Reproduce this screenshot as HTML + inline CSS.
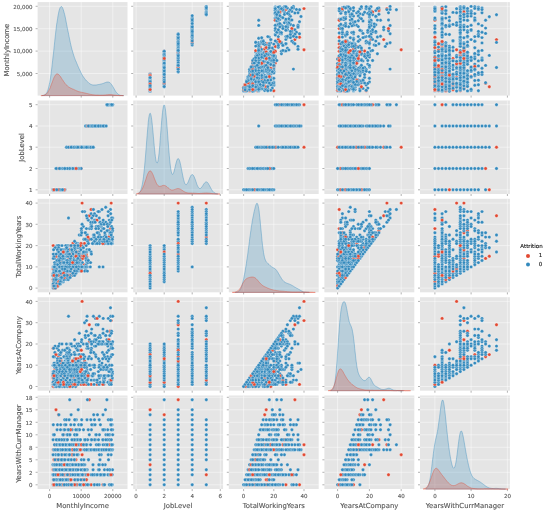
<!DOCTYPE html><html><head><meta charset="utf-8"><title>pairplot</title><style>html,body{margin:0;padding:0;background:#fff;overflow:hidden}svg{display:block;filter:blur(.4px)}</style></head><body><svg width="550" height="514" viewBox="0 0 550 514">
<style>text{font-family:"DejaVu Sans","Liberation Sans",sans-serif;fill:#555;stroke:#555;stroke-width:.12px}.t{font-size:5.5px}.l{font-size:6.87px}circle{r:1.7px;fill:#348ABD;stroke:#fff;stroke-width:0.3px}.r{fill:#E24A33}.g{stroke:#fff;stroke-width:.46px;fill:none}.k{stroke:#555;stroke-width:.46px;fill:none}</style>
<rect width="550" height="514" fill="#fff"/>
<rect x="37.6" y="2.1" width="89.9" height="93.5" fill="#E5E5E5"/>
<path class="g" d="M49.6 2.1v93.5M81.2 2.1v93.5M112.8 2.1v93.5M37.6 73.5h89.9M37.6 51.1h89.9M37.6 28.7h89.9M37.6 6.3h89.9"/>
<path class="k" d="M49.6 95.6v2M81.2 95.6v2M112.8 95.6v2M37.6 73.5h-2M37.6 51.1h-2M37.6 28.7h-2M37.6 6.3h-2"/>
<polygon points="41.9,95.6 42.4,95.5 42.8,95.5 43.2,95.4 43.6,95.3 44,95.2 44.4,95 44.8,94.8 45.2,94.5 45.6,94.1 46.1,93.7 46.5,93.1 46.9,92.4 47.3,91.6 47.7,90.5 48.1,89.3 48.5,87.9 48.9,86.2 49.3,84.3 49.8,82.2 50.2,79.8 50.6,77.2 51,74.3 51.4,71.2 51.8,67.9 52.2,64.4 52.6,60.8 53,57 53.5,53.2 53.9,49.3 54.3,45.4 54.7,41.6 55.1,37.8 55.5,34.2 55.9,30.6 56.3,27.3 56.7,24.1 57.2,21.2 57.6,18.5 58,16 58.4,13.9 58.8,11.9 59.2,10.3 59.6,9 60,7.9 60.4,7.2 60.9,6.7 61.3,6.6 61.7,6.7 62.1,7.1 62.5,7.7 62.9,8.7 63.3,9.8 63.7,11.1 64.1,12.6 64.6,14.3 65,16.1 65.4,18 65.8,20 66.2,22.1 66.6,24.2 67,26.3 67.4,28.4 67.8,30.5 68.3,32.6 68.7,34.7 69.1,36.7 69.5,38.7 69.9,40.6 70.3,42.5 70.7,44.3 71.1,46 71.5,47.7 71.9,49.3 72.4,50.8 72.8,52.3 73.2,53.7 73.6,55 74,56.2 74.4,57.4 74.8,58.5 75.2,59.6 75.6,60.6 76.1,61.6 76.5,62.6 76.9,63.6 77.3,64.5 77.7,65.5 78.1,66.4 78.5,67.3 78.9,68.3 79.3,69.2 79.8,70.1 80.2,71 80.6,71.8 81,72.7 81.4,73.5 81.8,74.3 82.2,75 82.6,75.7 83,76.3 83.5,77 83.9,77.6 84.3,78.1 84.7,78.7 85.1,79.2 85.5,79.7 85.9,80.1 86.3,80.6 86.7,81 87.2,81.4 87.6,81.8 88,82.2 88.4,82.6 88.8,83 89.2,83.3 89.6,83.6 90,83.9 90.4,84.1 90.9,84.3 91.3,84.5 91.7,84.7 92.1,84.8 92.5,84.9 92.9,85 93.3,85 93.7,85 94.1,85 94.6,85 95,85 95.4,85 95.8,84.9 96.2,84.9 96.6,84.9 97,84.8 97.4,84.7 97.8,84.7 98.3,84.6 98.7,84.5 99.1,84.5 99.5,84.4 99.9,84.3 100.3,84.2 100.7,84.1 101.1,84 101.5,83.9 102,83.8 102.4,83.7 102.8,83.5 103.2,83.4 103.6,83.3 104,83.1 104.4,82.9 104.8,82.8 105.2,82.6 105.6,82.5 106.1,82.3 106.5,82.2 106.9,82.1 107.3,82.1 107.7,82 108.1,82 108.5,82.1 108.9,82.2 109.3,82.4 109.8,82.6 110.2,83 110.6,83.4 111,83.8 111.4,84.3 111.8,84.9 112.2,85.5 112.6,86.2 113,86.9 113.5,87.7 113.9,88.4 114.3,89.1 114.7,89.8 115.1,90.5 115.5,91.2 115.9,91.8 116.3,92.3 116.7,92.8 117.2,93.3 117.6,93.7 118,94 118.4,94.4 118.8,94.6 119.2,94.8 119.6,95 120,95.1 120.4,95.3 120.9,95.4 121.3,95.4 121.7,95.5 122.1,95.5 122.5,95.6 122.9,95.6 123.3,95.6 123.7,95.6 123.7,95.6 41.9,95.6" fill="#348ABD" fill-opacity=".25" stroke="#348ABD" stroke-width=".4" stroke-linejoin="round"/>
<polygon points="40.9,95.6 41.3,95.6 41.7,95.6 42.1,95.5 42.5,95.5 42.9,95.4 43.3,95.4 43.8,95.3 44.2,95.2 44.6,95 45,94.8 45.4,94.6 45.8,94.3 46.2,94 46.7,93.7 47.1,93.2 47.5,92.7 47.9,92.1 48.3,91.5 48.7,90.7 49.2,89.9 49.6,89 50,88.1 50.4,87.1 50.8,86 51.2,84.9 51.6,83.8 52.1,82.6 52.5,81.5 52.9,80.3 53.3,79.3 53.7,78.3 54.1,77.3 54.6,76.5 55,75.8 55.4,75.1 55.8,74.6 56.2,74.3 56.6,74 57,73.9 57.5,73.9 57.9,74.1 58.3,74.3 58.7,74.6 59.1,75 59.5,75.5 60,76 60.4,76.5 60.8,77.1 61.2,77.8 61.6,78.4 62,79 62.4,79.7 62.9,80.3 63.3,81 63.7,81.6 64.1,82.2 64.5,82.7 64.9,83.3 65.3,83.8 65.8,84.3 66.2,84.8 66.6,85.2 67,85.6 67.4,86 67.8,86.3 68.3,86.7 68.7,87 69.1,87.2 69.5,87.5 69.9,87.7 70.3,87.9 70.7,88.1 71.2,88.3 71.6,88.5 72,88.7 72.4,88.9 72.8,89.1 73.2,89.2 73.7,89.4 74.1,89.6 74.5,89.8 74.9,90 75.3,90.2 75.7,90.4 76.1,90.6 76.6,90.8 77,91 77.4,91.1 77.8,91.3 78.2,91.5 78.6,91.6 79.1,91.7 79.5,91.8 79.9,91.9 80.3,92 80.7,92.1 81.1,92.2 81.5,92.3 82,92.4 82.4,92.5 82.8,92.5 83.2,92.6 83.6,92.7 84,92.8 84.4,92.9 84.9,93 85.3,93.1 85.7,93.2 86.1,93.3 86.5,93.4 86.9,93.5 87.4,93.6 87.8,93.7 88.2,93.8 88.6,93.9 89,94 89.4,94.1 89.8,94.2 90.3,94.3 90.7,94.4 91.1,94.4 91.5,94.5 91.9,94.6 92.3,94.7 92.8,94.7 93.2,94.8 93.6,94.8 94,94.9 94.4,94.9 94.8,94.9 95.2,95 95.7,95 96.1,95 96.5,95.1 96.9,95.1 97.3,95.1 97.7,95.1 98.2,95.1 98.6,95.1 99,95.1 99.4,95.2 99.8,95.2 100.2,95.2 100.6,95.2 101.1,95.2 101.5,95.2 101.9,95.2 102.3,95.2 102.7,95.1 103.1,95.1 103.5,95.1 104,95.1 104.4,95 104.8,95 105.2,95 105.6,94.9 106,94.9 106.5,94.8 106.9,94.8 107.3,94.8 107.7,94.7 108.1,94.7 108.5,94.6 108.9,94.6 109.4,94.6 109.8,94.6 110.2,94.6 110.6,94.6 111,94.6 111.4,94.6 111.9,94.7 112.3,94.7 112.7,94.8 113.1,94.8 113.5,94.9 113.9,94.9 114.3,95 114.8,95.1 115.2,95.1 115.6,95.2 116,95.2 116.4,95.3 116.8,95.3 117.3,95.4 117.7,95.4 118.1,95.5 118.5,95.5 118.9,95.5 119.3,95.6 119.7,95.6 120.2,95.6 120.6,95.6 121,95.6 121.4,95.6 121.8,95.6 122.2,95.6 122.6,95.6 123.1,95.6 123.5,95.6 123.5,95.6 40.9,95.6" fill="#E24A33" fill-opacity=".25" stroke="#E24A33" stroke-width=".4" stroke-linejoin="round"/>
<rect x="133.2" y="2.1" width="89.9" height="93.5" fill="#E5E5E5"/>
<path class="g" d="M136.1 2.1v93.5M164.2 2.1v93.5M192.2 2.1v93.5M220.3 2.1v93.5M133.2 73.5h89.9M133.2 51.1h89.9M133.2 28.7h89.9M133.2 6.3h89.9"/>
<path class="k" d="M136.1 95.6v2M164.2 95.6v2M192.2 95.6v2M220.3 95.6v2M133.2 73.5h-2M133.2 51.1h-2M133.2 28.7h-2M133.2 6.3h-2"/>
<circle class="r" cx="164.2" cy="51.2"/><circle class="r" cx="150.1" cy="74"/><circle cx="178.2" cy="38.3"/><circle cx="192.2" cy="39.4"/><circle cx="178.2" cy="72.1"/><circle cx="164.2" cy="86.7"/><circle cx="178.2" cy="71.6"/><circle cx="178.2" cy="33.9"/><circle cx="150.1" cy="91.2"/><circle cx="150.1" cy="74"/><circle cx="150.1" cy="74.5"/><circle cx="164.2" cy="53"/><circle cx="178.2" cy="66.4"/><circle cx="164.2" cy="83.8"/><circle cx="164.2" cy="61.7"/><circle cx="178.2" cy="58.8"/><circle cx="192.2" cy="45"/><circle cx="164.2" cy="51.5"/><circle cx="192.2" cy="43.2"/><circle cx="164.2" cy="54.2"/><circle cx="178.2" cy="53.9"/><circle cx="206.3" cy="14.7"/><circle cx="164.2" cy="84.8"/><circle cx="178.2" cy="52.9"/><circle cx="164.2" cy="51.3"/><circle class="r" cx="192.2" cy="41.5"/><circle class="r" cx="164.2" cy="82.9"/><circle cx="178.2" cy="45.5"/><circle cx="192.2" cy="37.6"/><circle cx="192.2" cy="40.9"/><circle class="r" cx="178.2" cy="52.4"/><circle cx="164.2" cy="65.8"/><circle cx="192.2" cy="25.5"/><circle cx="192.2" cy="28.5"/><circle cx="192.2" cy="33.8"/><circle cx="206.3" cy="6.4"/><circle cx="164.2" cy="64.6"/><circle cx="178.2" cy="39.6"/><circle cx="192.2" cy="36.2"/><circle cx="178.2" cy="68.3"/><circle cx="178.2" cy="44.7"/><circle cx="192.2" cy="21.7"/><circle cx="178.2" cy="36.2"/><circle cx="206.3" cy="6.7"/><circle cx="206.3" cy="11.7"/><circle cx="150.1" cy="74.7"/><circle cx="206.3" cy="9.6"/><circle cx="192.2" cy="35.1"/><circle cx="178.2" cy="37.8"/><circle class="r" cx="178.2" cy="67.2"/><circle cx="178.2" cy="48.6"/><circle cx="192.2" cy="27.2"/><circle cx="164.2" cy="60.3"/><circle cx="192.2" cy="26.6"/><circle cx="178.2" cy="34.3"/><circle cx="164.2" cy="86.6"/><circle cx="164.2" cy="78.6"/><circle cx="178.2" cy="51.5"/><circle cx="164.2" cy="54.3"/><circle cx="150.1" cy="91"/><circle cx="178.2" cy="54.7"/><circle cx="192.2" cy="29.8"/><circle cx="192.2" cy="30.3"/><circle cx="178.2" cy="57.1"/><circle cx="178.2" cy="46.1"/><circle class="r" cx="150.1" cy="82.9"/><circle cx="150.1" cy="84.4"/><circle cx="178.2" cy="47.9"/><circle cx="192.2" cy="23.6"/><circle cx="164.2" cy="55.6"/><circle class="r" cx="150.1" cy="90.3"/><circle cx="206.3" cy="12.4"/><circle cx="178.2" cy="49.5"/><circle cx="192.2" cy="17.9"/><circle cx="178.2" cy="69.2"/><circle cx="150.1" cy="90"/><circle cx="192.2" cy="26.9"/><circle cx="150.1" cy="87.4"/><circle cx="164.2" cy="59.6"/><circle cx="150.1" cy="88.7"/><circle cx="150.1" cy="89.9"/><circle cx="192.2" cy="18.7"/><circle class="r" cx="150.1" cy="75.1"/><circle cx="178.2" cy="60.1"/><circle cx="164.2" cy="69.3"/><circle cx="150.1" cy="89.3"/><circle cx="178.2" cy="64.3"/><circle cx="164.2" cy="79.1"/><circle cx="178.2" cy="58"/><circle cx="178.2" cy="50.3"/><circle cx="164.2" cy="57.2"/><circle cx="164.2" cy="57.8"/><circle cx="164.2" cy="66.4"/><circle cx="178.2" cy="60.7"/><circle cx="192.2" cy="20"/><circle cx="164.2" cy="80.2"/><circle cx="164.2" cy="63.2"/><circle class="r" cx="164.2" cy="58.5"/><circle class="r" cx="164.2" cy="76.6"/><circle cx="206.3" cy="8.7"/><circle cx="206.3" cy="7.8"/><circle cx="164.2" cy="81.9"/><circle cx="150.1" cy="86.8"/><circle class="r" cx="150.1" cy="89.6"/><circle class="r" cx="150.1" cy="76.1"/><circle cx="178.2" cy="41.3"/><circle cx="206.3" cy="13.4"/><circle cx="150.1" cy="82.3"/><circle cx="150.1" cy="79.8"/><circle cx="178.2" cy="55.8"/><circle cx="192.2" cy="15.7"/><circle cx="206.3" cy="14.5"/><circle cx="150.1" cy="80.7"/><circle cx="164.2" cy="63.1"/><circle cx="164.2" cy="72.6"/><circle cx="164.2" cy="70.7"/><circle cx="164.2" cy="77.1"/><circle cx="178.2" cy="50.4"/><circle cx="178.2" cy="62.8"/><circle cx="150.1" cy="78.2"/><circle cx="192.2" cy="32.6"/><circle cx="192.2" cy="31.4"/><circle cx="178.2" cy="42.3"/><circle cx="178.2" cy="65.3"/><circle cx="150.1" cy="81.7"/><circle cx="178.2" cy="65.4"/><circle class="r" cx="150.1" cy="84"/><circle cx="164.2" cy="67"/><circle cx="164.2" cy="67.7"/><circle cx="164.2" cy="73.1"/><circle cx="150.1" cy="77.6"/><circle cx="164.2" cy="71"/><circle cx="178.2" cy="43.7"/><circle cx="150.1" cy="85.7"/><circle cx="150.1" cy="77.6"/><circle cx="164.2" cy="75"/><circle cx="164.2" cy="74.4"/>
<rect x="228.8" y="2.1" width="89.9" height="93.5" fill="#E5E5E5"/>
<path class="g" d="M243.6 2.1v93.5M273.8 2.1v93.5M304 2.1v93.5M228.8 73.5h89.9M228.8 51.1h89.9M228.8 28.7h89.9M228.8 6.3h89.9"/>
<path class="k" d="M243.6 95.6v2M273.8 95.6v2M304 95.6v2M228.8 73.5h-2M228.8 51.1h-2M228.8 28.7h-2M228.8 6.3h-2"/>
<circle class="r" cx="266.2" cy="43.5"/><circle class="r" cx="260.2" cy="47.3"/><circle class="r" cx="285.9" cy="9.6"/><circle class="r" cx="294.9" cy="39.6"/><circle class="r" cx="284.4" cy="10.7"/><circle class="r" cx="304" cy="8.6"/><circle class="r" cx="264.7" cy="83.3"/><circle class="r" cx="278.3" cy="39.4"/><circle class="r" cx="299.5" cy="37.2"/><circle cx="261.7" cy="49.5"/><circle cx="263.2" cy="52.6"/><circle cx="278.3" cy="21"/><circle cx="258.7" cy="38.3"/><circle cx="285.9" cy="39.4"/><circle cx="287.4" cy="8.1"/><circle cx="275.3" cy="14.5"/><circle cx="267.8" cy="48.9"/><circle cx="275.3" cy="56.2"/><circle cx="273.8" cy="67"/><circle cx="249.6" cy="69.3"/><circle cx="298" cy="27.4"/><circle class="r" cx="273.8" cy="90.8"/><circle cx="264.7" cy="42.9"/><circle cx="287.4" cy="48.1"/><circle cx="275.3" cy="34"/><circle cx="281.4" cy="25.2"/><circle cx="263.2" cy="86"/><circle cx="285.9" cy="43.8"/><circle cx="275.3" cy="13.6"/><circle cx="281.4" cy="53.8"/><circle cx="264.7" cy="82.8"/><circle cx="284.4" cy="22.8"/><circle cx="276.8" cy="33"/><circle cx="294.9" cy="29.8"/><circle cx="267.8" cy="82.9"/><circle cx="273.8" cy="72.1"/><circle cx="275.3" cy="20.5"/><circle cx="255.7" cy="42.6"/><circle cx="278.3" cy="36.6"/><circle cx="245.1" cy="84.1"/><circle class="r" cx="275.3" cy="46.5"/><circle cx="284.4" cy="7.3"/><circle cx="273.8" cy="68.9"/><circle cx="261.7" cy="86.7"/><circle cx="287.4" cy="22.8"/><circle cx="275.3" cy="58.1"/><circle cx="264.7" cy="51.7"/><circle cx="258.7" cy="20.3"/><circle cx="263.2" cy="85.3"/><circle cx="267.8" cy="52.9"/><circle cx="270.8" cy="42.9"/><circle cx="298" cy="46.4"/><circle cx="251.2" cy="66.8"/><circle cx="284.4" cy="12.3"/><circle cx="266.2" cy="72"/><circle cx="263.2" cy="53.5"/><circle cx="275.3" cy="51.5"/><circle class="r" cx="267.8" cy="43.9"/><circle cx="299.5" cy="9.7"/><circle cx="282.9" cy="10.6"/><circle cx="276.8" cy="42"/><circle cx="270.8" cy="39.8"/><circle cx="290.4" cy="24.7"/><circle cx="278.3" cy="47.3"/><circle cx="281.4" cy="10.5"/><circle class="r" cx="257.2" cy="90.8"/><circle cx="281.4" cy="33.9"/><circle cx="248.1" cy="77.4"/><circle cx="269.3" cy="43.4"/><circle cx="255.7" cy="90"/><circle cx="290.4" cy="36.1"/><circle cx="260.2" cy="51.8"/><circle cx="267.8" cy="73.9"/><circle cx="296.4" cy="37.1"/><circle cx="243.6" cy="91"/><circle cx="291.9" cy="41.2"/><circle cx="269.3" cy="84.3"/><circle cx="298" cy="25.3"/><circle cx="279.8" cy="12.9"/><circle cx="266.2" cy="48"/><circle cx="249.6" cy="71.8"/><circle cx="273.8" cy="81.9"/><circle cx="273.8" cy="57.1"/><circle cx="269.3" cy="37.1"/><circle cx="287.4" cy="29.7"/><circle cx="296.4" cy="32.2"/><circle cx="245.1" cy="91"/><circle cx="273.8" cy="54.8"/><circle cx="291.9" cy="11.4"/><circle cx="264.7" cy="65.1"/><circle cx="273.8" cy="78.3"/><circle cx="275.3" cy="13.3"/><circle cx="260.2" cy="54.1"/><circle cx="255.7" cy="52.1"/><circle cx="285.9" cy="20.2"/><circle cx="270.8" cy="74.3"/><circle cx="264.7" cy="75.1"/><circle cx="275.3" cy="30.5"/><circle cx="273.8" cy="85.4"/><circle cx="270.8" cy="62"/><circle cx="267.8" cy="36.6"/><circle cx="275.3" cy="25.7"/><circle cx="285.9" cy="36.6"/><circle cx="284.4" cy="50.9"/><circle cx="298" cy="49.3"/><circle cx="279.8" cy="33.4"/><circle cx="273.8" cy="50.2"/><circle cx="245.1" cy="90.7"/><circle cx="267.8" cy="72.7"/><circle cx="279.8" cy="31.4"/><circle cx="270.8" cy="77.1"/><circle class="r" cx="275.3" cy="63.1"/><circle cx="261.7" cy="65.3"/><circle cx="279.8" cy="31.9"/><circle cx="270.8" cy="60.9"/><circle cx="264.7" cy="75.5"/><circle cx="272.3" cy="58.3"/><circle cx="258.7" cy="90.9"/><circle cx="261.7" cy="41"/><circle cx="285.9" cy="50.9"/><circle cx="252.7" cy="91.2"/><circle cx="284.4" cy="6.7"/><circle cx="293.4" cy="69.1"/><circle cx="278.3" cy="44"/><circle cx="266.2" cy="45.1"/><circle class="r" cx="264.7" cy="62"/><circle cx="276.8" cy="25.3"/><circle cx="294.9" cy="13"/><circle cx="269.3" cy="73"/><circle cx="290.4" cy="24.3"/><circle cx="288.9" cy="22"/><circle class="r" cx="252.7" cy="62.1"/><circle cx="272.3" cy="55.4"/><circle cx="276.8" cy="60.5"/><circle cx="267.8" cy="82.2"/><circle cx="288.9" cy="23.1"/><circle cx="298" cy="12.8"/><circle class="r" cx="304" cy="49.8"/><circle cx="257.2" cy="45"/><circle cx="266.2" cy="76.6"/><circle cx="269.3" cy="59.7"/><circle cx="264.7" cy="89"/><circle cx="243.6" cy="90.4"/><circle cx="249.6" cy="69.7"/><circle class="r" cx="245.1" cy="84.4"/><circle class="r" cx="266.2" cy="51.9"/><circle cx="275.3" cy="25.3"/><circle cx="270.8" cy="60.1"/><circle cx="273.8" cy="84.8"/><circle cx="282.9" cy="10.2"/><circle cx="258.7" cy="42.7"/><circle cx="273.8" cy="44.1"/><circle cx="275.3" cy="17.6"/><circle cx="267.8" cy="88.4"/><circle cx="260.2" cy="44"/><circle cx="246.6" cy="82.9"/><circle cx="272.3" cy="52.5"/><circle cx="261.7" cy="42.9"/><circle class="r" cx="243.6" cy="87.2"/><circle class="r" cx="275.3" cy="51.3"/><circle cx="264.7" cy="61.3"/><circle cx="269.3" cy="44.3"/><circle cx="264.7" cy="90.6"/><circle cx="273.8" cy="62.7"/><circle cx="291.9" cy="32.4"/><circle cx="285.9" cy="29.6"/><circle cx="272.3" cy="60.5"/><circle class="r" cx="266.2" cy="86.8"/><circle cx="264.7" cy="44.7"/><circle cx="279.8" cy="6.7"/><circle cx="270.8" cy="68"/><circle cx="288.9" cy="49.9"/><circle cx="246.6" cy="80.7"/><circle class="r" cx="270.8" cy="68.4"/><circle cx="278.3" cy="23.9"/><circle cx="263.2" cy="61"/><circle cx="288.9" cy="11.6"/><circle cx="301" cy="16.5"/><circle cx="270.8" cy="51.4"/><circle cx="257.2" cy="52.2"/><circle cx="266.2" cy="59.5"/><circle cx="298" cy="26.8"/><circle cx="272.3" cy="85.1"/><circle cx="267.8" cy="58.3"/><circle cx="267.8" cy="62.7"/><circle cx="275.3" cy="7"/><circle cx="284.4" cy="14.4"/><circle cx="269.3" cy="54.5"/><circle cx="267.8" cy="66.3"/><circle cx="273.8" cy="71.3"/><circle cx="251.2" cy="68.4"/><circle cx="273.8" cy="65.3"/><circle cx="270.8" cy="78.3"/><circle cx="275.3" cy="18.6"/><circle cx="285.9" cy="19.1"/><circle cx="276.8" cy="10.3"/><circle cx="273.8" cy="73"/><circle cx="285.9" cy="43.7"/><circle cx="275.3" cy="8.1"/><circle cx="258.7" cy="90.2"/><circle cx="273.8" cy="83.1"/><circle cx="267.8" cy="54"/><circle cx="279.8" cy="32.3"/><circle class="r" cx="269.3" cy="57.6"/><circle cx="291.9" cy="30.8"/><circle cx="252.7" cy="63.4"/><circle cx="281.4" cy="42.4"/><circle cx="263.2" cy="43.8"/><circle cx="248.1" cy="76.6"/><circle cx="276.8" cy="32.6"/><circle cx="275.3" cy="8.4"/><circle cx="269.3" cy="83.4"/><circle cx="273.8" cy="66.4"/><circle cx="294.9" cy="34.2"/><circle cx="269.3" cy="74.5"/><circle cx="266.2" cy="89.6"/><circle cx="272.3" cy="71.5"/><circle cx="281.4" cy="51.2"/><circle cx="255.7" cy="62.7"/><circle cx="272.3" cy="83.4"/><circle class="r" cx="264.7" cy="48.9"/><circle cx="258.7" cy="47.1"/><circle cx="269.3" cy="63.6"/><circle cx="260.2" cy="59.9"/><circle cx="263.2" cy="61.7"/><circle cx="279.8" cy="19.6"/><circle class="r" cx="252.7" cy="66.3"/><circle cx="272.3" cy="88.1"/><circle cx="275.3" cy="10.8"/><circle cx="269.3" cy="46"/><circle cx="278.3" cy="10.8"/><circle cx="269.3" cy="70"/><circle cx="266.2" cy="58.8"/><circle cx="282.9" cy="45"/><circle cx="264.7" cy="78.3"/><circle cx="296.4" cy="9.4"/><circle cx="266.2" cy="47.8"/><circle cx="270.8" cy="51.5"/><circle cx="258.7" cy="57.2"/><circle cx="260.2" cy="71.7"/><circle cx="281.4" cy="17.1"/><circle cx="281.4" cy="43.2"/><circle cx="273.8" cy="56.3"/><circle cx="263.2" cy="72.2"/><circle cx="257.2" cy="64.9"/><circle cx="255.7" cy="66.1"/><circle cx="261.7" cy="54.2"/><circle cx="282.9" cy="8"/><circle cx="258.7" cy="25.4"/><circle class="r" cx="273.8" cy="65.7"/><circle cx="254.2" cy="90.8"/><circle cx="270.8" cy="70.1"/><circle class="r" cx="261.7" cy="79.9"/><circle cx="261.7" cy="41.7"/><circle cx="266.2" cy="71.4"/><circle cx="275.3" cy="10.3"/><circle cx="287.4" cy="25"/><circle cx="257.2" cy="53.9"/><circle class="r" cx="266.2" cy="47.6"/><circle cx="282.9" cy="45.4"/><circle cx="261.7" cy="88.9"/><circle cx="263.2" cy="57.5"/><circle cx="287.4" cy="37.2"/><circle cx="260.2" cy="63.4"/><circle cx="255.7" cy="89.6"/><circle cx="252.7" cy="60.4"/><circle cx="270.8" cy="84.8"/><circle cx="258.7" cy="52.9"/><circle class="r" cx="291.9" cy="28.5"/><circle cx="270.8" cy="90.2"/><circle cx="267.8" cy="71.7"/><circle cx="278.3" cy="24.4"/><circle cx="264.7" cy="77"/><circle cx="290.4" cy="20.1"/><circle cx="270.8" cy="64.5"/><circle cx="272.3" cy="71.8"/><circle cx="281.4" cy="8.5"/><circle cx="248.1" cy="86.6"/><circle cx="263.2" cy="40.8"/><circle cx="291.9" cy="41.1"/><circle cx="260.2" cy="86.5"/><circle cx="255.7" cy="84.7"/><circle cx="267.8" cy="62.8"/><circle cx="266.2" cy="82.1"/><circle class="r" cx="279.8" cy="41.5"/><circle cx="263.2" cy="68.5"/><circle cx="267.8" cy="90.7"/><circle cx="276.8" cy="17"/><circle cx="254.2" cy="78"/><circle cx="245.1" cy="85.6"/><circle cx="260.2" cy="81"/><circle cx="281.4" cy="25.6"/><circle cx="249.6" cy="83.1"/><circle cx="254.2" cy="58.6"/><circle class="r" cx="275.3" cy="20.3"/><circle cx="251.2" cy="80.8"/><circle class="r" cx="249.6" cy="90.9"/><circle cx="282.9" cy="26.7"/><circle cx="278.3" cy="45.5"/><circle cx="290.4" cy="37.6"/><circle cx="276.8" cy="20.7"/><circle cx="254.2" cy="73.1"/><circle cx="246.6" cy="86.1"/><circle cx="290.4" cy="16.2"/><circle cx="275.3" cy="40.9"/><circle cx="255.7" cy="56"/><circle cx="287.4" cy="26.2"/><circle class="r" cx="273.8" cy="52.4"/><circle class="r" cx="252.7" cy="76.6"/><circle cx="264.7" cy="80.5"/><circle cx="276.8" cy="32.3"/><circle cx="258.7" cy="89.5"/><circle class="r" cx="243.6" cy="89.1"/><circle cx="282.9" cy="28.5"/><circle cx="254.2" cy="90"/><circle cx="257.2" cy="85.5"/><circle class="r" cx="252.7" cy="88.8"/><circle class="r" cx="245.1" cy="85"/><circle cx="282.9" cy="9.6"/><circle cx="293.4" cy="25.5"/><circle cx="269.3" cy="77.3"/><circle cx="275.3" cy="28.5"/><circle cx="269.3" cy="75.5"/><circle cx="260.2" cy="88.5"/><circle cx="276.8" cy="11.7"/><circle cx="299.5" cy="33.8"/><circle cx="293.4" cy="6.4"/><circle cx="261.7" cy="75"/><circle cx="279.8" cy="8.7"/><circle cx="270.8" cy="39.6"/><circle cx="261.7" cy="55.2"/><circle cx="287.4" cy="36.2"/><circle cx="273.8" cy="55.7"/><circle cx="273.8" cy="65.4"/><circle cx="269.3" cy="83"/><circle cx="257.2" cy="88.7"/><circle class="r" cx="279.8" cy="11.9"/><circle cx="261.7" cy="67.5"/><circle cx="267.8" cy="54.8"/><circle cx="263.2" cy="66.7"/><circle cx="258.7" cy="44.7"/><circle cx="281.4" cy="8.7"/><circle cx="258.7" cy="80.3"/><circle cx="248.1" cy="89.7"/><circle cx="270.8" cy="80"/><circle cx="299.5" cy="21.7"/><circle class="r" cx="258.7" cy="64.8"/><circle cx="258.7" cy="60.9"/><circle cx="264.7" cy="66.4"/><circle cx="293.4" cy="36.2"/><circle cx="266.2" cy="71.1"/><circle class="r" cx="255.7" cy="50.6"/><circle cx="261.7" cy="66.9"/><circle cx="278.3" cy="7.1"/><circle class="r" cx="261.7" cy="63.3"/><circle cx="282.9" cy="17.7"/><circle cx="288.9" cy="18.8"/><circle cx="261.7" cy="77.5"/><circle cx="285.9" cy="6.7"/><circle cx="278.3" cy="11.7"/><circle cx="258.7" cy="46.3"/><circle cx="257.2" cy="79.5"/><circle cx="290.4" cy="9.6"/><circle cx="261.7" cy="75.5"/><circle cx="243.6" cy="88"/><circle cx="275.3" cy="35.1"/><circle cx="261.7" cy="37.8"/><circle class="r" cx="267.8" cy="67.2"/><circle cx="252.7" cy="82.8"/><circle cx="257.2" cy="86.6"/><circle cx="251.2" cy="71.7"/><circle cx="248.1" cy="78.5"/><circle cx="258.7" cy="88"/><circle cx="258.7" cy="48.6"/><circle cx="293.4" cy="8"/><circle cx="287.4" cy="27.2"/><circle cx="246.6" cy="90.9"/><circle cx="278.3" cy="19.2"/><circle cx="269.3" cy="70.3"/><circle cx="258.7" cy="89.3"/><circle cx="273.8" cy="60.3"/><circle cx="285.9" cy="26.6"/><circle cx="263.2" cy="70.9"/><circle cx="258.7" cy="82.8"/><circle cx="290.4" cy="34.3"/><circle cx="251.2" cy="79.7"/><circle cx="267.8" cy="86.6"/><circle cx="249.6" cy="85.5"/><circle cx="254.2" cy="79.9"/><circle cx="258.7" cy="51.5"/><circle cx="249.6" cy="74.5"/><circle cx="266.2" cy="54.3"/><circle cx="252.7" cy="67"/><circle cx="245.1" cy="87.7"/><circle cx="272.3" cy="48"/><circle cx="255.7" cy="57.1"/><circle cx="252.7" cy="91"/><circle cx="258.7" cy="54.7"/><circle cx="275.3" cy="12.8"/><circle class="r" cx="252.7" cy="69.5"/><circle cx="278.3" cy="29.8"/><circle cx="285.9" cy="30.3"/><circle cx="293.4" cy="42.7"/><circle cx="266.2" cy="57.1"/><circle cx="255.7" cy="46.1"/><circle class="r" cx="248.1" cy="82.9"/><circle cx="260.2" cy="84.4"/><circle cx="269.3" cy="47.9"/><circle cx="269.3" cy="58.2"/><circle cx="279.8" cy="23.6"/><circle cx="261.7" cy="81.4"/><circle cx="266.2" cy="69.5"/><circle cx="257.2" cy="55.6"/><circle cx="252.7" cy="86.6"/><circle class="r" cx="245.1" cy="90.3"/><circle cx="249.6" cy="75.8"/><circle cx="278.3" cy="12.4"/><circle cx="255.7" cy="74.7"/><circle cx="258.7" cy="76.4"/><circle cx="255.7" cy="81.2"/><circle cx="258.7" cy="49.5"/><circle cx="276.8" cy="17.9"/><circle cx="255.7" cy="69.2"/><circle cx="257.2" cy="72.3"/><circle cx="249.6" cy="90"/><circle cx="255.7" cy="86.9"/><circle cx="249.6" cy="79.9"/><circle cx="255.7" cy="70.6"/><circle cx="279.8" cy="26.9"/><circle cx="251.2" cy="87.4"/><circle cx="245.1" cy="88.7"/><circle cx="245.1" cy="89.9"/><circle cx="278.3" cy="18.7"/><circle class="r" cx="251.2" cy="75.1"/><circle cx="258.7" cy="60.1"/><circle cx="267.8" cy="69.3"/><circle cx="249.6" cy="89.3"/><circle cx="251.2" cy="77.7"/><circle cx="261.7" cy="70.8"/><circle cx="258.7" cy="64.3"/><circle cx="251.2" cy="79.1"/><circle cx="258.7" cy="78.7"/><circle cx="258.7" cy="58"/><circle cx="258.7" cy="50.3"/><circle cx="261.7" cy="57.2"/><circle cx="255.7" cy="57.8"/><circle cx="255.7" cy="66.4"/><circle cx="255.7" cy="60.7"/><circle cx="291.9" cy="20"/><circle cx="267.8" cy="80.2"/><circle cx="258.7" cy="63.2"/><circle class="r" cx="266.2" cy="58.5"/><circle cx="260.2" cy="67.7"/><circle class="r" cx="269.3" cy="76.6"/><circle cx="258.7" cy="67.7"/><circle cx="275.3" cy="8.7"/><circle cx="291.9" cy="7.8"/><circle cx="255.7" cy="81.9"/><circle cx="249.6" cy="86.8"/><circle class="r" cx="252.7" cy="89.6"/><circle class="r" cx="254.2" cy="76.1"/><circle cx="288.9" cy="14.3"/><circle cx="263.2" cy="41.3"/><circle cx="287.4" cy="13.4"/><circle cx="263.2" cy="82.3"/><circle cx="248.1" cy="79.8"/><circle cx="264.7" cy="55.8"/><circle cx="279.8" cy="15.7"/><circle cx="258.7" cy="75.2"/><circle cx="276.8" cy="14.5"/><circle cx="248.1" cy="80.7"/><circle cx="254.2" cy="63.1"/><circle cx="252.7" cy="72.6"/><circle cx="258.7" cy="70.7"/><circle cx="266.2" cy="77.1"/><circle cx="282.9" cy="50.4"/><circle cx="258.7" cy="81.7"/><circle cx="258.7" cy="62.8"/><circle cx="258.7" cy="78.2"/><circle cx="281.4" cy="32.6"/><circle cx="290.4" cy="31.4"/><circle cx="255.7" cy="42.3"/><circle cx="257.2" cy="65.3"/><circle cx="246.6" cy="81.7"/><circle cx="266.2" cy="65.4"/><circle class="r" cx="252.7" cy="84"/><circle cx="251.2" cy="67"/><circle cx="267.8" cy="67.7"/><circle cx="258.7" cy="73.1"/><circle cx="252.7" cy="71"/><circle cx="294.9" cy="43.7"/><circle cx="252.7" cy="85.7"/><circle cx="257.2" cy="77.6"/><circle cx="252.7" cy="75"/><circle cx="257.2" cy="74.4"/>
<rect x="324.4" y="2.1" width="89.9" height="93.5" fill="#E5E5E5"/>
<path class="g" d="M337.6 2.1v93.5M369.4 2.1v93.5M401.2 2.1v93.5M324.4 73.5h89.9M324.4 51.1h89.9M324.4 28.7h89.9M324.4 6.3h89.9"/>
<path class="k" d="M337.6 95.6v2M369.4 95.6v2M401.2 95.6v2M324.4 73.5h-2M324.4 51.1h-2M324.4 28.7h-2M324.4 6.3h-2"/>
<circle class="r" cx="383.7" cy="39.6"/><circle class="r" cx="339.2" cy="51.2"/><circle class="r" cx="378.9" cy="10.7"/><circle class="r" cx="339.2" cy="28.6"/><circle class="r" cx="337.6" cy="58.9"/><circle class="r" cx="378.9" cy="9.4"/><circle class="r" cx="386.9" cy="8.6"/><circle class="r" cx="359.9" cy="83.3"/><circle class="r" cx="371" cy="39.4"/><circle class="r" cx="339.2" cy="37.2"/><circle cx="367.8" cy="53.8"/><circle cx="361.4" cy="72.2"/><circle cx="366.2" cy="57.9"/><circle cx="363" cy="21"/><circle cx="353.5" cy="38.3"/><circle cx="361.4" cy="82.7"/><circle cx="355.1" cy="66.3"/><circle cx="372.6" cy="39.4"/><circle cx="361.4" cy="8.1"/><circle cx="363" cy="14.5"/><circle cx="342.4" cy="48.9"/><circle cx="345.6" cy="34.5"/><circle cx="364.6" cy="54.4"/><circle cx="369.4" cy="67"/><circle cx="369.4" cy="20.7"/><circle cx="342.4" cy="7.8"/><circle cx="337.6" cy="65.9"/><circle cx="350.3" cy="43"/><circle class="r" cx="366.2" cy="90.8"/><circle cx="337.6" cy="68.6"/><circle cx="337.6" cy="59.1"/><circle cx="348.7" cy="42.9"/><circle cx="369.4" cy="48.1"/><circle cx="367.8" cy="64.1"/><circle cx="356.7" cy="63.8"/><circle cx="342.4" cy="34"/><circle cx="340.8" cy="25.2"/><circle cx="378.9" cy="43.8"/><circle cx="359.9" cy="74.4"/><circle cx="377.4" cy="53.8"/><circle cx="348.7" cy="52.8"/><circle cx="358.3" cy="82.8"/><circle cx="371" cy="22.8"/><circle class="r" cx="337.6" cy="77.2"/><circle cx="358.3" cy="81.6"/><circle cx="339.2" cy="33"/><circle cx="388.5" cy="29.8"/><circle cx="369.4" cy="72.1"/><circle cx="371" cy="20.5"/><circle cx="337.6" cy="74.1"/><circle cx="358.3" cy="60.8"/><circle cx="361.4" cy="54.6"/><circle cx="366.2" cy="36.6"/><circle cx="337.6" cy="74.3"/><circle cx="366.2" cy="69.4"/><circle class="r" cx="356.7" cy="46.5"/><circle cx="369.4" cy="7.3"/><circle cx="353.5" cy="22.8"/><circle cx="367.8" cy="32.3"/><circle cx="342.4" cy="18.1"/><circle cx="358.3" cy="51.7"/><circle cx="351.9" cy="20.3"/><circle cx="366.2" cy="42.9"/><circle cx="385.3" cy="46.4"/><circle cx="361.4" cy="30.9"/><circle cx="359.9" cy="75.8"/><circle cx="359.9" cy="13.7"/><circle cx="364.6" cy="12.3"/><circle cx="366.2" cy="8.7"/><circle cx="369.4" cy="28.1"/><circle cx="356.7" cy="53.5"/><circle cx="371" cy="25.9"/><circle cx="363" cy="71.6"/><circle class="r" cx="339.2" cy="43.9"/><circle cx="396.4" cy="9.7"/><circle cx="361.4" cy="80.5"/><circle cx="375.8" cy="10.6"/><circle cx="364.6" cy="56.2"/><circle cx="369.4" cy="42"/><circle cx="359.9" cy="39.8"/><circle cx="339.2" cy="19.1"/><circle cx="359.9" cy="46.2"/><circle cx="375.8" cy="24.7"/><circle cx="377.4" cy="37"/><circle cx="342.4" cy="10.5"/><circle cx="358.3" cy="47.3"/><circle cx="337.6" cy="78.3"/><circle cx="347.1" cy="56"/><circle cx="353.5" cy="33.9"/><circle cx="337.6" cy="74.8"/><circle cx="345.6" cy="36.1"/><circle cx="356.7" cy="73.9"/><circle cx="348.7" cy="55.9"/><circle cx="371" cy="20.2"/><circle cx="342.4" cy="37.1"/><circle cx="337.6" cy="91"/><circle cx="366.2" cy="41.2"/><circle cx="359.9" cy="9"/><circle cx="361.4" cy="53.5"/><circle cx="356.7" cy="12.9"/><circle cx="339.2" cy="48"/><circle cx="337.6" cy="63.5"/><circle cx="369.4" cy="81.9"/><circle cx="369.4" cy="57.1"/><circle cx="364.6" cy="37.1"/><circle cx="383.7" cy="29.7"/><circle cx="342.4" cy="32.2"/><circle cx="358.3" cy="84.8"/><circle cx="339.2" cy="91"/><circle cx="369.4" cy="54.8"/><circle cx="340.8" cy="11.4"/><circle cx="369.4" cy="78.3"/><circle cx="340.8" cy="13.3"/><circle cx="342.4" cy="19.3"/><circle cx="351.9" cy="84.1"/><circle cx="380.5" cy="20.2"/><circle cx="367.8" cy="30.5"/><circle cx="339.2" cy="56.6"/><circle cx="358.3" cy="36.6"/><circle cx="339.2" cy="25.7"/><circle class="r" cx="364.6" cy="51"/><circle cx="369.4" cy="36.6"/><circle cx="361.4" cy="69"/><circle cx="369.4" cy="10.7"/><circle cx="371" cy="50.9"/><circle cx="355.1" cy="49.3"/><circle cx="363" cy="33.4"/><circle cx="337.6" cy="70.7"/><circle cx="361.4" cy="50.2"/><circle cx="350.3" cy="8.1"/><circle cx="339.2" cy="90.7"/><circle cx="358.3" cy="72.7"/><circle cx="371" cy="31.4"/><circle cx="345.6" cy="44.4"/><circle cx="372.6" cy="31.9"/><circle cx="363" cy="60.9"/><circle cx="363" cy="70.2"/><circle cx="353.5" cy="90.9"/><circle cx="347.1" cy="41"/><circle cx="358.3" cy="15.9"/><circle cx="358.3" cy="79.9"/><circle cx="355.1" cy="50.9"/><circle cx="345.6" cy="91.2"/><circle cx="371" cy="6.7"/><circle cx="390.1" cy="69.1"/><circle cx="359.9" cy="67.5"/><circle cx="369.4" cy="44"/><circle class="r" cx="351.9" cy="85.2"/><circle class="r" cx="350.3" cy="88.6"/><circle cx="356.7" cy="25.3"/><circle cx="340.8" cy="24.3"/><circle cx="369.4" cy="22"/><circle cx="348.7" cy="46.9"/><circle cx="367.8" cy="55.4"/><circle cx="372.6" cy="60.5"/><circle cx="364.6" cy="77.4"/><circle cx="347.1" cy="6.8"/><circle cx="345.6" cy="23.1"/><circle cx="388.5" cy="12.8"/><circle class="r" cx="401.2" cy="49.8"/><circle cx="348.7" cy="45"/><circle cx="359.9" cy="89"/><circle cx="337.6" cy="90.4"/><circle class="r" cx="337.6" cy="84.4"/><circle cx="355.1" cy="87.3"/><circle cx="364.6" cy="67.5"/><circle class="r" cx="359.9" cy="51.9"/><circle cx="353.5" cy="25.3"/><circle class="r" cx="340.8" cy="50"/><circle cx="356.7" cy="84.8"/><circle cx="353.5" cy="42.7"/><circle cx="353.5" cy="44.1"/><circle cx="358.3" cy="57.7"/><circle cx="371" cy="11"/><circle cx="350.3" cy="20.1"/><circle cx="369.4" cy="65.6"/><circle cx="363" cy="88.4"/><circle cx="355.1" cy="44"/><circle cx="358.3" cy="59.4"/><circle cx="367.8" cy="52.5"/><circle cx="344" cy="42.9"/><circle cx="361.4" cy="81"/><circle cx="355.1" cy="74"/><circle cx="351.9" cy="25.8"/><circle cx="342.4" cy="44.3"/><circle cx="345.6" cy="90.6"/><circle cx="347.1" cy="7.2"/><circle cx="351.9" cy="32.4"/><circle cx="342.4" cy="29.6"/><circle cx="367.8" cy="60.5"/><circle class="r" cx="361.4" cy="86.8"/><circle cx="353.5" cy="44.7"/><circle cx="361.4" cy="6.7"/><circle cx="363" cy="68"/><circle cx="347.1" cy="49.9"/><circle cx="374.2" cy="23.9"/><circle cx="358.3" cy="11.6"/><circle cx="350.3" cy="16.5"/><circle cx="353.5" cy="86"/><circle cx="353.5" cy="16.1"/><circle cx="337.6" cy="68.2"/><circle cx="342.4" cy="63.9"/><circle cx="361.4" cy="59.5"/><circle cx="342.4" cy="57.7"/><circle cx="348.7" cy="26.8"/><circle cx="366.2" cy="85.1"/><circle cx="342.4" cy="62.7"/><circle cx="339.2" cy="90.4"/><circle cx="348.7" cy="7"/><circle cx="351.9" cy="50.8"/><circle cx="350.3" cy="14.4"/><circle cx="353.5" cy="54.5"/><circle cx="366.2" cy="71.3"/><circle cx="361.4" cy="65.3"/><circle cx="351.9" cy="19.1"/><circle cx="340.8" cy="10.3"/><circle cx="340.8" cy="43.7"/><circle cx="367.8" cy="8.1"/><circle cx="342.4" cy="62.2"/><circle cx="339.2" cy="59.3"/><circle cx="353.5" cy="90.2"/><circle cx="340.8" cy="9.2"/><circle cx="353.5" cy="53"/><circle cx="350.3" cy="54"/><circle cx="347.1" cy="32.3"/><circle class="r" cx="339.2" cy="57.6"/><circle cx="388.5" cy="30.8"/><circle cx="347.1" cy="63.4"/><circle cx="367.8" cy="42.4"/><circle cx="351.9" cy="43.8"/><circle cx="351.9" cy="32.6"/><circle cx="366.2" cy="8.4"/><circle cx="348.7" cy="87.8"/><circle cx="351.9" cy="81.5"/><circle cx="371" cy="34.2"/><circle cx="364.6" cy="74.5"/><circle cx="369.4" cy="8.6"/><circle cx="351.9" cy="13.8"/><circle cx="355.1" cy="89.6"/><circle cx="342.4" cy="56.3"/><circle cx="348.7" cy="86.1"/><circle cx="340.8" cy="51.2"/><circle cx="345.6" cy="62.7"/><circle cx="367.8" cy="83.4"/><circle class="r" cx="353.5" cy="48.9"/><circle cx="340.8" cy="47.1"/><circle cx="375.8" cy="16.7"/><circle cx="353.5" cy="66"/><circle cx="339.2" cy="63.6"/><circle cx="345.6" cy="59.9"/><circle cx="356.7" cy="61.7"/><circle cx="344" cy="19.6"/><circle class="r" cx="342.4" cy="66.3"/><circle cx="337.6" cy="80"/><circle cx="367.8" cy="88.1"/><circle cx="339.2" cy="10.8"/><circle cx="347.1" cy="46"/><circle cx="353.5" cy="10.8"/><circle cx="355.1" cy="58.8"/><circle cx="374.2" cy="45"/><circle cx="356.7" cy="79.7"/><circle cx="353.5" cy="56.8"/><circle cx="390.1" cy="9.4"/><circle cx="355.1" cy="47.8"/><circle cx="344" cy="51.5"/><circle cx="337.6" cy="81.3"/><circle cx="355.1" cy="71.7"/><circle cx="345.6" cy="17.1"/><circle cx="337.6" cy="83.5"/><circle class="r" cx="358.3" cy="55.7"/><circle cx="369.4" cy="43.2"/><circle cx="347.1" cy="56.3"/><circle cx="358.3" cy="72.2"/><circle cx="353.5" cy="52.8"/><circle class="r" cx="342.4" cy="8.8"/><circle cx="356.7" cy="54.2"/><circle cx="340.8" cy="59.4"/><circle cx="378.9" cy="8"/><circle cx="337.6" cy="85.8"/><circle cx="344" cy="25.4"/><circle cx="348.7" cy="90.8"/><circle class="r" cx="356.7" cy="79.9"/><circle cx="345.6" cy="13.7"/><circle cx="344" cy="41.7"/><circle cx="359.9" cy="71.4"/><circle cx="348.7" cy="10.3"/><circle cx="369.4" cy="25"/><circle cx="342.4" cy="53.9"/><circle class="r" cx="339.2" cy="47.6"/><circle cx="375.8" cy="45.4"/><circle cx="371" cy="37.2"/><circle cx="348.7" cy="89.6"/><circle cx="359.9" cy="18"/><circle cx="372.6" cy="14.7"/><circle cx="347.1" cy="60.4"/><circle cx="353.5" cy="84.8"/><circle cx="345.6" cy="52.9"/><circle cx="348.7" cy="82.4"/><circle class="r" cx="388.5" cy="28.5"/><circle cx="366.2" cy="90.2"/><circle cx="347.1" cy="70.9"/><circle cx="353.5" cy="63.8"/><circle cx="350.3" cy="78"/><circle cx="345.6" cy="71.7"/><circle cx="345.6" cy="24.4"/><circle cx="350.3" cy="69.7"/><circle cx="350.3" cy="85.8"/><circle cx="348.7" cy="72.1"/><circle cx="377.4" cy="20.1"/><circle cx="339.2" cy="70.4"/><circle cx="353.5" cy="51.3"/><circle cx="350.3" cy="68.7"/><circle cx="340.8" cy="64.5"/><circle cx="377.4" cy="8.5"/><circle cx="345.6" cy="40.8"/><circle cx="347.1" cy="83.4"/><circle cx="375.8" cy="41.1"/><circle cx="351.9" cy="86.5"/><circle cx="350.3" cy="62.8"/><circle cx="351.9" cy="46.5"/><circle class="r" cx="345.6" cy="41.5"/><circle cx="359.9" cy="90.7"/><circle cx="369.4" cy="17"/><circle cx="371" cy="25.6"/><circle class="r" cx="339.2" cy="20.3"/><circle class="r" cx="344" cy="90.9"/><circle class="r" cx="337.6" cy="90.3"/><circle cx="342.4" cy="60"/><circle cx="374.2" cy="26.7"/><circle class="r" cx="345.6" cy="72.3"/><circle cx="355.1" cy="45.5"/><circle cx="363" cy="37.6"/><circle cx="358.3" cy="20.7"/><circle cx="345.6" cy="81.8"/><circle cx="356.7" cy="55.7"/><circle cx="375.8" cy="16.2"/><circle cx="339.2" cy="40.9"/><circle cx="350.3" cy="56"/><circle cx="345.6" cy="26.2"/><circle class="r" cx="348.7" cy="52.4"/><circle cx="348.7" cy="80.5"/><circle cx="353.5" cy="32.3"/><circle cx="353.5" cy="89.5"/><circle cx="345.6" cy="83.8"/><circle class="r" cx="337.6" cy="89.1"/><circle cx="340.8" cy="28.5"/><circle cx="348.7" cy="90"/><circle cx="345.6" cy="85.5"/><circle cx="345.6" cy="68.7"/><circle class="r" cx="339.2" cy="85"/><circle cx="350.3" cy="9.6"/><circle cx="390.1" cy="25.5"/><circle cx="342.4" cy="28.5"/><circle cx="351.9" cy="75.5"/><circle cx="351.9" cy="88.5"/><circle cx="369.4" cy="11.7"/><circle cx="390.1" cy="33.8"/><circle cx="347.1" cy="67.9"/><circle cx="390.1" cy="6.4"/><circle cx="369.4" cy="8.7"/><circle cx="340.8" cy="64.6"/><circle cx="353.5" cy="39.6"/><circle cx="345.6" cy="55.2"/><circle cx="351.9" cy="81.3"/><circle cx="369.4" cy="36.2"/><circle cx="339.2" cy="55.7"/><circle cx="369.4" cy="65.4"/><circle cx="364.6" cy="83"/><circle cx="342.4" cy="88.7"/><circle class="r" cx="372.6" cy="11.9"/><circle cx="353.5" cy="79.1"/><circle cx="358.3" cy="68.3"/><circle cx="348.7" cy="67.5"/><circle cx="344" cy="54.8"/><circle cx="342.4" cy="66.7"/><circle cx="348.7" cy="44.7"/><circle cx="350.3" cy="8.7"/><circle cx="351.9" cy="80.3"/><circle cx="363" cy="80"/><circle cx="355.1" cy="21.7"/><circle class="r" cx="339.2" cy="64.8"/><circle cx="348.7" cy="60.9"/><circle cx="339.2" cy="66.4"/><circle cx="380.5" cy="36.2"/><circle cx="358.3" cy="71.1"/><circle class="r" cx="350.3" cy="50.6"/><circle cx="345.6" cy="58.3"/><circle cx="348.7" cy="66.9"/><circle cx="345.6" cy="80.4"/><circle cx="344" cy="7.1"/><circle class="r" cx="356.7" cy="63.3"/><circle cx="344" cy="17.7"/><circle cx="361.4" cy="18.8"/><circle cx="345.6" cy="88"/><circle cx="366.2" cy="6.7"/><circle cx="348.7" cy="11.7"/><circle cx="353.5" cy="46.3"/><circle cx="347.1" cy="79.5"/><circle cx="386.9" cy="9.6"/><circle cx="355.1" cy="75.5"/><circle cx="337.6" cy="88"/><circle cx="345.6" cy="35.1"/><circle cx="350.3" cy="37.8"/><circle class="r" cx="337.6" cy="67.2"/><circle cx="342.4" cy="82.8"/><circle cx="351.9" cy="86.6"/><circle cx="351.9" cy="14.3"/><circle cx="339.2" cy="71.7"/><circle cx="342.4" cy="75.3"/><circle cx="350.3" cy="58.6"/><circle cx="342.4" cy="78.5"/><circle cx="353.5" cy="88"/><circle cx="340.8" cy="48.6"/><circle cx="345.6" cy="8"/><circle cx="383.7" cy="27.2"/><circle cx="340.8" cy="90.9"/><circle cx="340.8" cy="19.2"/><circle cx="358.3" cy="70.3"/><circle cx="353.5" cy="89.3"/><circle cx="361.4" cy="60.3"/><circle cx="358.3" cy="26.6"/><circle cx="355.1" cy="70.9"/><circle cx="353.5" cy="82.8"/><circle cx="345.6" cy="73"/><circle cx="347.1" cy="34.3"/><circle cx="344" cy="86"/><circle cx="345.6" cy="79.7"/><circle cx="337.6" cy="86.6"/><circle cx="339.2" cy="78.6"/><circle cx="344" cy="85.5"/><circle cx="345.6" cy="79.9"/><circle cx="345.6" cy="51.5"/><circle cx="339.2" cy="74.5"/><circle cx="340.8" cy="54.3"/><circle cx="342.4" cy="81.5"/><circle cx="340.8" cy="67"/><circle cx="353.5" cy="73.6"/><circle cx="361.4" cy="48"/><circle cx="345.6" cy="69.5"/><circle cx="350.3" cy="57.1"/><circle cx="347.1" cy="91"/><circle cx="340.8" cy="54.7"/><circle cx="371" cy="12.8"/><circle class="r" cx="342.4" cy="69.5"/><circle cx="372.6" cy="29.8"/><circle cx="359.9" cy="30.3"/><circle cx="390.1" cy="42.7"/><circle cx="353.5" cy="57.1"/><circle cx="344" cy="46.1"/><circle class="r" cx="339.2" cy="82.9"/><circle cx="350.3" cy="73.3"/><circle cx="353.5" cy="67"/><circle cx="355.1" cy="84.4"/><circle cx="345.6" cy="47.9"/><circle cx="348.7" cy="58.2"/><circle cx="350.3" cy="23.6"/><circle cx="356.7" cy="81.4"/><circle cx="356.7" cy="69.5"/><circle cx="351.9" cy="55.6"/><circle cx="339.2" cy="86.6"/><circle class="r" cx="339.2" cy="90.3"/><circle cx="344" cy="75.8"/><circle cx="345.6" cy="12.4"/><circle cx="344" cy="76.4"/><circle cx="350.3" cy="81.2"/><circle cx="342.4" cy="49.5"/><circle class="r" cx="339.2" cy="60.5"/><circle cx="344" cy="17.9"/><circle cx="339.2" cy="69.2"/><circle cx="339.2" cy="72.3"/><circle cx="344" cy="90"/><circle cx="345.6" cy="86.9"/><circle cx="340.8" cy="70.6"/><circle cx="369.4" cy="26.9"/><circle cx="339.2" cy="87.4"/><circle cx="348.7" cy="59.6"/><circle cx="339.2" cy="88.7"/><circle cx="339.2" cy="89.9"/><circle cx="345.6" cy="18.7"/><circle class="r" cx="345.6" cy="75.1"/><circle cx="353.5" cy="60.1"/><circle cx="355.1" cy="69.3"/><circle cx="339.2" cy="89.3"/><circle cx="339.2" cy="77.7"/><circle cx="344" cy="70.8"/><circle cx="345.6" cy="64.3"/><circle cx="340.8" cy="79.1"/><circle cx="351.9" cy="77.4"/><circle cx="353.5" cy="78.7"/><circle cx="353.5" cy="58"/><circle cx="345.6" cy="50.3"/><circle cx="348.7" cy="57.2"/><circle cx="350.3" cy="57.8"/><circle cx="345.6" cy="66.4"/><circle cx="350.3" cy="60.7"/><circle cx="388.5" cy="20"/><circle cx="363" cy="80.2"/><circle cx="353.5" cy="63.2"/><circle class="r" cx="358.3" cy="58.5"/><circle class="r" cx="340.8" cy="76.6"/><circle cx="353.5" cy="67.7"/><circle cx="339.2" cy="8.7"/><circle cx="353.5" cy="7.8"/><circle cx="337.6" cy="81.9"/><circle cx="340.8" cy="86.8"/><circle class="r" cx="345.6" cy="89.6"/><circle class="r" cx="339.2" cy="76.1"/><circle cx="378.9" cy="14.3"/><circle cx="358.3" cy="41.3"/><circle cx="367.8" cy="13.4"/><circle cx="353.5" cy="82.3"/><circle cx="342.4" cy="79.8"/><circle cx="345.6" cy="55.8"/><circle cx="369.4" cy="15.7"/><circle cx="350.3" cy="75.2"/><circle cx="369.4" cy="14.5"/><circle cx="339.2" cy="80.7"/><circle cx="345.6" cy="63.1"/><circle cx="342.4" cy="72.6"/><circle cx="351.9" cy="70.7"/><circle cx="355.1" cy="77.1"/><circle cx="372.6" cy="50.4"/><circle cx="348.7" cy="81.7"/><circle cx="353.5" cy="62.8"/><circle cx="347.1" cy="78.2"/><circle cx="375.8" cy="32.6"/><circle cx="375.8" cy="31.4"/><circle cx="342.4" cy="42.3"/><circle cx="345.6" cy="65.3"/><circle cx="340.8" cy="81.7"/><circle cx="350.3" cy="65.4"/><circle class="r" cx="340.8" cy="84"/><circle cx="342.4" cy="67"/><circle cx="350.3" cy="67.7"/><circle cx="348.7" cy="73.1"/><circle cx="344" cy="71"/><circle cx="386.9" cy="43.7"/><circle cx="342.4" cy="85.7"/><circle cx="348.7" cy="77.6"/><circle cx="347.1" cy="75"/><circle cx="345.6" cy="74.4"/>
<rect x="420" y="2.1" width="89.9" height="93.5" fill="#E5E5E5"/>
<path class="g" d="M434.9 2.1v93.5M471.1 2.1v93.5M507.4 2.1v93.5M420 73.5h89.9M420 51.1h89.9M420 28.7h89.9M420 6.3h89.9"/>
<path class="k" d="M434.9 95.6v2M471.1 95.6v2M507.4 95.6v2M420 73.5h-2M420 51.1h-2M420 28.7h-2M420 6.3h-2"/>
<circle class="r" cx="438.5" cy="43.5"/><circle class="r" cx="442.1" cy="47.3"/><circle class="r" cx="496.5" cy="39.6"/><circle class="r" cx="434.9" cy="51.2"/><circle class="r" cx="442.1" cy="45.2"/><circle class="r" cx="456.6" cy="77.4"/><circle class="r" cx="485.6" cy="83.3"/><circle class="r" cx="434.9" cy="37.2"/><circle class="r" cx="438.5" cy="59"/><circle class="r" cx="471.1" cy="76.3"/><circle class="r" cx="453" cy="58.5"/><circle cx="445.8" cy="49.5"/><circle cx="449.4" cy="53.7"/><circle cx="482" cy="57.9"/><circle cx="438.5" cy="65.5"/><circle cx="471.1" cy="59"/><circle cx="442.1" cy="21"/><circle cx="453" cy="66.8"/><circle cx="460.3" cy="38.3"/><circle cx="485.6" cy="82.7"/><circle cx="453" cy="86.5"/><circle cx="460.3" cy="39.4"/><circle cx="456.6" cy="87.2"/><circle cx="445.8" cy="48.9"/><circle cx="449.4" cy="34.5"/><circle cx="456.6" cy="56.2"/><circle cx="474.8" cy="54.4"/><circle cx="474.8" cy="67"/><circle cx="474.8" cy="20.7"/><circle cx="442.1" cy="7.8"/><circle cx="463.9" cy="53"/><circle cx="456.6" cy="78.5"/><circle cx="471.1" cy="90.5"/><circle class="r" cx="460.3" cy="90.8"/><circle cx="474.8" cy="64.1"/><circle class="r" cx="463.9" cy="78.9"/><circle cx="463.9" cy="87.9"/><circle cx="442.1" cy="34"/><circle cx="453" cy="60.6"/><circle cx="442.1" cy="25.2"/><circle cx="474.8" cy="13.6"/><circle cx="478.4" cy="74.4"/><circle cx="467.5" cy="53.8"/><circle cx="463.9" cy="62.1"/><circle cx="456.6" cy="22.8"/><circle cx="467.5" cy="59.8"/><circle cx="471.1" cy="59.4"/><circle cx="434.9" cy="33"/><circle cx="463.9" cy="29.8"/><circle cx="449.4" cy="67.1"/><circle cx="456.6" cy="72.2"/><circle cx="467.5" cy="20.5"/><circle cx="463.9" cy="70.5"/><circle cx="445.8" cy="42.6"/><circle cx="478.4" cy="54.6"/><circle cx="474.8" cy="36.6"/><circle class="r" cx="463.9" cy="46.5"/><circle cx="478.4" cy="7.3"/><circle cx="460.3" cy="22.8"/><circle cx="482" cy="32.3"/><circle cx="449.4" cy="56.9"/><circle cx="445.8" cy="18.1"/><circle cx="478.4" cy="51.7"/><circle cx="467.5" cy="20.3"/><circle cx="474.8" cy="85.3"/><circle cx="478.4" cy="65.9"/><circle cx="482" cy="42.9"/><circle cx="474.8" cy="70.1"/><circle cx="467.5" cy="46.4"/><circle cx="449.4" cy="81.2"/><circle cx="474.8" cy="75.8"/><circle cx="471.1" cy="13.7"/><circle cx="453" cy="69.6"/><circle cx="442.1" cy="12.3"/><circle cx="463.9" cy="8.7"/><circle cx="485.6" cy="28.1"/><circle class="r" cx="453" cy="89.7"/><circle cx="434.9" cy="51.5"/><circle class="r" cx="438.5" cy="43.9"/><circle cx="463.9" cy="9.7"/><circle cx="474.8" cy="80.5"/><circle cx="478.4" cy="72.8"/><circle cx="467.5" cy="10.6"/><circle cx="467.5" cy="42"/><circle cx="456.6" cy="64.2"/><circle cx="460.3" cy="39.8"/><circle cx="453" cy="50.8"/><circle cx="467.5" cy="46.2"/><circle cx="460.3" cy="24.7"/><circle cx="453" cy="47.3"/><circle cx="467.5" cy="37"/><circle cx="467.5" cy="58"/><circle cx="445.8" cy="10.5"/><circle cx="463.9" cy="47.3"/><circle class="r" cx="463.9" cy="79.9"/><circle cx="467.5" cy="73.4"/><circle cx="442.1" cy="36.1"/><circle cx="485.6" cy="20.2"/><circle cx="453" cy="65.1"/><circle cx="442.1" cy="37.1"/><circle cx="460.3" cy="41.2"/><circle cx="471.1" cy="25.3"/><circle cx="456.6" cy="78.9"/><circle cx="474.8" cy="53.5"/><circle cx="434.9" cy="48"/><circle cx="474.8" cy="57.1"/><circle cx="460.3" cy="29.7"/><circle cx="456.6" cy="68.8"/><circle cx="434.9" cy="32.2"/><circle cx="463.9" cy="84.8"/><circle cx="449.4" cy="79.9"/><circle cx="434.9" cy="91"/><circle cx="453" cy="81"/><circle class="r" cx="474.8" cy="66.4"/><circle cx="434.9" cy="11.4"/><circle cx="463.9" cy="78.3"/><circle cx="442.1" cy="13.3"/><circle cx="467.5" cy="84.1"/><circle cx="474.8" cy="20.2"/><circle cx="471.1" cy="30.5"/><circle cx="438.5" cy="56.6"/><circle cx="453" cy="73.9"/><circle cx="434.9" cy="25.7"/><circle cx="460.3" cy="36.6"/><circle cx="471.1" cy="10.7"/><circle cx="478.4" cy="50.9"/><circle cx="485.6" cy="33.4"/><circle cx="463.9" cy="50.2"/><circle cx="463.9" cy="8.1"/><circle cx="438.5" cy="90.7"/><circle cx="453" cy="74.8"/><circle cx="449.4" cy="76.9"/><circle cx="463.9" cy="74.8"/><circle cx="463.9" cy="87"/><circle cx="445.8" cy="44.4"/><circle cx="467.5" cy="62.6"/><circle cx="460.3" cy="31.9"/><circle cx="456.6" cy="55.5"/><circle cx="478.4" cy="60.9"/><circle cx="438.5" cy="67.8"/><circle cx="456.6" cy="83"/><circle cx="467.5" cy="90.9"/><circle cx="453" cy="41"/><circle cx="474.8" cy="58.8"/><circle cx="449.4" cy="91.2"/><circle cx="474.8" cy="6.7"/><circle cx="456.6" cy="74.2"/><circle cx="471.1" cy="77.2"/><circle cx="434.9" cy="45.1"/><circle class="r" cx="463.9" cy="88.6"/><circle class="r" cx="434.9" cy="62"/><circle cx="445.8" cy="45.7"/><circle cx="456.6" cy="25.3"/><circle cx="460.3" cy="13"/><circle cx="442.1" cy="24.3"/><circle cx="460.3" cy="22"/><circle class="r" cx="442.1" cy="62.1"/><circle cx="453" cy="79.4"/><circle cx="453" cy="76.8"/><circle cx="445.8" cy="46.9"/><circle cx="489.3" cy="55.4"/><circle cx="471.1" cy="60.5"/><circle cx="445.8" cy="6.8"/><circle cx="438.5" cy="60.3"/><circle cx="442.1" cy="23.1"/><circle cx="482" cy="12.8"/><circle class="r" cx="456.6" cy="49.8"/><circle cx="434.9" cy="56.5"/><circle cx="463.9" cy="89"/><circle class="r" cx="453" cy="85.1"/><circle cx="496.5" cy="67.5"/><circle cx="467.5" cy="55.9"/><circle class="r" cx="463.9" cy="51.9"/><circle cx="434.9" cy="72.8"/><circle cx="463.9" cy="25.3"/><circle cx="445.8" cy="60.1"/><circle class="r" cx="438.5" cy="50"/><circle cx="471.1" cy="76.6"/><circle cx="478.4" cy="84.8"/><circle cx="474.8" cy="74.5"/><circle cx="434.9" cy="10.2"/><circle cx="463.9" cy="42.7"/><circle cx="463.9" cy="44.1"/><circle cx="467.5" cy="11"/><circle cx="463.9" cy="20.1"/><circle cx="460.3" cy="17.6"/><circle cx="453" cy="83.8"/><circle cx="482" cy="59.4"/><circle cx="460.3" cy="78.3"/><circle class="r" cx="456.6" cy="63.7"/><circle cx="467.5" cy="52.5"/><circle cx="442.1" cy="42.9"/><circle cx="442.1" cy="91"/><circle cx="456.6" cy="61.3"/><circle cx="449.4" cy="65.8"/><circle cx="442.1" cy="44.3"/><circle cx="434.9" cy="90.6"/><circle cx="442.1" cy="7.2"/><circle cx="449.4" cy="61.2"/><circle cx="442.1" cy="29.6"/><circle cx="467.5" cy="60.9"/><circle class="r" cx="438.5" cy="67"/><circle cx="463.9" cy="60.5"/><circle class="r" cx="489.3" cy="86.8"/><circle cx="471.1" cy="67.9"/><circle cx="460.3" cy="6.7"/><circle class="r" cx="445.8" cy="64.1"/><circle cx="442.1" cy="49.9"/><circle cx="467.5" cy="64.3"/><circle class="r" cx="463.9" cy="68.4"/><circle class="r" cx="453" cy="83.4"/><circle cx="478.4" cy="23.9"/><circle cx="442.1" cy="61"/><circle cx="471.1" cy="11.6"/><circle cx="460.3" cy="16.5"/><circle cx="449.4" cy="51.4"/><circle cx="467.5" cy="52.2"/><circle class="r" cx="460.3" cy="85.6"/><circle cx="471.1" cy="16.1"/><circle cx="453" cy="77.5"/><circle cx="445.8" cy="26.8"/><circle cx="467.5" cy="85.1"/><circle cx="449.4" cy="83.1"/><circle cx="449.4" cy="58.3"/><circle cx="434.9" cy="62.7"/><circle cx="434.9" cy="90.4"/><circle cx="438.5" cy="75"/><circle cx="460.3" cy="7"/><circle cx="460.3" cy="50.8"/><circle cx="442.1" cy="73.6"/><circle cx="445.8" cy="65.1"/><circle cx="460.3" cy="54.5"/><circle cx="438.5" cy="73.7"/><circle cx="449.4" cy="66.3"/><circle cx="434.9" cy="68.4"/><circle cx="442.1" cy="10.3"/><circle cx="467.5" cy="73"/><circle cx="442.1" cy="43.7"/><circle cx="460.3" cy="8.1"/><circle cx="445.8" cy="62.2"/><circle cx="434.9" cy="9.2"/><circle cx="442.1" cy="53"/><circle cx="442.1" cy="32.3"/><circle class="r" cx="434.9" cy="57.6"/><circle cx="467.5" cy="30.8"/><circle cx="449.4" cy="84.4"/><circle cx="463.9" cy="76.1"/><circle cx="449.4" cy="63.4"/><circle cx="434.9" cy="59.4"/><circle cx="496.5" cy="42.4"/><circle cx="463.9" cy="43.8"/><circle cx="474.8" cy="8.4"/><circle cx="449.4" cy="81.5"/><circle cx="478.4" cy="34.2"/><circle cx="482" cy="74.5"/><circle cx="478.4" cy="8.6"/><circle cx="467.5" cy="13.8"/><circle cx="453" cy="88.2"/><circle cx="449.4" cy="71.5"/><circle cx="442.1" cy="56.3"/><circle cx="445.8" cy="62.7"/><circle cx="445.8" cy="83.8"/><circle class="r" cx="463.9" cy="48.9"/><circle cx="438.5" cy="47.1"/><circle cx="489.3" cy="16.7"/><circle cx="445.8" cy="78.6"/><circle class="r" cx="449.4" cy="73.7"/><circle cx="460.3" cy="61.7"/><circle cx="442.1" cy="19.6"/><circle cx="449.4" cy="87.3"/><circle cx="434.9" cy="10.8"/><circle cx="445.8" cy="46"/><circle cx="445.8" cy="10.8"/><circle cx="438.5" cy="69.3"/><circle cx="449.4" cy="69.8"/><circle cx="467.5" cy="79.7"/><circle cx="463.9" cy="56.8"/><circle cx="478.4" cy="9.4"/><circle cx="474.8" cy="47.8"/><circle cx="445.8" cy="51.5"/><circle cx="471.1" cy="57.2"/><circle cx="445.8" cy="84.5"/><circle cx="442.1" cy="88.4"/><circle cx="463.9" cy="71.7"/><circle cx="449.4" cy="17.1"/><circle cx="438.5" cy="84.4"/><circle class="r" cx="460.3" cy="55.7"/><circle cx="449.4" cy="56.3"/><circle cx="482" cy="72.2"/><circle cx="460.3" cy="66.1"/><circle cx="438.5" cy="70.6"/><circle cx="460.3" cy="52.8"/><circle class="r" cx="442.1" cy="8.8"/><circle cx="456.6" cy="84.5"/><circle cx="463.9" cy="54.2"/><circle cx="442.1" cy="59.4"/><circle cx="482" cy="8"/><circle cx="445.8" cy="25.4"/><circle class="r" cx="438.5" cy="65.7"/><circle cx="438.5" cy="76"/><circle cx="445.8" cy="13.7"/><circle cx="442.1" cy="65.9"/><circle cx="442.1" cy="41.7"/><circle cx="467.5" cy="71.4"/><circle cx="460.3" cy="75.9"/><circle cx="445.8" cy="69.5"/><circle cx="449.4" cy="25"/><circle cx="442.1" cy="53.9"/><circle class="r" cx="434.9" cy="47.6"/><circle cx="434.9" cy="84"/><circle cx="467.5" cy="45.4"/><circle cx="438.5" cy="72.4"/><circle cx="449.4" cy="82.4"/><circle cx="463.9" cy="57.5"/><circle cx="460.3" cy="37.2"/><circle cx="434.9" cy="63.4"/><circle cx="449.4" cy="89.6"/><circle cx="474.8" cy="18"/><circle cx="496.5" cy="14.7"/><circle cx="442.1" cy="60.4"/><circle cx="434.9" cy="52.9"/><circle cx="460.3" cy="82.4"/><circle cx="460.3" cy="90.2"/><circle cx="445.8" cy="70.9"/><circle cx="460.3" cy="63.8"/><circle cx="442.1" cy="71.7"/><circle cx="453" cy="24.4"/><circle cx="463.9" cy="69.7"/><circle cx="463.9" cy="85.8"/><circle cx="442.1" cy="58.2"/><circle cx="449.4" cy="88.4"/><circle cx="434.9" cy="79.3"/><circle cx="449.4" cy="77.6"/><circle cx="460.3" cy="20.1"/><circle cx="442.1" cy="74.3"/><circle cx="434.9" cy="70.4"/><circle cx="442.1" cy="51.3"/><circle cx="442.1" cy="68.7"/><circle cx="449.4" cy="78.7"/><circle cx="438.5" cy="82.8"/><circle cx="467.5" cy="8.5"/><circle cx="453" cy="40.8"/><circle cx="456.6" cy="83.4"/><circle cx="474.8" cy="41.1"/><circle cx="467.5" cy="86.5"/><circle cx="445.8" cy="84.7"/><circle cx="438.5" cy="81.3"/><circle cx="442.1" cy="62.8"/><circle cx="460.3" cy="46.5"/><circle cx="467.5" cy="82.1"/><circle class="r" cx="442.1" cy="41.5"/><circle cx="445.8" cy="68.5"/><circle cx="449.4" cy="79.5"/><circle cx="478.4" cy="90.7"/><circle cx="463.9" cy="17"/><circle cx="438.5" cy="85.6"/><circle cx="449.4" cy="68.5"/><circle cx="482" cy="25.6"/><circle class="r" cx="434.9" cy="20.3"/><circle cx="445.8" cy="80.8"/><circle class="r" cx="445.8" cy="90.9"/><circle class="r" cx="434.9" cy="90.3"/><circle cx="442.1" cy="60"/><circle class="r" cx="442.1" cy="72.3"/><circle cx="467.5" cy="76.4"/><circle cx="471.1" cy="71.4"/><circle cx="482" cy="37.6"/><circle cx="449.4" cy="20.7"/><circle cx="449.4" cy="81.8"/><circle cx="463.9" cy="55.7"/><circle cx="467.5" cy="16.2"/><circle cx="434.9" cy="40.9"/><circle cx="449.4" cy="56"/><circle cx="449.4" cy="26.2"/><circle class="r" cx="460.3" cy="52.4"/><circle cx="460.3" cy="80.5"/><circle cx="467.5" cy="32.3"/><circle cx="460.3" cy="89.5"/><circle cx="453" cy="83.8"/><circle cx="442.1" cy="28.5"/><circle cx="445.8" cy="90"/><circle cx="445.8" cy="85.5"/><circle cx="449.4" cy="68.7"/><circle class="r" cx="445.8" cy="88.8"/><circle class="r" cx="434.9" cy="85"/><circle cx="460.3" cy="9.6"/><circle cx="463.9" cy="72.6"/><circle cx="460.3" cy="25.5"/><circle cx="438.5" cy="77.3"/><circle cx="434.9" cy="28.5"/><circle cx="460.3" cy="33.8"/><circle cx="456.6" cy="67.9"/><circle cx="471.1" cy="6.4"/><circle cx="478.4" cy="8.7"/><circle cx="442.1" cy="64.6"/><circle cx="471.1" cy="39.6"/><circle cx="449.4" cy="55.2"/><circle cx="449.4" cy="86"/><circle cx="467.5" cy="36.2"/><circle cx="438.5" cy="55.7"/><circle cx="485.6" cy="65.4"/><circle cx="460.3" cy="83"/><circle cx="445.8" cy="88.7"/><circle class="r" cx="463.9" cy="11.9"/><circle cx="453" cy="79.1"/><circle cx="482" cy="68.3"/><circle cx="449.4" cy="54.8"/><circle cx="442.1" cy="66.7"/><circle cx="460.3" cy="44.7"/><circle cx="456.6" cy="8.7"/><circle cx="463.9" cy="80.3"/><circle cx="463.9" cy="67.2"/><circle cx="460.3" cy="80"/><circle cx="445.8" cy="76.3"/><circle cx="460.3" cy="21.7"/><circle cx="453" cy="60.9"/><circle cx="434.9" cy="66.4"/><circle cx="460.3" cy="71.5"/><circle cx="478.4" cy="36.2"/><circle cx="467.5" cy="71.1"/><circle class="r" cx="463.9" cy="50.6"/><circle cx="445.8" cy="58.3"/><circle cx="460.3" cy="66.9"/><circle cx="442.1" cy="80.4"/><circle cx="434.9" cy="7.1"/><circle class="r" cx="460.3" cy="63.3"/><circle cx="442.1" cy="17.7"/><circle class="r" cx="434.9" cy="80.6"/><circle cx="460.3" cy="18.8"/><circle cx="434.9" cy="77.5"/><circle cx="442.1" cy="88"/><circle cx="463.9" cy="6.7"/><circle cx="460.3" cy="11.7"/><circle cx="460.3" cy="46.3"/><circle cx="449.4" cy="74.7"/><circle cx="482" cy="9.6"/><circle cx="467.5" cy="75.5"/><circle cx="442.1" cy="35.1"/><circle cx="463.9" cy="37.8"/><circle class="r" cx="434.9" cy="67.2"/><circle cx="442.1" cy="82.8"/><circle cx="460.3" cy="86.6"/><circle cx="434.9" cy="71.7"/><circle cx="445.8" cy="75.3"/><circle cx="449.4" cy="58.6"/><circle cx="434.9" cy="78.5"/><circle cx="460.3" cy="88"/><circle cx="442.1" cy="48.6"/><circle cx="434.9" cy="8"/><circle cx="460.3" cy="27.2"/><circle cx="442.1" cy="90.9"/><circle cx="434.9" cy="19.2"/><circle cx="471.1" cy="70.3"/><circle cx="471.1" cy="89.3"/><circle cx="482" cy="60.3"/><circle cx="467.5" cy="26.6"/><circle cx="460.3" cy="70.9"/><circle cx="463.9" cy="82.8"/><circle cx="449.4" cy="73"/><circle cx="445.8" cy="34.3"/><circle cx="434.9" cy="86.6"/><circle cx="438.5" cy="78.6"/><circle cx="442.1" cy="85.5"/><circle cx="438.5" cy="51.5"/><circle cx="442.1" cy="67.8"/><circle class="r" cx="434.9" cy="90.1"/><circle cx="434.9" cy="74.5"/><circle cx="442.1" cy="75.3"/><circle cx="442.1" cy="54.3"/><circle cx="442.1" cy="81.5"/><circle cx="442.1" cy="67"/><circle cx="463.9" cy="48"/><circle cx="442.1" cy="69.5"/><circle cx="445.8" cy="57.1"/><circle cx="456.6" cy="91"/><circle cx="442.1" cy="54.7"/><circle cx="456.6" cy="12.8"/><circle class="r" cx="442.1" cy="69.5"/><circle cx="471.1" cy="29.8"/><circle cx="460.3" cy="30.3"/><circle cx="460.3" cy="42.7"/><circle cx="456.6" cy="57.1"/><circle cx="449.4" cy="46.1"/><circle class="r" cx="434.9" cy="82.9"/><circle cx="463.9" cy="73.3"/><circle cx="471.1" cy="67"/><circle cx="460.3" cy="84.4"/><circle cx="449.4" cy="47.9"/><circle cx="445.8" cy="58.2"/><circle cx="442.1" cy="23.6"/><circle cx="463.9" cy="81.4"/><circle cx="460.3" cy="69.5"/><circle cx="445.8" cy="55.6"/><circle cx="438.5" cy="86.6"/><circle class="r" cx="438.5" cy="90.3"/><circle cx="442.1" cy="75.8"/><circle cx="453" cy="12.4"/><circle cx="445.8" cy="74.7"/><circle cx="434.9" cy="76.4"/><circle cx="463.9" cy="81.2"/><circle cx="442.1" cy="49.5"/><circle class="r" cx="434.9" cy="60.5"/><circle cx="434.9" cy="17.9"/><circle cx="434.9" cy="69.2"/><circle cx="434.9" cy="72.3"/><circle cx="442.1" cy="90"/><circle cx="445.8" cy="86.9"/><circle cx="442.1" cy="79.9"/><circle cx="442.1" cy="70.6"/><circle cx="463.9" cy="26.9"/><circle cx="434.9" cy="87.4"/><circle cx="460.3" cy="59.6"/><circle cx="438.5" cy="88.7"/><circle cx="438.5" cy="89.9"/><circle cx="442.1" cy="18.7"/><circle class="r" cx="449.4" cy="75.1"/><circle cx="460.3" cy="60.1"/><circle cx="474.8" cy="69.3"/><circle cx="434.9" cy="89.3"/><circle cx="438.5" cy="77.7"/><circle cx="449.4" cy="70.8"/><circle cx="434.9" cy="64.3"/><circle cx="442.1" cy="79.1"/><circle cx="463.9" cy="77.4"/><circle cx="467.5" cy="78.7"/><circle cx="463.9" cy="58"/><circle cx="449.4" cy="50.3"/><circle cx="460.3" cy="57.2"/><circle cx="460.3" cy="57.8"/><circle cx="445.8" cy="66.4"/><circle cx="460.3" cy="60.7"/><circle cx="474.8" cy="20"/><circle cx="478.4" cy="80.2"/><circle cx="463.9" cy="63.2"/><circle class="r" cx="463.9" cy="58.5"/><circle cx="456.6" cy="67.7"/><circle class="r" cx="442.1" cy="76.6"/><circle cx="460.3" cy="67.7"/><circle cx="434.9" cy="8.7"/><circle cx="463.9" cy="7.8"/><circle cx="434.9" cy="81.9"/><circle cx="442.1" cy="86.8"/><circle class="r" cx="434.9" cy="89.6"/><circle class="r" cx="434.9" cy="76.1"/><circle cx="463.9" cy="14.3"/><circle cx="474.8" cy="41.3"/><circle cx="471.1" cy="13.4"/><circle cx="467.5" cy="82.3"/><circle cx="442.1" cy="79.8"/><circle cx="442.1" cy="55.8"/><circle cx="460.3" cy="15.7"/><circle cx="460.3" cy="75.2"/><circle cx="463.9" cy="14.5"/><circle cx="438.5" cy="80.7"/><circle cx="442.1" cy="63.1"/><circle cx="445.8" cy="72.6"/><circle cx="467.5" cy="70.7"/><circle cx="463.9" cy="77.1"/><circle cx="482" cy="50.4"/><circle cx="445.8" cy="81.7"/><circle cx="463.9" cy="62.8"/><circle cx="445.8" cy="78.2"/><circle cx="460.3" cy="32.6"/><circle cx="478.4" cy="31.4"/><circle cx="434.9" cy="42.3"/><circle cx="434.9" cy="65.3"/><circle cx="434.9" cy="81.7"/><circle cx="463.9" cy="65.4"/><circle class="r" cx="442.1" cy="84"/><circle cx="445.8" cy="67"/><circle cx="463.9" cy="67.7"/><circle cx="460.3" cy="73.1"/><circle cx="460.3" cy="77.6"/><circle cx="449.4" cy="71"/><circle cx="460.3" cy="43.7"/><circle cx="434.9" cy="85.7"/><circle cx="442.1" cy="77.6"/><circle cx="434.9" cy="75"/><circle cx="453" cy="74.4"/>
<rect x="37.6" y="100.5" width="89.9" height="93.5" fill="#E5E5E5"/>
<path class="g" d="M49.6 100.5v93.5M81.2 100.5v93.5M112.8 100.5v93.5M37.6 189.8h89.9M37.6 168.5h89.9M37.6 147.2h89.9M37.6 126h89.9M37.6 104.7h89.9"/>
<path class="k" d="M49.6 194v2M81.2 194v2M112.8 194v2M37.6 189.8h-2M37.6 168.5h-2M37.6 147.2h-2M37.6 126h-2M37.6 104.7h-2"/>
<circle class="r" cx="81.1" cy="168.5"/><circle cx="89.5" cy="126"/><circle cx="66.4" cy="147.2"/><circle cx="56.1" cy="168.5"/><circle cx="66.7" cy="147.2"/><circle cx="93.4" cy="147.2"/><circle cx="52.9" cy="189.8"/><circle cx="65.1" cy="189.8"/><circle cx="64.7" cy="189.8"/><circle cx="79.9" cy="168.5"/><circle cx="73.7" cy="168.5"/><circle class="r" cx="64.6" cy="189.8"/><circle cx="85.5" cy="126"/><circle cx="86.8" cy="126"/><circle cx="106.9" cy="104.7"/><circle cx="57.4" cy="168.5"/><circle cx="79.9" cy="147.2"/><circle cx="81.1" cy="168.5"/><circle class="r" cx="88" cy="126"/><circle class="r" cx="58.8" cy="168.5"/><circle cx="90.8" cy="126"/><circle cx="88.4" cy="126"/><circle class="r" cx="80.3" cy="147.2"/><circle cx="99.3" cy="126"/><circle cx="97.2" cy="126"/><circle cx="93.4" cy="126"/><circle cx="112.7" cy="104.7"/><circle cx="71.7" cy="168.5"/><circle cx="89.3" cy="147.2"/><circle cx="91.7" cy="126"/><circle cx="85.8" cy="147.2"/><circle cx="102" cy="126"/><circle cx="91.7" cy="147.2"/><circle cx="112.6" cy="104.7"/><circle cx="109" cy="104.7"/><circle cx="64.6" cy="189.8"/><circle cx="110.5" cy="104.7"/><circle cx="92.5" cy="126"/><circle cx="90.6" cy="147.2"/><circle class="r" cx="69.9" cy="147.2"/><circle cx="74.7" cy="168.5"/><circle cx="98.5" cy="126"/><circle cx="93.1" cy="147.2"/><circle cx="56.2" cy="168.5"/><circle cx="80.9" cy="147.2"/><circle cx="78.9" cy="168.5"/><circle cx="53.1" cy="189.8"/><circle cx="78.7" cy="147.2"/><circle cx="96.2" cy="126"/><circle cx="95.9" cy="126"/><circle cx="77" cy="147.2"/><circle cx="84.8" cy="147.2"/><circle cx="83.5" cy="147.2"/><circle cx="100.7" cy="126"/><circle cx="78" cy="168.5"/><circle class="r" cx="53.6" cy="189.8"/><circle cx="108.5" cy="104.7"/><circle cx="82.3" cy="147.2"/><circle cx="104.6" cy="126"/><circle cx="68.5" cy="147.2"/><circle cx="53.8" cy="189.8"/><circle cx="98.3" cy="126"/><circle cx="75.2" cy="168.5"/><circle cx="53.8" cy="189.8"/><circle cx="104.1" cy="126"/><circle class="r" cx="64.3" cy="189.8"/><circle cx="74.8" cy="147.2"/><circle cx="68.4" cy="168.5"/><circle cx="71.9" cy="147.2"/><circle cx="61.5" cy="168.5"/><circle cx="76.3" cy="147.2"/><circle cx="81.8" cy="147.2"/><circle cx="76.9" cy="168.5"/><circle cx="76.5" cy="168.5"/><circle cx="70.4" cy="168.5"/><circle cx="74.4" cy="147.2"/><circle cx="103.2" cy="126"/><circle cx="60.7" cy="168.5"/><circle class="r" cx="76" cy="168.5"/><circle cx="111.2" cy="104.7"/><circle cx="111.8" cy="104.7"/><circle cx="59.5" cy="168.5"/><circle cx="56" cy="189.8"/><circle class="r" cx="54" cy="189.8"/><circle class="r" cx="63.6" cy="189.8"/><circle cx="88.2" cy="147.2"/><circle cx="107.8" cy="104.7"/><circle cx="61" cy="189.8"/><circle cx="77.9" cy="147.2"/><circle cx="106.2" cy="126"/><circle cx="107.1" cy="104.7"/><circle cx="60.3" cy="189.8"/><circle cx="72.8" cy="168.5"/><circle cx="62.9" cy="168.5"/><circle cx="81.7" cy="147.2"/><circle cx="73" cy="147.2"/><circle cx="62.1" cy="189.8"/><circle cx="94.2" cy="126"/><circle cx="95.1" cy="126"/><circle cx="87.4" cy="147.2"/><circle cx="71.2" cy="147.2"/><circle cx="59.6" cy="189.8"/><circle cx="71.1" cy="147.2"/><circle class="r" cx="58" cy="189.8"/><circle cx="70" cy="168.5"/><circle cx="69.5" cy="168.5"/><circle cx="65.7" cy="168.5"/><circle cx="67.2" cy="168.5"/><circle cx="86.5" cy="147.2"/><circle cx="56.8" cy="189.8"/><circle cx="62.5" cy="189.8"/><circle cx="64.3" cy="168.5"/><circle cx="64.8" cy="168.5"/>
<rect x="133.2" y="100.5" width="89.9" height="93.5" fill="#E5E5E5"/>
<path class="g" d="M136.1 100.5v93.5M164.2 100.5v93.5M192.2 100.5v93.5M220.3 100.5v93.5M133.2 189.8h89.9M133.2 168.5h89.9M133.2 147.2h89.9M133.2 126h89.9M133.2 104.7h89.9"/>
<path class="k" d="M136.1 194v2M164.2 194v2M192.2 194v2M220.3 194v2M133.2 189.8h-2M133.2 168.5h-2M133.2 147.2h-2M133.2 126h-2M133.2 104.7h-2"/>
<polygon points="138.7,193.1 139.1,192.8 139.5,192.4 139.9,191.8 140.3,191.1 140.7,190.3 141.1,189.2 141.5,187.9 141.9,186.3 142.3,184.4 142.7,182.1 143.1,179.5 143.5,176.5 143.9,173.1 144.3,169.3 144.7,165.2 145.1,160.7 145.5,156 145.9,151 146.3,145.9 146.7,140.8 147.1,135.8 147.5,131 147.9,126.6 148.2,122.6 148.6,119.2 149,116.5 149.4,114.6 149.8,113.5 150.2,113.2 150.6,113.8 151,115.3 151.4,117.5 151.8,120.4 152.2,123.9 152.6,127.9 153,132.2 153.4,136.6 153.8,141.2 154.2,145.6 154.6,149.7 155,153.5 155.4,156.7 155.8,159.4 156.2,161.4 156.6,162.7 157,163.1 157.4,162.8 157.8,161.7 158.2,159.7 158.6,157.1 159,153.7 159.4,149.8 159.8,145.4 160.1,140.6 160.5,135.6 160.9,130.5 161.3,125.5 161.7,120.7 162.1,116.3 162.5,112.5 162.9,109.4 163.3,107 163.7,105.5 164.1,104.9 164.5,105.3 164.9,106.6 165.3,108.8 165.7,111.8 166.1,115.6 166.5,119.9 166.9,124.8 167.3,129.9 167.7,135.3 168.1,140.6 168.5,145.9 168.9,150.9 169.3,155.7 169.7,159.9 170.1,163.7 170.5,167 170.9,169.6 171.3,171.7 171.7,173.2 172.1,174.1 172.4,174.4 172.8,174.3 173.2,173.7 173.6,172.8 174,171.5 174.4,170 174.8,168.4 175.2,166.7 175.6,165 176,163.3 176.4,161.8 176.8,160.6 177.2,159.6 177.6,158.9 178,158.6 178.4,158.6 178.8,159 179.2,159.7 179.6,160.8 180,162.2 180.4,163.9 180.8,165.7 181.2,167.7 181.6,169.8 182,171.9 182.4,173.9 182.8,175.9 183.2,177.8 183.6,179.5 184,180.9 184.3,182.2 184.7,183.2 185.1,183.9 185.5,184.4 185.9,184.6 186.3,184.6 186.7,184.3 187.1,183.9 187.5,183.2 187.9,182.5 188.3,181.6 188.7,180.6 189.1,179.6 189.5,178.6 189.9,177.6 190.3,176.7 190.7,176 191.1,175.3 191.5,174.9 191.9,174.6 192.3,174.6 192.7,174.7 193.1,175 193.5,175.6 193.9,176.3 194.3,177.1 194.7,178.1 195.1,179.1 195.5,180.2 195.9,181.4 196.3,182.5 196.6,183.6 197,184.7 197.4,185.6 197.8,186.4 198.2,187.1 198.6,187.7 199,188.1 199.4,188.4 199.8,188.5 200.2,188.5 200.6,188.3 201,188 201.4,187.6 201.8,187.1 202.2,186.5 202.6,185.9 203,185.3 203.4,184.6 203.8,184 204.2,183.4 204.6,182.9 205,182.5 205.4,182.2 205.8,182 206.2,181.9 206.6,181.9 207,182.1 207.4,182.4 207.8,182.8 208.2,183.3 208.5,183.9 208.9,184.6 209.3,185.3 209.7,186 210.1,186.8 210.5,187.6 210.9,188.3 211.3,189 211.7,189.7 212.1,190.3 212.5,190.9 212.9,191.4 213.3,191.8 213.7,192.2 214.1,192.6 214.5,192.8 214.9,193.1 215.3,193.3 215.7,193.4 216.1,193.6 216.5,193.7 216.9,193.8 217.3,193.8 217.7,193.9 217.7,194 138.7,194" fill="#348ABD" fill-opacity=".25" stroke="#348ABD" stroke-width=".4" stroke-linejoin="round"/>
<polygon points="136.5,193.8 137,193.7 137.4,193.6 137.8,193.4 138.2,193.3 138.6,193.1 139.1,192.9 139.5,192.6 139.9,192.2 140.3,191.8 140.7,191.3 141.1,190.8 141.6,190.2 142,189.4 142.4,188.6 142.8,187.7 143.2,186.8 143.7,185.7 144.1,184.6 144.5,183.4 144.9,182.1 145.3,180.9 145.8,179.6 146.2,178.3 146.6,177 147,175.8 147.4,174.7 147.8,173.7 148.3,172.8 148.7,172.1 149.1,171.5 149.5,171.1 149.9,170.9 150.4,170.9 150.8,171.1 151.2,171.4 151.6,172 152,172.7 152.4,173.5 152.9,174.4 153.3,175.4 153.7,176.5 154.1,177.6 154.5,178.8 155,179.9 155.4,180.9 155.8,181.9 156.2,182.8 156.6,183.7 157.1,184.4 157.5,185 157.9,185.5 158.3,185.8 158.7,186.1 159.1,186.3 159.6,186.4 160,186.4 160.4,186.3 160.8,186.2 161.2,186.1 161.7,185.9 162.1,185.7 162.5,185.6 162.9,185.5 163.3,185.4 163.8,185.4 164.2,185.4 164.6,185.5 165,185.6 165.4,185.8 165.8,186 166.3,186.3 166.7,186.6 167.1,186.9 167.5,187.3 167.9,187.7 168.4,188 168.8,188.4 169.2,188.7 169.6,189.1 170,189.3 170.5,189.6 170.9,189.8 171.3,189.9 171.7,190 172.1,190 172.5,190 173,190 173.4,189.9 173.8,189.8 174.2,189.7 174.6,189.5 175.1,189.4 175.5,189.2 175.9,189 176.3,188.9 176.7,188.8 177.2,188.7 177.6,188.6 178,188.6 178.4,188.6 178.8,188.7 179.2,188.8 179.7,188.9 180.1,189.1 180.5,189.3 180.9,189.5 181.3,189.8 181.8,190 182.2,190.3 182.6,190.6 183,190.9 183.4,191.2 183.9,191.4 184.3,191.7 184.7,191.9 185.1,192.1 185.5,192.3 185.9,192.5 186.4,192.6 186.8,192.7 187.2,192.8 187.6,192.9 188,193 188.5,193 188.9,193.1 189.3,193.1 189.7,193.1 190.1,193.1 190.6,193.1 191,193.1 191.4,193.1 191.8,193.1 192.2,193.2 192.6,193.2 193.1,193.2 193.5,193.2 193.9,193.2 194.3,193.2 194.7,193.3 195.2,193.3 195.6,193.3 196,193.4 196.4,193.4 196.8,193.4 197.3,193.4 197.7,193.5 198.1,193.5 198.5,193.5 198.9,193.5 199.3,193.5 199.8,193.5 200.2,193.4 200.6,193.4 201,193.4 201.4,193.4 201.9,193.3 202.3,193.3 202.7,193.2 203.1,193.2 203.5,193.2 204,193.1 204.4,193.1 204.8,193.1 205.2,193.1 205.6,193 206,193 206.5,193 206.9,193 207.3,193.1 207.7,193.1 208.1,193.1 208.6,193.2 209,193.2 209.4,193.2 209.8,193.3 210.2,193.3 210.6,193.4 211.1,193.5 211.5,193.5 211.9,193.6 212.3,193.6 212.7,193.7 213.2,193.7 213.6,193.7 214,193.8 214.4,193.8 214.8,193.8 215.3,193.9 215.7,193.9 216.1,193.9 216.5,193.9 216.9,193.9 217.3,194 217.8,194 218.2,194 218.6,194 219,194 219.4,194 219.9,194 219.9,194 136.5,194" fill="#E24A33" fill-opacity=".25" stroke="#E24A33" stroke-width=".4" stroke-linejoin="round"/>
<rect x="228.8" y="100.5" width="89.9" height="93.5" fill="#E5E5E5"/>
<path class="g" d="M243.6 100.5v93.5M273.8 100.5v93.5M304 100.5v93.5M228.8 189.8h89.9M228.8 168.5h89.9M228.8 147.2h89.9M228.8 126h89.9M228.8 104.7h89.9"/>
<path class="k" d="M243.6 194v2M273.8 194v2M304 194v2M228.8 189.8h-2M228.8 168.5h-2M228.8 147.2h-2M228.8 126h-2M228.8 104.7h-2"/>
<circle class="r" cx="304" cy="104.7"/><circle cx="287.4" cy="147.2"/><circle cx="284.4" cy="126"/><circle cx="299.5" cy="104.7"/><circle cx="296.4" cy="147.2"/><circle cx="296.4" cy="126"/><circle cx="284.4" cy="147.2"/><circle cx="298" cy="147.2"/><circle cx="285.9" cy="147.2"/><circle cx="294.9" cy="104.7"/><circle cx="276.8" cy="147.2"/><circle cx="298" cy="104.7"/><circle class="r" cx="304" cy="147.2"/><circle class="r" cx="275.3" cy="147.2"/><circle cx="288.9" cy="147.2"/><circle cx="301" cy="126"/><circle cx="298" cy="126"/><circle cx="284.4" cy="104.7"/><circle cx="273.8" cy="189.8"/><circle cx="260.2" cy="147.2"/><circle cx="294.9" cy="126"/><circle cx="281.4" cy="147.2"/><circle cx="248.1" cy="168.5"/><circle cx="272.3" cy="189.8"/><circle cx="296.4" cy="104.7"/><circle cx="258.7" cy="126"/><circle cx="270.8" cy="189.8"/><circle cx="272.3" cy="168.5"/><circle cx="291.9" cy="147.2"/><circle cx="266.2" cy="189.8"/><circle cx="267.8" cy="189.8"/><circle cx="278.3" cy="147.2"/><circle cx="264.7" cy="189.8"/><circle cx="282.9" cy="104.7"/><circle cx="293.4" cy="126"/><circle cx="270.8" cy="147.2"/><circle cx="273.8" cy="147.2"/><circle cx="269.3" cy="189.8"/><circle class="r" cx="279.8" cy="104.7"/><circle cx="281.4" cy="104.7"/><circle cx="270.8" cy="168.5"/><circle cx="299.5" cy="126"/><circle cx="264.7" cy="168.5"/><circle cx="282.9" cy="126"/><circle cx="288.9" cy="126"/><circle cx="285.9" cy="104.7"/><circle cx="290.4" cy="104.7"/><circle cx="243.6" cy="189.8"/><circle cx="275.3" cy="126"/><circle cx="261.7" cy="147.2"/><circle class="r" cx="267.8" cy="147.2"/><circle cx="293.4" cy="104.7"/><circle cx="287.4" cy="126"/><circle cx="273.8" cy="168.5"/><circle cx="263.2" cy="168.5"/><circle cx="290.4" cy="147.2"/><circle cx="249.6" cy="168.5"/><circle cx="272.3" cy="147.2"/><circle cx="285.9" cy="126"/><circle cx="293.4" cy="147.2"/><circle cx="260.2" cy="189.8"/><circle cx="269.3" cy="147.2"/><circle cx="261.7" cy="189.8"/><circle cx="278.3" cy="104.7"/><circle cx="276.8" cy="126"/><circle cx="255.7" cy="189.8"/><circle cx="245.1" cy="189.8"/><circle cx="278.3" cy="126"/><circle cx="251.2" cy="189.8"/><circle cx="261.7" cy="168.5"/><circle cx="291.9" cy="126"/><circle cx="260.2" cy="168.5"/><circle class="r" cx="269.3" cy="168.5"/><circle cx="275.3" cy="104.7"/><circle cx="291.9" cy="104.7"/><circle cx="255.7" cy="168.5"/><circle cx="249.6" cy="189.8"/><circle class="r" cx="254.2" cy="189.8"/><circle cx="288.9" cy="104.7"/><circle cx="263.2" cy="147.2"/><circle cx="287.4" cy="104.7"/><circle cx="263.2" cy="189.8"/><circle cx="264.7" cy="147.2"/><circle cx="279.8" cy="126"/><circle cx="276.8" cy="104.7"/><circle cx="248.1" cy="189.8"/><circle cx="254.2" cy="168.5"/><circle cx="266.2" cy="168.5"/><circle cx="282.9" cy="147.2"/><circle cx="258.7" cy="147.2"/><circle cx="258.7" cy="189.8"/><circle cx="281.4" cy="126"/><circle cx="290.4" cy="126"/><circle cx="255.7" cy="147.2"/><circle cx="257.2" cy="147.2"/><circle cx="246.6" cy="189.8"/><circle cx="266.2" cy="147.2"/><circle cx="251.2" cy="168.5"/><circle cx="267.8" cy="168.5"/><circle cx="258.7" cy="168.5"/><circle cx="294.9" cy="147.2"/><circle cx="252.7" cy="189.8"/><circle cx="257.2" cy="189.8"/><circle cx="252.7" cy="168.5"/><circle cx="257.2" cy="168.5"/>
<rect x="324.4" y="100.5" width="89.9" height="93.5" fill="#E5E5E5"/>
<path class="g" d="M337.6 100.5v93.5M369.4 100.5v93.5M401.2 100.5v93.5M324.4 189.8h89.9M324.4 168.5h89.9M324.4 147.2h89.9M324.4 126h89.9M324.4 104.7h89.9"/>
<path class="k" d="M337.6 194v2M369.4 194v2M401.2 194v2M324.4 189.8h-2M324.4 168.5h-2M324.4 147.2h-2M324.4 126h-2M324.4 104.7h-2"/>
<circle class="r" cx="383.7" cy="147.2"/><circle cx="363" cy="104.7"/><circle cx="367.8" cy="168.5"/><circle cx="378.9" cy="126"/><circle cx="377.4" cy="147.2"/><circle cx="366.2" cy="147.2"/><circle cx="385.3" cy="147.2"/><circle cx="364.6" cy="104.7"/><circle cx="396.4" cy="104.7"/><circle cx="375.8" cy="104.7"/><circle cx="366.2" cy="126"/><circle cx="359.9" cy="104.7"/><circle cx="356.7" cy="104.7"/><circle cx="369.4" cy="189.8"/><circle cx="380.5" cy="126"/><circle class="r" cx="364.6" cy="147.2"/><circle cx="371" cy="147.2"/><circle cx="358.3" cy="189.8"/><circle cx="356.7" cy="126"/><circle cx="388.5" cy="104.7"/><circle class="r" cx="401.2" cy="147.2"/><circle class="r" cx="359.9" cy="147.2"/><circle cx="369.4" cy="168.5"/><circle cx="363" cy="189.8"/><circle cx="347.1" cy="104.7"/><circle cx="367.8" cy="147.2"/><circle class="r" cx="361.4" cy="189.8"/><circle cx="361.4" cy="104.7"/><circle cx="363" cy="147.2"/><circle cx="358.3" cy="104.7"/><circle cx="348.7" cy="126"/><circle cx="366.2" cy="168.5"/><circle cx="340.8" cy="104.7"/><circle cx="347.1" cy="126"/><circle cx="367.8" cy="126"/><circle cx="351.9" cy="126"/><circle cx="364.6" cy="168.5"/><circle cx="367.8" cy="189.8"/><circle class="r" cx="342.4" cy="104.7"/><circle cx="359.9" cy="168.5"/><circle cx="366.2" cy="189.8"/><circle cx="377.4" cy="126"/><circle cx="377.4" cy="104.7"/><circle cx="375.8" cy="147.2"/><circle cx="351.9" cy="147.2"/><circle cx="359.9" cy="189.8"/><circle cx="371" cy="126"/><circle cx="374.2" cy="126"/><circle cx="355.1" cy="147.2"/><circle cx="363" cy="126"/><circle cx="339.2" cy="126"/><circle cx="353.5" cy="126"/><circle cx="342.4" cy="126"/><circle cx="390.1" cy="126"/><circle cx="390.1" cy="104.7"/><circle cx="369.4" cy="147.2"/><circle cx="364.6" cy="189.8"/><circle class="r" cx="372.6" cy="104.7"/><circle cx="350.3" cy="104.7"/><circle cx="355.1" cy="126"/><circle cx="348.7" cy="147.2"/><circle cx="380.5" cy="147.2"/><circle cx="344" cy="104.7"/><circle class="r" cx="356.7" cy="147.2"/><circle cx="361.4" cy="126"/><circle cx="366.2" cy="104.7"/><circle cx="348.7" cy="104.7"/><circle cx="386.9" cy="104.7"/><circle cx="337.6" cy="189.8"/><circle class="r" cx="337.6" cy="147.2"/><circle cx="351.9" cy="104.7"/><circle cx="383.7" cy="126"/><circle cx="340.8" cy="126"/><circle cx="361.4" cy="168.5"/><circle cx="358.3" cy="126"/><circle cx="347.1" cy="147.2"/><circle cx="361.4" cy="147.2"/><circle cx="340.8" cy="147.2"/><circle cx="371" cy="104.7"/><circle cx="372.6" cy="126"/><circle cx="359.9" cy="126"/><circle cx="390.1" cy="147.2"/><circle cx="344" cy="147.2"/><circle cx="355.1" cy="189.8"/><circle cx="350.3" cy="126"/><circle cx="356.7" cy="189.8"/><circle cx="356.7" cy="168.5"/><circle cx="345.6" cy="104.7"/><circle cx="350.3" cy="189.8"/><circle cx="344" cy="126"/><circle cx="339.2" cy="147.2"/><circle cx="339.2" cy="168.5"/><circle cx="344" cy="189.8"/><circle cx="345.6" cy="126"/><circle cx="351.9" cy="189.8"/><circle cx="388.5" cy="126"/><circle cx="363" cy="168.5"/><circle class="r" cx="358.3" cy="168.5"/><circle class="r" cx="340.8" cy="168.5"/><circle cx="353.5" cy="168.5"/><circle cx="339.2" cy="104.7"/><circle cx="353.5" cy="104.7"/><circle cx="337.6" cy="168.5"/><circle class="r" cx="345.6" cy="189.8"/><circle cx="378.9" cy="104.7"/><circle cx="358.3" cy="147.2"/><circle cx="367.8" cy="104.7"/><circle cx="353.5" cy="189.8"/><circle cx="369.4" cy="126"/><circle cx="369.4" cy="104.7"/><circle cx="339.2" cy="189.8"/><circle cx="351.9" cy="168.5"/><circle cx="355.1" cy="168.5"/><circle cx="372.6" cy="147.2"/><circle cx="353.5" cy="147.2"/><circle cx="347.1" cy="189.8"/><circle cx="375.8" cy="126"/><circle cx="342.4" cy="147.2"/><circle cx="345.6" cy="147.2"/><circle cx="350.3" cy="147.2"/><circle class="r" cx="340.8" cy="189.8"/><circle cx="342.4" cy="168.5"/><circle cx="350.3" cy="168.5"/><circle cx="348.7" cy="168.5"/><circle cx="344" cy="168.5"/><circle cx="386.9" cy="147.2"/><circle cx="342.4" cy="189.8"/><circle cx="348.7" cy="189.8"/><circle cx="347.1" cy="168.5"/><circle cx="345.6" cy="168.5"/>
<rect x="420" y="100.5" width="89.9" height="93.5" fill="#E5E5E5"/>
<path class="g" d="M434.9 100.5v93.5M471.1 100.5v93.5M507.4 100.5v93.5M420 189.8h89.9M420 168.5h89.9M420 147.2h89.9M420 126h89.9M420 104.7h89.9"/>
<path class="k" d="M434.9 194v2M471.1 194v2M507.4 194v2M420 189.8h-2M420 168.5h-2M420 147.2h-2M420 126h-2M420 104.7h-2"/>
<circle class="r" cx="496.5" cy="147.2"/><circle class="r" cx="485.6" cy="168.5"/><circle cx="485.6" cy="189.8"/><circle cx="485.6" cy="126"/><circle cx="456.6" cy="126"/><circle cx="489.3" cy="147.2"/><circle cx="496.5" cy="168.5"/><circle cx="474.8" cy="189.8"/><circle class="r" cx="489.3" cy="189.8"/><circle cx="496.5" cy="126"/><circle cx="474.8" cy="104.7"/><circle cx="489.3" cy="126"/><circle class="r" cx="442.1" cy="104.7"/><circle cx="445.8" cy="126"/><circle cx="445.8" cy="104.7"/><circle cx="467.5" cy="147.2"/><circle cx="496.5" cy="104.7"/><circle cx="453" cy="126"/><circle cx="467.5" cy="104.7"/><circle cx="478.4" cy="189.8"/><circle cx="482" cy="126"/><circle cx="449.4" cy="126"/><circle cx="478.4" cy="104.7"/><circle cx="471.1" cy="147.2"/><circle cx="485.6" cy="147.2"/><circle cx="453" cy="189.8"/><circle cx="453" cy="147.2"/><circle cx="478.4" cy="147.2"/><circle cx="460.3" cy="104.7"/><circle cx="482" cy="104.7"/><circle cx="471.1" cy="189.8"/><circle cx="482" cy="168.5"/><circle cx="467.5" cy="126"/><circle cx="445.8" cy="147.2"/><circle cx="438.5" cy="168.5"/><circle cx="438.5" cy="147.2"/><circle cx="456.6" cy="189.8"/><circle cx="456.6" cy="104.7"/><circle cx="471.1" cy="126"/><circle cx="456.6" cy="147.2"/><circle cx="471.1" cy="168.5"/><circle cx="453" cy="104.7"/><circle cx="434.9" cy="126"/><circle cx="463.9" cy="126"/><circle cx="442.1" cy="126"/><circle class="r" cx="449.4" cy="189.8"/><circle cx="474.8" cy="168.5"/><circle cx="463.9" cy="189.8"/><circle cx="449.4" cy="147.2"/><circle cx="474.8" cy="126"/><circle cx="478.4" cy="168.5"/><circle cx="456.6" cy="168.5"/><circle cx="434.9" cy="104.7"/><circle cx="474.8" cy="147.2"/><circle cx="471.1" cy="104.7"/><circle cx="467.5" cy="189.8"/><circle cx="442.1" cy="147.2"/><circle cx="463.9" cy="104.7"/><circle cx="438.5" cy="189.8"/><circle cx="442.1" cy="168.5"/><circle cx="467.5" cy="168.5"/><circle cx="482" cy="147.2"/><circle cx="445.8" cy="189.8"/><circle cx="460.3" cy="126"/><circle cx="478.4" cy="126"/><circle cx="434.9" cy="147.2"/><circle cx="463.9" cy="147.2"/><circle cx="445.8" cy="168.5"/><circle cx="463.9" cy="168.5"/><circle cx="460.3" cy="168.5"/><circle cx="460.3" cy="189.8"/><circle cx="449.4" cy="168.5"/><circle cx="460.3" cy="147.2"/><circle cx="434.9" cy="189.8"/><circle cx="442.1" cy="189.8"/><circle cx="434.9" cy="168.5"/><circle cx="453" cy="168.5"/>
<rect x="37.6" y="198.8" width="89.9" height="93.5" fill="#E5E5E5"/>
<path class="g" d="M49.6 198.8v93.5M81.2 198.8v93.5M112.8 198.8v93.5M37.6 288.1h89.9M37.6 266.9h89.9M37.6 245.6h89.9M37.6 224.3h89.9M37.6 203.1h89.9"/>
<path class="k" d="M49.6 292.4v2M81.2 292.4v2M112.8 292.4v2M37.6 288.1h-2M37.6 266.9h-2M37.6 245.6h-2M37.6 224.3h-2M37.6 203.1h-2"/>
<circle class="r" cx="86.6" cy="256.2"/><circle class="r" cx="83.9" cy="264.7"/><circle class="r" cx="110.5" cy="228.6"/><circle class="r" cx="89.3" cy="215.8"/><circle class="r" cx="81.1" cy="260.5"/><circle class="r" cx="53.5" cy="281.7"/><circle class="r" cx="109.7" cy="230.7"/><circle class="r" cx="97.1" cy="228.6"/><circle class="r" cx="111.2" cy="203.1"/><circle class="r" cx="58.5" cy="258.4"/><circle class="r" cx="89.5" cy="239.2"/><circle class="r" cx="91.1" cy="209.5"/><circle cx="82.3" cy="262.6"/><circle cx="80.2" cy="260.5"/><circle cx="90.3" cy="266.9"/><circle cx="58.9" cy="247.7"/><circle cx="89.5" cy="228.6"/><circle cx="111.6" cy="226.5"/><circle cx="107" cy="243.5"/><circle cx="82.8" cy="254.1"/><circle cx="77.6" cy="243.5"/><circle cx="102.7" cy="228.6"/><circle cx="68.4" cy="279.6"/><circle cx="79.9" cy="252"/><circle cx="98" cy="211.6"/><circle cx="65" cy="258.4"/><circle class="r" cx="53.2" cy="245.6"/><circle cx="87" cy="258.4"/><circle cx="83.3" cy="226.5"/><circle cx="93.3" cy="243.5"/><circle cx="99.5" cy="235"/><circle cx="56.6" cy="260.5"/><circle cx="64.7" cy="258.4"/><circle cx="79.3" cy="235"/><circle cx="58.9" cy="258.4"/><circle cx="101.2" cy="230.7"/><circle cx="94" cy="241.3"/><circle cx="96.3" cy="215.8"/><circle cx="102.8" cy="243.5"/><circle cx="91.4" cy="239.2"/><circle cx="58" cy="286"/><circle class="r" cx="84.5" cy="243.5"/><circle cx="112.1" cy="230.7"/><circle cx="68.6" cy="245.6"/><circle cx="56.1" cy="262.6"/><circle cx="101.2" cy="226.5"/><circle cx="76.3" cy="243.5"/><circle cx="71.1" cy="247.7"/><circle cx="80.8" cy="258.4"/><circle cx="103" cy="266.9"/><circle cx="57.1" cy="260.5"/><circle cx="80" cy="254.1"/><circle cx="87" cy="249.8"/><circle cx="84.6" cy="211.6"/><circle cx="95.5" cy="241.3"/><circle cx="70.1" cy="277.5"/><circle cx="108.6" cy="230.7"/><circle class="r" cx="54" cy="277.5"/><circle cx="79.5" cy="260.5"/><circle cx="81" cy="243.5"/><circle class="r" cx="86.3" cy="254.1"/><circle cx="110.5" cy="209.5"/><circle cx="109.8" cy="232.8"/><circle cx="87.6" cy="241.3"/><circle cx="89.2" cy="249.8"/><circle cx="84.7" cy="254.1"/><circle cx="99.8" cy="222.2"/><circle cx="83.9" cy="239.2"/><circle cx="91.2" cy="224.3"/><circle cx="109.9" cy="235"/><circle class="r" cx="53.2" cy="269"/><circle cx="65.5" cy="260.5"/><circle cx="93.4" cy="235"/><circle cx="86.6" cy="252"/><circle cx="53.8" cy="271.1"/><circle cx="91.8" cy="222.2"/><circle cx="66.2" cy="247.7"/><circle cx="80.7" cy="264.7"/><circle cx="91.1" cy="213.7"/><circle cx="53.1" cy="288.1"/><circle cx="88.2" cy="220.1"/><circle cx="57.8" cy="252"/><circle cx="99.4" cy="211.6"/><circle cx="110.9" cy="235"/><circle cx="108.2" cy="237.1"/><circle cx="66.6" cy="279.6"/><circle cx="59.5" cy="245.6"/><circle cx="77" cy="245.6"/><circle cx="91.1" cy="252"/><circle cx="96.3" cy="226.5"/><circle cx="94.5" cy="213.7"/><circle cx="53.1" cy="286"/><circle cx="78.6" cy="245.6"/><circle cx="109.3" cy="220.1"/><circle cx="62" cy="245.6"/><circle cx="107.9" cy="243.5"/><circle cx="79.1" cy="264.7"/><circle cx="80.5" cy="271.1"/><circle cx="103" cy="228.6"/><circle cx="64.8" cy="249.8"/><circle cx="64.3" cy="258.4"/><circle cx="95.8" cy="243.5"/><circle cx="57.1" cy="245.6"/><circle cx="91.4" cy="254.1"/><circle cx="91.4" cy="228.6"/><circle cx="62.2" cy="260.5"/><circle cx="81.4" cy="230.7"/><circle cx="82.5" cy="211.6"/><circle cx="93.7" cy="237.1"/><circle cx="81.9" cy="245.6"/><circle cx="53.3" cy="286"/><circle cx="66" cy="254.1"/><circle cx="62.9" cy="249.8"/><circle class="r" cx="72.8" cy="243.5"/><circle cx="63.3" cy="254.1"/><circle cx="94.8" cy="237.1"/><circle cx="78.1" cy="264.7"/><circle cx="64" cy="258.4"/><circle cx="76.2" cy="247.7"/><circle cx="53.1" cy="266.9"/><circle cx="88.4" cy="262.6"/><circle cx="81.4" cy="228.6"/><circle cx="52.9" cy="275.4"/><circle cx="112.6" cy="230.7"/><circle cx="68.5" cy="218"/><circle cx="86.3" cy="239.2"/><circle cx="85.5" cy="256.2"/><circle cx="99.4" cy="241.3"/><circle cx="108.1" cy="215.8"/><circle cx="65.8" cy="252"/><circle cx="100.1" cy="222.2"/><circle cx="101.7" cy="224.3"/><circle cx="78.2" cy="247.7"/><circle cx="74.6" cy="241.3"/><circle cx="54.1" cy="277.5"/><circle cx="59.2" cy="254.1"/><circle cx="101" cy="224.3"/><circle cx="108.3" cy="211.6"/><circle class="r" cx="82.1" cy="203.1"/><circle cx="85.5" cy="269"/><circle cx="63.2" cy="256.2"/><circle cx="75.2" cy="252"/><circle cx="54.5" cy="258.4"/><circle cx="53.5" cy="288.1"/><circle cx="68.1" cy="279.6"/><circle class="r" cx="57.7" cy="286"/><circle class="r" cx="80.7" cy="256.2"/><circle cx="99.4" cy="243.5"/><circle cx="74.9" cy="249.8"/><circle cx="111.8" cy="241.3"/><circle cx="57.5" cy="245.6"/><circle cx="110.1" cy="232.8"/><circle cx="87.1" cy="266.9"/><circle cx="86.2" cy="245.6"/><circle cx="104.8" cy="243.5"/><circle cx="54.9" cy="254.1"/><circle cx="86.2" cy="264.7"/><circle cx="74.2" cy="256.2"/><circle cx="80.3" cy="247.7"/><circle cx="87" cy="262.6"/><circle class="r" cx="55.7" cy="288.1"/><circle class="r" cx="81" cy="243.5"/><circle cx="74" cy="258.4"/><circle cx="71.7" cy="252"/><circle cx="86" cy="252"/><circle cx="53.3" cy="258.4"/><circle cx="73.1" cy="245.6"/><circle cx="74.1" cy="262.6"/><circle cx="94.4" cy="220.1"/><circle cx="96.4" cy="228.6"/><circle class="r" cx="70" cy="273.2"/><circle cx="74.6" cy="247.7"/><circle class="r" cx="56" cy="256.2"/><circle cx="85.7" cy="258.4"/><circle cx="112.6" cy="237.1"/><circle cx="69.3" cy="249.8"/><circle cx="82.1" cy="224.3"/><circle cx="60.4" cy="283.9"/><circle class="r" cx="69" cy="249.8"/><circle cx="74.3" cy="260.5"/><circle cx="109.1" cy="224.3"/><circle cx="105.7" cy="207.3"/><circle cx="72.2" cy="252"/><circle cx="75.3" cy="256.2"/><circle cx="98.4" cy="211.6"/><circle cx="57.2" cy="247.7"/><circle cx="76.1" cy="254.1"/><circle cx="112.3" cy="243.5"/><circle cx="81.4" cy="269"/><circle cx="107.1" cy="230.7"/><circle cx="78.8" cy="252"/><circle cx="67" cy="245.6"/><circle cx="69" cy="277.5"/><circle cx="71.2" cy="245.6"/><circle cx="62" cy="249.8"/><circle cx="104.2" cy="243.5"/><circle cx="103.8" cy="228.6"/><circle cx="110" cy="241.3"/><circle cx="65.7" cy="245.6"/><circle cx="86.4" cy="228.6"/><circle cx="111.5" cy="243.5"/><circle cx="53.6" cy="266.9"/><circle cx="58.6" cy="245.6"/><circle cx="79.2" cy="254.1"/><circle cx="94.5" cy="237.1"/><circle cx="76.4" cy="264.7"/><circle class="r" cx="76.6" cy="252"/><circle cx="95.5" cy="220.1"/><circle cx="72.6" cy="275.4"/><circle cx="87.4" cy="235"/><circle cx="86.4" cy="260.5"/><circle cx="63.3" cy="281.7"/><circle cx="94.3" cy="241.3"/><circle cx="111.3" cy="243.5"/><circle cx="58.4" cy="252"/><circle cx="70.4" cy="245.6"/><circle cx="93.1" cy="215.8"/><circle class="r" cx="69" cy="258.4"/><circle cx="54.5" cy="277.5"/><circle cx="56.2" cy="273.2"/><circle cx="64.7" cy="252"/><circle cx="54.1" cy="256.2"/><circle cx="66.8" cy="247.7"/><circle cx="81.1" cy="235"/><circle cx="58.5" cy="247.7"/><circle class="r" cx="82.8" cy="258.4"/><circle cx="84.1" cy="266.9"/><circle cx="61.8" cy="254.1"/><circle cx="72.4" cy="252"/><circle cx="75" cy="264.7"/><circle cx="73.7" cy="260.5"/><circle cx="103.5" cy="237.1"/><circle class="r" cx="70.5" cy="275.4"/><circle cx="55.1" cy="247.7"/><circle cx="84.8" cy="252"/><circle cx="67.9" cy="252"/><circle cx="75.8" cy="256.2"/><circle cx="85.5" cy="232.8"/><circle cx="64" cy="264.7"/><circle cx="62" cy="258.4"/><circle cx="110.7" cy="213.7"/><circle cx="83.5" cy="256.2"/><circle cx="80.9" cy="249.8"/><circle cx="76.9" cy="266.9"/><circle cx="66.7" cy="264.7"/><circle cx="105.2" cy="235"/><circle cx="86.8" cy="235"/><circle cx="77.6" cy="245.6"/><circle cx="66.4" cy="260.5"/><circle cx="70.6" cy="271.1"/><circle cx="79" cy="262.6"/><circle cx="111.6" cy="232.8"/><circle cx="99.3" cy="266.9"/><circle class="r" cx="70.9" cy="245.6"/><circle cx="53.2" cy="273.2"/><circle cx="67.8" cy="249.8"/><circle class="r" cx="60.9" cy="262.6"/><circle cx="87.9" cy="262.6"/><circle cx="66.9" cy="256.2"/><circle cx="110" cy="243.5"/><circle cx="68.3" cy="273.2"/><circle cx="99.6" cy="226.5"/><circle cx="79.3" cy="269"/><circle class="r" cx="83.7" cy="256.2"/><circle cx="85.2" cy="232.8"/><circle cx="54.6" cy="262.6"/><circle cx="76.7" cy="260.5"/><circle cx="91" cy="226.5"/><circle cx="72.5" cy="264.7"/><circle cx="54.1" cy="271.1"/><circle cx="74.6" cy="275.4"/><circle cx="57.4" cy="249.8"/><circle cx="68.2" cy="264.7"/><circle cx="79.9" cy="266.9"/><circle cx="59.1" cy="273.2"/><circle class="r" cx="97.1" cy="220.1"/><circle cx="53.6" cy="249.8"/><circle cx="67.2" cy="273.2"/><circle cx="66.7" cy="254.1"/><circle cx="100" cy="239.2"/><circle cx="54.9" cy="273.2"/><circle cx="62.9" cy="258.4"/><circle cx="103.1" cy="222.2"/><circle cx="71.8" cy="249.8"/><circle cx="66.6" cy="247.7"/><circle cx="111.3" cy="235"/><circle cx="56.2" cy="281.7"/><circle cx="88.5" cy="260.5"/><circle cx="88.3" cy="220.1"/><circle cx="56.2" cy="264.7"/><circle cx="57.5" cy="271.1"/><circle cx="72.9" cy="254.1"/><circle cx="59.4" cy="256.2"/><circle class="r" cx="88" cy="237.1"/><circle cx="69" cy="260.5"/><circle cx="53.3" cy="254.1"/><circle cx="63.6" cy="271.1"/><circle cx="105.3" cy="241.3"/><circle cx="62.2" cy="273.2"/><circle cx="69" cy="269"/><circle cx="60.1" cy="264.7"/><circle cx="99.2" cy="235"/><circle cx="58.6" cy="279.6"/><circle cx="75.9" cy="273.2"/><circle class="r" cx="102.9" cy="243.5"/><circle cx="60.2" cy="277.5"/><circle class="r" cx="53.1" cy="279.6"/><circle cx="98.4" cy="232.8"/><circle class="r" cx="66.3" cy="273.2"/><circle cx="85.2" cy="239.2"/><circle cx="90.8" cy="222.2"/><circle cx="102.7" cy="241.3"/><circle cx="65.7" cy="273.2"/><circle cx="59.6" cy="273.2"/><circle cx="56.5" cy="283.9"/><circle cx="105.8" cy="222.2"/><circle cx="88.4" cy="243.5"/><circle cx="77.8" cy="271.1"/><circle cx="98.8" cy="226.5"/><circle class="r" cx="80.3" cy="245.6"/><circle cx="60.4" cy="258.4"/><circle cx="94.5" cy="241.3"/><circle cx="54.1" cy="266.9"/><circle class="r" cx="54.4" cy="288.1"/><circle cx="97.2" cy="232.8"/><circle cx="53.8" cy="273.2"/><circle cx="56.9" cy="269"/><circle class="r" cx="57.3" cy="286"/><circle cx="110.5" cy="232.8"/><circle cx="99.3" cy="218"/><circle cx="62.7" cy="252"/><circle cx="97.2" cy="243.5"/><circle cx="64" cy="252"/><circle cx="54.9" cy="264.7"/><circle cx="109" cy="241.3"/><circle cx="93.4" cy="209.5"/><circle cx="69.4" cy="275.4"/><circle cx="112.7" cy="218"/><circle cx="64.3" cy="262.6"/><circle cx="111.1" cy="237.1"/><circle cx="89.3" cy="249.8"/><circle cx="78.3" cy="262.6"/><circle cx="59.9" cy="269"/><circle cx="56.6" cy="277.5"/><circle cx="91.7" cy="226.5"/><circle cx="78" cy="245.6"/><circle cx="71.1" cy="245.6"/><circle cx="58.7" cy="252"/><circle cx="54.7" cy="269"/><circle class="r" cx="108.9" cy="237.1"/><circle cx="78.6" cy="254.1"/><circle cx="70.2" cy="260.5"/><circle cx="85.8" cy="266.9"/><circle cx="111.1" cy="235"/><circle cx="60.6" cy="266.9"/><circle cx="54" cy="281.7"/><circle class="r" cx="63.7" cy="275.4"/><circle cx="60.9" cy="249.8"/><circle cx="102" cy="209.5"/><circle cx="70.4" cy="258.4"/><circle cx="91.7" cy="218"/><circle cx="67.1" cy="256.2"/><circle class="r" cx="81.6" cy="271.1"/><circle cx="70.1" cy="262.6"/><circle cx="60.6" cy="269"/><circle cx="112.3" cy="239.2"/><circle class="r" cx="72.6" cy="262.6"/><circle cx="104.8" cy="232.8"/><circle class="r" cx="60.4" cy="275.4"/><circle cx="104" cy="224.3"/><circle cx="62.6" cy="262.6"/><circle cx="55.2" cy="277.5"/><circle cx="112.6" cy="228.6"/><circle cx="109" cy="239.2"/><circle cx="84.6" cy="266.9"/><circle cx="61.2" cy="269"/><circle cx="110.5" cy="222.2"/><circle cx="64" cy="262.6"/><circle cx="55.2" cy="288.1"/><circle cx="92.5" cy="243.5"/><circle cx="90.6" cy="262.6"/><circle class="r" cx="69.9" cy="254.1"/><circle cx="58.8" cy="275.4"/><circle cx="56.2" cy="269"/><circle cx="66.7" cy="277.5"/><circle cx="64.1" cy="273.2"/><circle cx="61.9" cy="281.7"/><circle cx="55.2" cy="266.9"/><circle cx="83" cy="266.9"/><circle cx="111.6" cy="218"/><circle cx="98.1" cy="226.5"/><circle cx="53.1" cy="283.9"/><circle cx="103.7" cy="239.2"/><circle cx="67.7" cy="252"/><circle cx="54.3" cy="266.9"/><circle cx="74.7" cy="245.6"/><circle cx="98.5" cy="228.6"/><circle cx="67.2" cy="260.5"/><circle cx="58.9" cy="266.9"/><circle cx="93.1" cy="222.2"/><circle cx="61" cy="277.5"/><circle cx="56.2" cy="254.1"/><circle cx="56.9" cy="279.6"/><circle cx="60.9" cy="273.2"/><circle cx="80.9" cy="266.9"/><circle cx="69.4" cy="271.1"/><circle cx="64.7" cy="279.6"/><circle cx="64.2" cy="271.1"/><circle cx="78.9" cy="256.2"/><circle cx="70" cy="275.4"/><circle cx="55.4" cy="286"/><circle cx="83.4" cy="247.7"/><circle cx="68.2" cy="266.9"/><circle cx="77" cy="271.1"/><circle cx="107.1" cy="239.2"/><circle cx="53.1" cy="275.4"/><circle cx="78.7" cy="266.9"/><circle cx="108.2" cy="243.5"/><circle class="r" cx="68.2" cy="275.4"/><circle cx="96.2" cy="239.2"/><circle cx="95.9" cy="228.6"/><circle cx="87.1" cy="218"/><circle cx="77" cy="256.2"/><circle cx="84.8" cy="271.1"/><circle class="r" cx="58.8" cy="281.7"/><circle cx="57.7" cy="264.7"/><circle cx="83.5" cy="252"/><circle cx="76.2" cy="252"/><circle cx="100.7" cy="237.1"/><circle cx="59.8" cy="262.6"/><circle cx="68.2" cy="256.2"/><circle cx="78" cy="269"/><circle cx="56.2" cy="275.4"/><circle class="r" cx="53.6" cy="286"/><circle cx="63.8" cy="279.6"/><circle cx="108.5" cy="239.2"/><circle cx="64.6" cy="271.1"/><circle cx="63.4" cy="266.9"/><circle cx="60" cy="271.1"/><circle cx="82.3" cy="266.9"/><circle class="r" cx="74.6" cy="269"/><circle cx="104.6" cy="241.3"/><circle cx="68.5" cy="271.1"/><circle cx="66.3" cy="269"/><circle cx="53.8" cy="279.6"/><circle cx="55.9" cy="271.1"/><circle cx="60.9" cy="279.6"/><circle cx="67.5" cy="271.1"/><circle cx="98.3" cy="237.1"/><circle cx="55.6" cy="277.5"/><circle cx="75.2" cy="269"/><circle cx="54.7" cy="286"/><circle cx="53.8" cy="286"/><circle cx="104.1" cy="239.2"/><circle class="r" cx="64.3" cy="277.5"/><circle cx="74.8" cy="266.9"/><circle cx="68.4" cy="254.1"/><circle cx="54.3" cy="279.6"/><circle cx="62.5" cy="277.5"/><circle cx="67.3" cy="262.6"/><circle cx="71.9" cy="266.9"/><circle cx="61.5" cy="277.5"/><circle cx="76.3" cy="266.9"/><circle cx="81.8" cy="266.9"/><circle cx="76.9" cy="262.6"/><circle cx="76.5" cy="271.1"/><circle cx="70.4" cy="271.1"/><circle cx="74.4" cy="271.1"/><circle cx="103.2" cy="220.1"/><circle cx="60.7" cy="254.1"/><circle cx="72.7" cy="266.9"/><circle class="r" cx="76" cy="256.2"/><circle cx="69.5" cy="264.7"/><circle class="r" cx="63.3" cy="252"/><circle cx="69.5" cy="266.9"/><circle cx="111.2" cy="243.5"/><circle cx="111.8" cy="220.1"/><circle cx="59.5" cy="271.1"/><circle cx="56" cy="279.6"/><circle class="r" cx="54" cy="275.4"/><circle class="r" cx="63.6" cy="273.2"/><circle cx="107.2" cy="224.3"/><circle cx="88.2" cy="260.5"/><circle cx="107.8" cy="226.5"/><circle cx="59.2" cy="260.5"/><circle cx="61" cy="281.7"/><circle cx="77.9" cy="258.4"/><circle cx="106.2" cy="237.1"/><circle cx="64.2" cy="266.9"/><circle cx="107.1" cy="241.3"/><circle cx="60.3" cy="281.7"/><circle cx="72.8" cy="273.2"/><circle cx="66" cy="275.4"/><circle cx="67.4" cy="266.9"/><circle cx="62.9" cy="256.2"/><circle cx="81.7" cy="232.8"/><circle cx="59.6" cy="266.9"/><circle cx="73" cy="266.9"/><circle cx="62.1" cy="266.9"/><circle cx="94.2" cy="235"/><circle cx="95.1" cy="222.2"/><circle cx="87.4" cy="271.1"/><circle cx="71.2" cy="269"/><circle cx="59.6" cy="283.9"/><circle cx="71.1" cy="256.2"/><circle class="r" cx="58" cy="275.4"/><circle cx="70" cy="277.5"/><circle cx="69.5" cy="254.1"/><circle cx="65.7" cy="266.9"/><circle cx="67.2" cy="275.4"/><circle cx="86.5" cy="215.8"/><circle cx="56.8" cy="275.4"/><circle cx="62.5" cy="269"/><circle cx="64.3" cy="275.4"/><circle cx="64.8" cy="269"/>
<rect x="133.2" y="198.8" width="89.9" height="93.5" fill="#E5E5E5"/>
<path class="g" d="M136.1 198.8v93.5M164.2 198.8v93.5M192.2 198.8v93.5M220.3 198.8v93.5M133.2 288.1h89.9M133.2 266.9h89.9M133.2 245.6h89.9M133.2 224.3h89.9M133.2 203.1h89.9"/>
<path class="k" d="M136.1 292.4v2M164.2 292.4v2M192.2 292.4v2M220.3 292.4v2M133.2 288.1h-2M133.2 266.9h-2M133.2 245.6h-2M133.2 224.3h-2M133.2 203.1h-2"/>
<circle class="r" cx="206.3" cy="203.1"/><circle cx="178.2" cy="226.5"/><circle cx="192.2" cy="230.7"/><circle cx="206.3" cy="209.5"/><circle cx="178.2" cy="213.7"/><circle cx="192.2" cy="213.7"/><circle cx="178.2" cy="230.7"/><circle cx="178.2" cy="211.6"/><circle cx="178.2" cy="228.6"/><circle cx="206.3" cy="215.8"/><circle cx="178.2" cy="241.3"/><circle cx="206.3" cy="211.6"/><circle class="r" cx="178.2" cy="203.1"/><circle class="r" cx="178.2" cy="243.5"/><circle cx="178.2" cy="224.3"/><circle cx="192.2" cy="207.3"/><circle cx="192.2" cy="211.6"/><circle cx="206.3" cy="230.7"/><circle cx="150.1" cy="245.6"/><circle cx="178.2" cy="264.7"/><circle cx="192.2" cy="215.8"/><circle cx="178.2" cy="235"/><circle cx="164.2" cy="281.7"/><circle cx="150.1" cy="247.7"/><circle cx="206.3" cy="213.7"/><circle cx="192.2" cy="266.9"/><circle cx="150.1" cy="249.8"/><circle cx="164.2" cy="247.7"/><circle cx="178.2" cy="220.1"/><circle cx="150.1" cy="256.2"/><circle cx="150.1" cy="254.1"/><circle cx="178.2" cy="239.2"/><circle cx="150.1" cy="258.4"/><circle cx="206.3" cy="232.8"/><circle cx="192.2" cy="218"/><circle cx="178.2" cy="249.8"/><circle cx="178.2" cy="245.6"/><circle cx="150.1" cy="252"/><circle class="r" cx="206.3" cy="237.1"/><circle cx="206.3" cy="235"/><circle cx="164.2" cy="249.8"/><circle cx="192.2" cy="209.5"/><circle cx="164.2" cy="258.4"/><circle cx="192.2" cy="232.8"/><circle cx="192.2" cy="224.3"/><circle cx="206.3" cy="228.6"/><circle cx="206.3" cy="222.2"/><circle cx="150.1" cy="288.1"/><circle cx="192.2" cy="243.5"/><circle cx="178.2" cy="262.6"/><circle class="r" cx="178.2" cy="254.1"/><circle cx="206.3" cy="218"/><circle cx="192.2" cy="226.5"/><circle cx="164.2" cy="245.6"/><circle cx="164.2" cy="260.5"/><circle cx="178.2" cy="222.2"/><circle cx="164.2" cy="279.6"/><circle cx="178.2" cy="247.7"/><circle cx="192.2" cy="228.6"/><circle cx="178.2" cy="218"/><circle cx="150.1" cy="264.7"/><circle cx="178.2" cy="252"/><circle cx="150.1" cy="262.6"/><circle cx="206.3" cy="239.2"/><circle cx="192.2" cy="241.3"/><circle cx="150.1" cy="271.1"/><circle cx="150.1" cy="286"/><circle cx="192.2" cy="239.2"/><circle cx="150.1" cy="277.5"/><circle cx="164.2" cy="262.6"/><circle cx="192.2" cy="220.1"/><circle cx="164.2" cy="264.7"/><circle class="r" cx="164.2" cy="252"/><circle cx="206.3" cy="243.5"/><circle cx="206.3" cy="220.1"/><circle cx="164.2" cy="271.1"/><circle cx="150.1" cy="279.6"/><circle class="r" cx="150.1" cy="273.2"/><circle cx="206.3" cy="224.3"/><circle cx="178.2" cy="260.5"/><circle cx="206.3" cy="226.5"/><circle cx="150.1" cy="260.5"/><circle cx="178.2" cy="258.4"/><circle cx="192.2" cy="237.1"/><circle cx="206.3" cy="241.3"/><circle cx="150.1" cy="281.7"/><circle cx="164.2" cy="273.2"/><circle cx="164.2" cy="256.2"/><circle cx="178.2" cy="232.8"/><circle cx="178.2" cy="266.9"/><circle cx="150.1" cy="266.9"/><circle cx="192.2" cy="235"/><circle cx="192.2" cy="222.2"/><circle cx="178.2" cy="271.1"/><circle cx="178.2" cy="269"/><circle cx="150.1" cy="283.9"/><circle cx="178.2" cy="256.2"/><circle cx="164.2" cy="277.5"/><circle cx="164.2" cy="254.1"/><circle cx="164.2" cy="266.9"/><circle cx="178.2" cy="215.8"/><circle cx="150.1" cy="275.4"/><circle cx="150.1" cy="269"/><circle cx="164.2" cy="275.4"/><circle cx="164.2" cy="269"/>
<rect x="228.8" y="198.8" width="89.9" height="93.5" fill="#E5E5E5"/>
<path class="g" d="M243.6 198.8v93.5M273.8 198.8v93.5M304 198.8v93.5M228.8 288.1h89.9M228.8 266.9h89.9M228.8 245.6h89.9M228.8 224.3h89.9M228.8 203.1h89.9"/>
<path class="k" d="M243.6 292.4v2M273.8 292.4v2M304 292.4v2M228.8 288.1h-2M228.8 266.9h-2M228.8 245.6h-2M228.8 224.3h-2M228.8 203.1h-2"/>
<polygon points="235.2,292.3 235.6,292.3 235.9,292.3 236.3,292.3 236.7,292.2 237.1,292.2 237.4,292.1 237.8,291.9 238.2,291.8 238.5,291.6 238.9,291.3 239.3,291 239.7,290.5 240,290 240.4,289.4 240.8,288.6 241.2,287.8 241.5,286.8 241.9,285.7 242.3,284.4 242.6,283 243,281.5 243.4,279.9 243.8,278.1 244.1,276.3 244.5,274.4 244.9,272.4 245.3,270.3 245.6,268.1 246,265.8 246.4,263.5 246.7,261 247.1,258.5 247.5,255.8 247.9,253.1 248.2,250.3 248.6,247.5 249,244.6 249.4,241.6 249.7,238.7 250.1,235.9 250.5,233.1 250.9,230.4 251.2,227.9 251.6,225.4 252,223.1 252.3,220.9 252.7,218.8 253.1,216.8 253.5,215 253.8,213.2 254.2,211.4 254.6,209.8 255,208.2 255.3,206.8 255.7,205.5 256.1,204.4 256.4,203.7 256.8,203.3 257.2,203.3 257.6,203.8 257.9,204.8 258.3,206.3 258.7,208.4 259.1,211 259.4,214 259.8,217.4 260.2,221.1 260.5,225 260.9,229 261.3,233 261.7,236.9 262,240.6 262.4,244.1 262.8,247.2 263.2,250 263.5,252.5 263.9,254.6 264.3,256.4 264.6,257.9 265,259.1 265.4,260.1 265.8,260.9 266.1,261.5 266.5,262 266.9,262.5 267.3,262.9 267.6,263.2 268,263.6 268.4,263.9 268.7,264.3 269.1,264.6 269.5,265 269.9,265.4 270.2,265.7 270.6,266 271,266.4 271.4,266.6 271.7,266.9 272.1,267.1 272.5,267.3 272.8,267.5 273.2,267.7 273.6,267.9 274,268.1 274.3,268.3 274.7,268.5 275.1,268.8 275.5,269.1 275.8,269.5 276.2,269.9 276.6,270.4 277,270.9 277.3,271.5 277.7,272 278.1,272.7 278.4,273.3 278.8,274 279.2,274.6 279.6,275.3 279.9,275.9 280.3,276.6 280.7,277.2 281.1,277.8 281.4,278.4 281.8,279 282.2,279.5 282.5,280 282.9,280.4 283.3,280.8 283.7,281.2 284,281.6 284.4,281.9 284.8,282.1 285.2,282.4 285.5,282.6 285.9,282.8 286.3,282.9 286.6,283.1 287,283.2 287.4,283.4 287.8,283.5 288.1,283.6 288.5,283.8 288.9,283.9 289.3,284.1 289.6,284.2 290,284.4 290.4,284.5 290.7,284.7 291.1,284.9 291.5,285.1 291.9,285.3 292.2,285.5 292.6,285.7 293,286 293.4,286.2 293.7,286.4 294.1,286.7 294.5,286.9 294.8,287.1 295.2,287.3 295.6,287.5 296,287.8 296.3,288 296.7,288.2 297.1,288.4 297.5,288.5 297.8,288.8 298.2,289 298.6,289.2 298.9,289.4 299.3,289.6 299.7,289.8 300.1,290.1 300.4,290.3 300.8,290.5 301.2,290.7 301.6,290.9 301.9,291.1 302.3,291.3 302.7,291.5 303.1,291.6 303.4,291.8 303.8,291.9 304.2,292 304.5,292.1 304.9,292.1 305.3,292.2 305.7,292.2 306,292.3 306.4,292.3 306.8,292.3 307.2,292.3 307.5,292.3 307.9,292.4 308.3,292.4 308.6,292.4 309,292.4 309.4,292.4 309.4,292.4 235.2,292.4" fill="#348ABD" fill-opacity=".25" stroke="#348ABD" stroke-width=".4" stroke-linejoin="round"/>
<polygon points="232.3,292.3 232.7,292.3 233.2,292.3 233.6,292.3 234,292.2 234.4,292.2 234.8,292.1 235.2,292 235.7,291.9 236.1,291.8 236.5,291.6 236.9,291.4 237.3,291.2 237.7,290.9 238.2,290.6 238.6,290.2 239,289.7 239.4,289.2 239.8,288.7 240.2,288 240.7,287.4 241.1,286.7 241.5,285.9 241.9,285.2 242.3,284.4 242.7,283.6 243.2,282.9 243.6,282.2 244,281.5 244.4,280.9 244.8,280.3 245.3,279.8 245.7,279.3 246.1,279 246.5,278.7 246.9,278.4 247.3,278.2 247.8,278 248.2,277.9 248.6,277.7 249,277.6 249.4,277.5 249.8,277.4 250.3,277.3 250.7,277.2 251.1,277.2 251.5,277.1 251.9,277.1 252.3,277 252.8,277.1 253.2,277.1 253.6,277.2 254,277.3 254.4,277.5 254.8,277.7 255.3,278 255.7,278.3 256.1,278.7 256.5,279.1 256.9,279.5 257.3,280 257.8,280.5 258.2,281 258.6,281.5 259,281.9 259.4,282.4 259.8,282.9 260.3,283.4 260.7,283.8 261.1,284.2 261.5,284.6 261.9,284.9 262.3,285.3 262.8,285.6 263.2,285.9 263.6,286.1 264,286.4 264.4,286.6 264.8,286.8 265.3,287 265.7,287.2 266.1,287.4 266.5,287.6 266.9,287.7 267.3,287.9 267.8,288.1 268.2,288.3 268.6,288.4 269,288.6 269.4,288.8 269.8,288.9 270.3,289.1 270.7,289.2 271.1,289.3 271.5,289.5 271.9,289.6 272.3,289.7 272.8,289.8 273.2,289.9 273.6,290 274,290.1 274.4,290.2 274.8,290.3 275.3,290.4 275.7,290.4 276.1,290.5 276.5,290.6 276.9,290.7 277.3,290.7 277.8,290.8 278.2,290.8 278.6,290.9 279,290.9 279.4,291 279.8,291 280.3,291.1 280.7,291.1 281.1,291.1 281.5,291.2 281.9,291.2 282.3,291.2 282.8,291.3 283.2,291.3 283.6,291.3 284,291.3 284.4,291.4 284.8,291.4 285.3,291.5 285.7,291.5 286.1,291.5 286.5,291.6 286.9,291.6 287.3,291.7 287.8,291.7 288.2,291.7 288.6,291.8 289,291.8 289.4,291.8 289.8,291.9 290.3,291.9 290.7,291.9 291.1,291.9 291.5,291.9 291.9,292 292.3,292 292.8,292 293.2,292 293.6,292 294,292 294.4,292 294.8,292 295.3,292 295.7,292 296.1,292 296.5,292 296.9,292 297.3,292 297.8,292 298.2,292 298.6,292 299,292 299.4,292 299.8,292 300.3,292 300.7,292 301.1,291.9 301.5,291.9 301.9,291.9 302.3,291.9 302.8,291.9 303.2,292 303.6,292 304,292 304.4,292 304.9,292 305.3,292 305.7,292 306.1,292.1 306.5,292.1 306.9,292.1 307.4,292.1 307.8,292.2 308.2,292.2 308.6,292.2 309,292.2 309.4,292.3 309.9,292.3 310.3,292.3 310.7,292.3 311.1,292.3 311.5,292.3 311.9,292.3 312.4,292.3 312.8,292.3 313.2,292.4 313.6,292.4 314,292.4 314.4,292.4 314.9,292.4 315.3,292.4 315.3,292.4 232.3,292.4" fill="#E24A33" fill-opacity=".25" stroke="#E24A33" stroke-width=".4" stroke-linejoin="round"/>
<rect x="324.4" y="198.8" width="89.9" height="93.5" fill="#E5E5E5"/>
<path class="g" d="M337.6 198.8v93.5M369.4 198.8v93.5M401.2 198.8v93.5M324.4 288.1h89.9M324.4 266.9h89.9M324.4 245.6h89.9M324.4 224.3h89.9M324.4 203.1h89.9"/>
<path class="k" d="M337.6 292.4v2M369.4 292.4v2M401.2 292.4v2M324.4 288.1h-2M324.4 266.9h-2M324.4 245.6h-2M324.4 224.3h-2M324.4 203.1h-2"/>
<circle class="r" cx="383.7" cy="215.8"/><circle class="r" cx="378.9" cy="230.7"/><circle class="r" cx="339.2" cy="228.6"/><circle class="r" cx="386.9" cy="203.1"/><circle class="r" cx="339.2" cy="209.5"/><circle cx="363" cy="239.2"/><circle cx="372.6" cy="228.6"/><circle cx="361.4" cy="226.5"/><circle cx="363" cy="243.5"/><circle cx="339.2" cy="262.6"/><circle cx="342.4" cy="218"/><circle cx="337.6" cy="256.2"/><circle cx="347.1" cy="249.8"/><circle cx="378.9" cy="228.6"/><circle cx="348.7" cy="247.7"/><circle cx="350.3" cy="247.7"/><circle class="r" cx="337.6" cy="273.2"/><circle cx="388.5" cy="215.8"/><circle class="r" cx="356.7" cy="243.5"/><circle cx="369.4" cy="230.7"/><circle cx="353.5" cy="226.5"/><circle cx="344" cy="247.7"/><circle cx="385.3" cy="211.6"/><circle cx="361.4" cy="241.3"/><circle cx="348.7" cy="256.2"/><circle cx="359.9" cy="239.2"/><circle class="r" cx="337.6" cy="249.8"/><circle cx="364.6" cy="230.7"/><circle cx="366.2" cy="239.2"/><circle class="r" cx="339.2" cy="254.1"/><circle cx="396.4" cy="209.5"/><circle cx="364.6" cy="245.6"/><circle cx="359.9" cy="249.8"/><circle cx="339.2" cy="241.3"/><circle cx="377.4" cy="224.3"/><circle cx="342.4" cy="235"/><circle cx="339.2" cy="264.7"/><circle cx="353.5" cy="235"/><circle cx="337.6" cy="266.9"/><circle cx="345.6" cy="222.2"/><circle cx="356.7" cy="254.1"/><circle cx="366.2" cy="220.1"/><circle cx="369.4" cy="211.6"/><circle cx="359.9" cy="235"/><circle cx="348.7" cy="254.1"/><circle cx="356.7" cy="237.1"/><circle class="r" cx="356.7" cy="258.4"/><circle cx="342.4" cy="213.7"/><circle cx="358.3" cy="245.6"/><circle cx="340.8" cy="220.1"/><circle cx="340.8" cy="264.7"/><circle cx="342.4" cy="237.1"/><circle cx="380.5" cy="228.6"/><circle cx="339.2" cy="247.7"/><circle cx="350.3" cy="249.8"/><circle class="r" cx="364.6" cy="247.7"/><circle cx="369.4" cy="228.6"/><circle cx="355.1" cy="211.6"/><circle cx="363" cy="237.1"/><circle cx="337.6" cy="260.5"/><circle cx="358.3" cy="254.1"/><circle class="r" cx="350.3" cy="243.5"/><circle cx="348.7" cy="260.5"/><circle cx="358.3" cy="247.7"/><circle cx="347.1" cy="262.6"/><circle cx="358.3" cy="239.2"/><circle cx="355.1" cy="228.6"/><circle cx="371" cy="230.7"/><circle cx="342.4" cy="256.2"/><circle class="r" cx="344" cy="258.4"/><circle cx="356.7" cy="241.3"/><circle cx="369.4" cy="215.8"/><circle cx="350.3" cy="252"/><circle cx="340.8" cy="222.2"/><circle cx="369.4" cy="224.3"/><circle cx="347.1" cy="258.4"/><circle cx="345.6" cy="224.3"/><circle cx="388.5" cy="211.6"/><circle class="r" cx="401.2" cy="203.1"/><circle cx="359.9" cy="258.4"/><circle cx="353.5" cy="243.5"/><circle cx="366.2" cy="241.3"/><circle cx="356.7" cy="245.6"/><circle cx="339.2" cy="232.8"/><circle cx="353.5" cy="245.6"/><circle cx="350.3" cy="220.1"/><circle cx="351.9" cy="243.5"/><circle cx="345.6" cy="256.2"/><circle cx="361.4" cy="252"/><circle cx="351.9" cy="235"/><circle cx="347.1" cy="243.5"/><circle cx="350.3" cy="245.6"/><circle cx="351.9" cy="220.1"/><circle cx="342.4" cy="228.6"/><circle cx="361.4" cy="237.1"/><circle cx="347.1" cy="224.3"/><circle cx="374.2" cy="239.2"/><circle cx="358.3" cy="224.3"/><circle cx="350.3" cy="207.3"/><circle cx="345.6" cy="249.8"/><circle cx="337.6" cy="258.4"/><circle cx="361.4" cy="256.2"/><circle cx="348.7" cy="211.6"/><circle cx="366.2" cy="247.7"/><circle cx="342.4" cy="254.1"/><circle cx="347.1" cy="264.7"/><circle cx="350.3" cy="230.7"/><circle cx="353.5" cy="252"/><circle cx="353.5" cy="254.1"/><circle cx="366.2" cy="245.6"/><circle cx="351.9" cy="228.6"/><circle cx="340.8" cy="241.3"/><circle cx="340.8" cy="228.6"/><circle cx="367.8" cy="243.5"/><circle cx="342.4" cy="264.7"/><circle cx="340.8" cy="237.1"/><circle cx="340.8" cy="245.6"/><circle cx="347.1" cy="237.1"/><circle cx="367.8" cy="235"/><circle cx="366.2" cy="243.5"/><circle cx="339.2" cy="260.5"/><circle cx="344" cy="252"/><circle cx="351.9" cy="245.6"/><circle cx="371" cy="215.8"/><circle cx="369.4" cy="232.8"/><circle cx="351.9" cy="241.3"/><circle cx="345.6" cy="247.7"/><circle cx="342.4" cy="245.6"/><circle cx="340.8" cy="235"/><circle class="r" cx="353.5" cy="258.4"/><circle cx="375.8" cy="237.1"/><circle cx="347.1" cy="254.1"/><circle cx="356.7" cy="260.5"/><circle cx="344" cy="237.1"/><circle cx="337.6" cy="279.6"/><circle cx="367.8" cy="247.7"/><circle cx="347.1" cy="252"/><circle cx="353.5" cy="239.2"/><circle cx="342.4" cy="258.4"/><circle cx="390.1" cy="213.7"/><circle cx="344" cy="249.8"/><circle cx="345.6" cy="235"/><circle cx="337.6" cy="275.4"/><circle class="r" cx="358.3" cy="258.4"/><circle cx="369.4" cy="235"/><circle cx="347.1" cy="245.6"/><circle class="r" cx="342.4" cy="232.8"/><circle cx="340.8" cy="262.6"/><circle cx="378.9" cy="232.8"/><circle cx="337.6" cy="283.9"/><circle cx="345.6" cy="241.3"/><circle cx="359.9" cy="256.2"/><circle cx="348.7" cy="243.5"/><circle class="r" cx="339.2" cy="256.2"/><circle cx="375.8" cy="232.8"/><circle cx="342.4" cy="262.6"/><circle cx="351.9" cy="260.5"/><circle cx="371" cy="226.5"/><circle cx="359.9" cy="241.3"/><circle cx="372.6" cy="241.3"/><circle cx="366.2" cy="249.8"/><circle cx="345.6" cy="254.1"/><circle cx="350.3" cy="258.4"/><circle cx="377.4" cy="222.2"/><circle cx="340.8" cy="249.8"/><circle cx="342.4" cy="247.7"/><circle cx="377.4" cy="235"/><circle cx="337.6" cy="281.7"/><circle cx="345.6" cy="260.5"/><circle cx="375.8" cy="220.1"/><circle class="r" cx="345.6" cy="237.1"/><circle cx="359.9" cy="254.1"/><circle cx="345.6" cy="264.7"/><circle cx="371" cy="235"/><circle class="r" cx="337.6" cy="286"/><circle cx="374.2" cy="232.8"/><circle cx="355.1" cy="239.2"/><circle cx="363" cy="222.2"/><circle cx="358.3" cy="241.3"/><circle cx="345.6" cy="226.5"/><circle class="r" cx="348.7" cy="245.6"/><circle cx="348.7" cy="258.4"/><circle cx="353.5" cy="241.3"/><circle cx="340.8" cy="232.8"/><circle cx="348.7" cy="273.2"/><circle cx="350.3" cy="232.8"/><circle cx="339.2" cy="252"/><circle cx="342.4" cy="243.5"/><circle cx="351.9" cy="252"/><circle cx="351.9" cy="264.7"/><circle cx="390.1" cy="209.5"/><circle cx="353.5" cy="249.8"/><circle cx="345.6" cy="262.6"/><circle cx="369.4" cy="226.5"/><circle cx="339.2" cy="245.6"/><circle cx="369.4" cy="245.6"/><circle cx="364.6" cy="252"/><circle cx="342.4" cy="269"/><circle class="r" cx="372.6" cy="237.1"/><circle cx="344" cy="254.1"/><circle cx="342.4" cy="260.5"/><circle cx="350.3" cy="235"/><circle cx="344" cy="269"/><circle cx="363" cy="249.8"/><circle cx="355.1" cy="209.5"/><circle cx="339.2" cy="258.4"/><circle cx="380.5" cy="218"/><circle cx="344" cy="239.2"/><circle cx="344" cy="232.8"/><circle cx="361.4" cy="224.3"/><circle cx="351.9" cy="262.6"/><circle cx="366.2" cy="228.6"/><circle cx="348.7" cy="239.2"/><circle cx="386.9" cy="222.2"/><circle cx="355.1" cy="262.6"/><circle cx="337.6" cy="288.1"/><circle cx="345.6" cy="243.5"/><circle cx="350.3" cy="262.6"/><circle cx="351.9" cy="239.2"/><circle cx="342.4" cy="273.2"/><circle cx="345.6" cy="218"/><circle cx="383.7" cy="226.5"/><circle cx="340.8" cy="239.2"/><circle cx="358.3" cy="252"/><circle cx="361.4" cy="245.6"/><circle cx="358.3" cy="228.6"/><circle cx="355.1" cy="260.5"/><circle cx="347.1" cy="222.2"/><circle cx="337.6" cy="254.1"/><circle cx="339.2" cy="266.9"/><circle cx="340.8" cy="256.2"/><circle cx="361.4" cy="247.7"/><circle cx="369.4" cy="239.2"/><circle cx="340.8" cy="266.9"/><circle cx="371" cy="243.5"/><circle cx="372.6" cy="239.2"/><circle cx="359.9" cy="228.6"/><circle cx="390.1" cy="218"/><circle cx="353.5" cy="256.2"/><circle cx="344" cy="271.1"/><circle cx="355.1" cy="264.7"/><circle cx="345.6" cy="252"/><circle cx="348.7" cy="252"/><circle cx="350.3" cy="237.1"/><circle cx="356.7" cy="262.6"/><circle cx="356.7" cy="256.2"/><circle cx="339.2" cy="275.4"/><circle cx="347.1" cy="271.1"/><circle cx="344" cy="266.9"/><circle cx="342.4" cy="266.9"/><circle cx="344" cy="241.3"/><circle cx="339.2" cy="269"/><circle cx="344" cy="279.6"/><circle cx="340.8" cy="271.1"/><circle cx="339.2" cy="286"/><circle cx="345.6" cy="239.2"/><circle class="r" cx="345.6" cy="277.5"/><circle cx="355.1" cy="254.1"/><circle cx="339.2" cy="279.6"/><circle cx="339.2" cy="277.5"/><circle cx="344" cy="262.6"/><circle cx="340.8" cy="277.5"/><circle cx="351.9" cy="269"/><circle cx="345.6" cy="266.9"/><circle cx="348.7" cy="262.6"/><circle cx="345.6" cy="271.1"/><circle cx="350.3" cy="271.1"/><circle cx="388.5" cy="220.1"/><circle cx="363" cy="254.1"/><circle class="r" cx="358.3" cy="256.2"/><circle cx="350.3" cy="264.7"/><circle class="r" cx="340.8" cy="252"/><circle cx="339.2" cy="243.5"/><circle cx="353.5" cy="220.1"/><circle cx="337.6" cy="271.1"/><circle cx="340.8" cy="279.6"/><circle class="r" cx="345.6" cy="275.4"/><circle class="r" cx="339.2" cy="273.2"/><circle cx="378.9" cy="224.3"/><circle cx="358.3" cy="260.5"/><circle cx="367.8" cy="226.5"/><circle cx="353.5" cy="260.5"/><circle cx="342.4" cy="281.7"/><circle cx="345.6" cy="258.4"/><circle cx="369.4" cy="237.1"/><circle cx="350.3" cy="266.9"/><circle cx="369.4" cy="241.3"/><circle cx="339.2" cy="281.7"/><circle cx="345.6" cy="273.2"/><circle cx="351.9" cy="266.9"/><circle cx="355.1" cy="256.2"/><circle cx="372.6" cy="232.8"/><circle cx="353.5" cy="266.9"/><circle cx="347.1" cy="266.9"/><circle cx="375.8" cy="235"/><circle cx="375.8" cy="222.2"/><circle cx="342.4" cy="271.1"/><circle cx="340.8" cy="283.9"/><circle cx="350.3" cy="256.2"/><circle class="r" cx="340.8" cy="275.4"/><circle cx="342.4" cy="277.5"/><circle cx="350.3" cy="254.1"/><circle cx="348.7" cy="266.9"/><circle cx="344" cy="275.4"/><circle cx="386.9" cy="215.8"/><circle cx="342.4" cy="275.4"/><circle cx="348.7" cy="269"/><circle cx="347.1" cy="275.4"/><circle cx="345.6" cy="269"/>
<rect x="420" y="198.8" width="89.9" height="93.5" fill="#E5E5E5"/>
<path class="g" d="M434.9 198.8v93.5M471.1 198.8v93.5M507.4 198.8v93.5M420 288.1h89.9M420 266.9h89.9M420 245.6h89.9M420 224.3h89.9M420 203.1h89.9"/>
<path class="k" d="M434.9 292.4v2M471.1 292.4v2M507.4 292.4v2M420 288.1h-2M420 266.9h-2M420 245.6h-2M420 224.3h-2M420 203.1h-2"/>
<circle class="r" cx="438.5" cy="256.2"/><circle class="r" cx="496.5" cy="215.8"/><circle class="r" cx="467.5" cy="230.7"/><circle class="r" cx="434.9" cy="228.6"/><circle class="r" cx="456.6" cy="269"/><circle class="r" cx="463.9" cy="232.8"/><circle class="r" cx="463.9" cy="203.1"/><circle class="r" cx="485.6" cy="258.4"/><circle class="r" cx="434.9" cy="209.5"/><circle cx="482" cy="247.7"/><circle cx="485.6" cy="247.7"/><circle cx="442.1" cy="218"/><circle cx="460.3" cy="211.6"/><circle cx="456.6" cy="273.2"/><circle cx="463.9" cy="226.5"/><circle cx="453" cy="249.8"/><circle cx="456.6" cy="230.7"/><circle cx="467.5" cy="252"/><circle cx="463.9" cy="215.8"/><circle cx="467.5" cy="243.5"/><circle cx="474.8" cy="239.2"/><circle cx="482" cy="241.3"/><circle cx="445.8" cy="243.5"/><circle cx="449.4" cy="243.5"/><circle cx="478.4" cy="258.4"/><circle cx="478.4" cy="256.2"/><circle cx="482" cy="249.8"/><circle cx="474.8" cy="252"/><circle cx="467.5" cy="211.6"/><circle cx="474.8" cy="258.4"/><circle cx="442.1" cy="230.7"/><circle cx="485.6" cy="232.8"/><circle class="r" cx="438.5" cy="254.1"/><circle cx="463.9" cy="209.5"/><circle cx="478.4" cy="262.6"/><circle cx="467.5" cy="224.3"/><circle cx="445.8" cy="235"/><circle cx="438.5" cy="283.9"/><circle cx="485.6" cy="243.5"/><circle cx="442.1" cy="213.7"/><circle cx="471.1" cy="211.6"/><circle cx="474.8" cy="247.7"/><circle cx="474.8" cy="245.6"/><circle cx="456.6" cy="271.1"/><circle cx="434.9" cy="213.7"/><circle cx="449.4" cy="264.7"/><circle cx="453" cy="273.2"/><circle cx="434.9" cy="220.1"/><circle cx="474.8" cy="228.6"/><circle cx="438.5" cy="247.7"/><circle cx="434.9" cy="245.6"/><circle cx="449.4" cy="260.5"/><circle cx="471.1" cy="243.5"/><circle cx="478.4" cy="230.7"/><circle cx="463.9" cy="211.6"/><circle cx="485.6" cy="237.1"/><circle cx="478.4" cy="249.8"/><circle cx="442.1" cy="247.7"/><circle cx="453" cy="262.6"/><circle cx="474.8" cy="262.6"/><circle cx="474.8" cy="230.7"/><circle cx="456.6" cy="241.3"/><circle cx="442.1" cy="222.2"/><circle cx="453" cy="258.4"/><circle cx="453" cy="264.7"/><circle cx="489.3" cy="247.7"/><circle cx="471.1" cy="241.3"/><circle cx="467.5" cy="254.1"/><circle cx="445.8" cy="237.1"/><circle cx="482" cy="211.6"/><circle class="r" cx="456.6" cy="203.1"/><circle cx="445.8" cy="256.2"/><circle cx="496.5" cy="252"/><circle cx="463.9" cy="243.5"/><circle cx="478.4" cy="245.6"/><circle cx="474.8" cy="264.7"/><circle cx="434.9" cy="232.8"/><circle cx="460.3" cy="254.1"/><circle cx="449.4" cy="256.2"/><circle cx="463.9" cy="252"/><circle cx="456.6" cy="258.4"/><circle cx="460.3" cy="220.1"/><circle class="r" cx="489.3" cy="256.2"/><circle cx="442.1" cy="224.3"/><circle class="r" cx="463.9" cy="249.8"/><circle class="r" cx="453" cy="271.1"/><circle cx="478.4" cy="239.2"/><circle cx="471.1" cy="224.3"/><circle cx="460.3" cy="207.3"/><circle cx="449.4" cy="249.8"/><circle cx="467.5" cy="269"/><circle cx="445.8" cy="211.6"/><circle cx="467.5" cy="247.7"/><circle cx="463.9" cy="230.7"/><circle cx="463.9" cy="245.6"/><circle cx="434.9" cy="249.8"/><circle cx="453" cy="277.5"/><circle cx="442.1" cy="241.3"/><circle cx="467.5" cy="245.6"/><circle cx="442.1" cy="228.6"/><circle cx="434.9" cy="237.1"/><circle cx="467.5" cy="220.1"/><circle cx="496.5" cy="235"/><circle cx="474.8" cy="243.5"/><circle cx="434.9" cy="260.5"/><circle cx="478.4" cy="215.8"/><circle cx="482" cy="252"/><circle cx="478.4" cy="232.8"/><circle cx="449.4" cy="247.7"/><circle cx="442.1" cy="245.6"/><circle cx="442.1" cy="235"/><circle class="r" cx="463.9" cy="258.4"/><circle cx="489.3" cy="237.1"/><circle cx="445.8" cy="254.1"/><circle cx="434.9" cy="252"/><circle cx="460.3" cy="247.7"/><circle cx="445.8" cy="239.2"/><circle cx="445.8" cy="258.4"/><circle cx="478.4" cy="213.7"/><circle cx="474.8" cy="256.2"/><circle cx="449.4" cy="235"/><circle cx="445.8" cy="262.6"/><circle cx="449.4" cy="245.6"/><circle cx="482" cy="260.5"/><circle cx="438.5" cy="273.2"/><circle cx="456.6" cy="266.9"/><circle cx="438.5" cy="271.1"/><circle cx="445.8" cy="241.3"/><circle cx="442.1" cy="262.6"/><circle cx="460.3" cy="243.5"/><circle class="r" cx="434.9" cy="256.2"/><circle cx="467.5" cy="232.8"/><circle cx="463.9" cy="260.5"/><circle cx="434.9" cy="264.7"/><circle cx="474.8" cy="241.3"/><circle cx="496.5" cy="241.3"/><circle cx="445.8" cy="249.8"/><circle class="r" cx="442.1" cy="220.1"/><circle cx="463.9" cy="264.7"/><circle cx="460.3" cy="222.2"/><circle cx="442.1" cy="249.8"/><circle cx="434.9" cy="247.7"/><circle cx="467.5" cy="235"/><circle cx="453" cy="260.5"/><circle cx="467.5" cy="264.7"/><circle cx="438.5" cy="279.6"/><circle cx="445.8" cy="281.7"/><circle cx="442.1" cy="254.1"/><circle cx="445.8" cy="260.5"/><circle cx="449.4" cy="269"/><circle cx="442.1" cy="264.7"/><circle cx="482" cy="235"/><circle cx="460.3" cy="273.2"/><circle class="r" cx="445.8" cy="279.6"/><circle cx="449.4" cy="241.3"/><circle cx="449.4" cy="273.2"/><circle cx="467.5" cy="222.2"/><circle cx="449.4" cy="226.5"/><circle class="r" cx="460.3" cy="245.6"/><circle cx="460.3" cy="258.4"/><circle cx="467.5" cy="241.3"/><circle cx="453" cy="275.4"/><circle cx="460.3" cy="232.8"/><circle cx="438.5" cy="252"/><circle cx="438.5" cy="264.7"/><circle cx="460.3" cy="241.3"/><circle cx="471.1" cy="218"/><circle cx="478.4" cy="237.1"/><circle cx="471.1" cy="249.8"/><circle cx="467.5" cy="226.5"/><circle cx="438.5" cy="245.6"/><circle cx="485.6" cy="245.6"/><circle cx="460.3" cy="252"/><circle cx="482" cy="256.2"/><circle cx="449.4" cy="254.1"/><circle cx="442.1" cy="260.5"/><circle cx="456.6" cy="235"/><circle cx="460.3" cy="249.8"/><circle cx="460.3" cy="209.5"/><circle cx="453" cy="266.9"/><circle cx="434.9" cy="258.4"/><circle cx="478.4" cy="218"/><circle cx="467.5" cy="256.2"/><circle cx="442.1" cy="232.8"/><circle cx="460.3" cy="224.3"/><circle cx="434.9" cy="262.6"/><circle cx="463.9" cy="228.6"/><circle cx="460.3" cy="239.2"/><circle cx="438.5" cy="269"/><circle cx="449.4" cy="279.6"/><circle cx="482" cy="222.2"/><circle cx="467.5" cy="262.6"/><circle cx="434.9" cy="288.1"/><circle cx="442.1" cy="243.5"/><circle cx="445.8" cy="273.2"/><circle cx="434.9" cy="218"/><circle cx="460.3" cy="226.5"/><circle cx="442.1" cy="283.9"/><circle cx="434.9" cy="239.2"/><circle cx="471.1" cy="252"/><circle cx="482" cy="245.6"/><circle cx="467.5" cy="228.6"/><circle cx="460.3" cy="260.5"/><circle cx="445.8" cy="222.2"/><circle cx="434.9" cy="254.1"/><circle cx="438.5" cy="266.9"/><circle cx="442.1" cy="256.2"/><circle cx="434.9" cy="286"/><circle cx="463.9" cy="247.7"/><circle cx="463.9" cy="239.2"/><circle cx="456.6" cy="275.4"/><circle cx="456.6" cy="243.5"/><circle cx="471.1" cy="239.2"/><circle cx="460.3" cy="228.6"/><circle cx="460.3" cy="218"/><circle cx="456.6" cy="256.2"/><circle cx="449.4" cy="271.1"/><circle class="r" cx="434.9" cy="281.7"/><circle cx="471.1" cy="266.9"/><circle cx="460.3" cy="264.7"/><circle cx="449.4" cy="252"/><circle cx="445.8" cy="252"/><circle cx="442.1" cy="237.1"/><circle cx="463.9" cy="262.6"/><circle cx="460.3" cy="256.2"/><circle cx="445.8" cy="269"/><circle cx="438.5" cy="275.4"/><circle cx="453" cy="239.2"/><circle cx="463.9" cy="271.1"/><circle cx="442.1" cy="266.9"/><circle cx="434.9" cy="241.3"/><circle cx="442.1" cy="271.1"/><circle cx="463.9" cy="237.1"/><circle cx="434.9" cy="277.5"/><circle cx="438.5" cy="286"/><circle cx="442.1" cy="239.2"/><circle class="r" cx="449.4" cy="277.5"/><circle cx="474.8" cy="254.1"/><circle cx="434.9" cy="279.6"/><circle cx="438.5" cy="277.5"/><circle cx="449.4" cy="262.6"/><circle cx="434.9" cy="266.9"/><circle cx="442.1" cy="277.5"/><circle cx="463.9" cy="269"/><circle cx="449.4" cy="266.9"/><circle cx="460.3" cy="262.6"/><circle cx="445.8" cy="271.1"/><circle cx="460.3" cy="271.1"/><circle cx="474.8" cy="220.1"/><circle cx="478.4" cy="254.1"/><circle cx="456.6" cy="264.7"/><circle class="r" cx="442.1" cy="252"/><circle cx="434.9" cy="243.5"/><circle cx="463.9" cy="220.1"/><circle cx="442.1" cy="279.6"/><circle class="r" cx="434.9" cy="273.2"/><circle cx="463.9" cy="224.3"/><circle cx="474.8" cy="260.5"/><circle cx="471.1" cy="226.5"/><circle cx="467.5" cy="260.5"/><circle cx="442.1" cy="281.7"/><circle cx="442.1" cy="258.4"/><circle cx="460.3" cy="237.1"/><circle cx="463.9" cy="241.3"/><circle cx="438.5" cy="281.7"/><circle cx="442.1" cy="273.2"/><circle cx="445.8" cy="275.4"/><circle cx="467.5" cy="266.9"/><circle cx="482" cy="232.8"/><circle cx="463.9" cy="266.9"/><circle cx="445.8" cy="266.9"/><circle cx="460.3" cy="235"/><circle cx="478.4" cy="222.2"/><circle cx="434.9" cy="271.1"/><circle cx="434.9" cy="269"/><circle cx="434.9" cy="283.9"/><circle cx="463.9" cy="256.2"/><circle class="r" cx="442.1" cy="275.4"/><circle cx="445.8" cy="277.5"/><circle cx="463.9" cy="254.1"/><circle cx="460.3" cy="266.9"/><circle cx="460.3" cy="269"/><circle cx="449.4" cy="275.4"/><circle cx="460.3" cy="215.8"/><circle cx="442.1" cy="269"/><circle cx="434.9" cy="275.4"/><circle cx="453" cy="269"/>
<rect x="37.6" y="297.2" width="89.9" height="93.5" fill="#E5E5E5"/>
<path class="g" d="M49.6 297.2v93.5M81.2 297.2v93.5M112.8 297.2v93.5M37.6 386.5h89.9M37.6 365.2h89.9M37.6 344h89.9M37.6 322.7h89.9M37.6 301.4h89.9"/>
<path class="k" d="M49.6 390.7v2M81.2 390.7v2M112.8 390.7v2M37.6 386.5h-2M37.6 365.2h-2M37.6 344h-2M37.6 322.7h-2M37.6 301.4h-2"/>
<circle class="r" cx="89.3" cy="324.8"/><circle class="r" cx="81.1" cy="384.4"/><circle class="r" cx="53.5" cy="380.1"/><circle class="r" cx="109.7" cy="331.2"/><circle class="r" cx="97.1" cy="384.4"/><circle class="r" cx="75.7" cy="386.5"/><circle class="r" cx="110.6" cy="331.2"/><circle class="r" cx="111.2" cy="320.6"/><circle class="r" cx="58.5" cy="356.7"/><circle class="r" cx="89.5" cy="341.8"/><circle class="r" cx="91.1" cy="384.4"/><circle cx="66.3" cy="354.6"/><circle cx="76.4" cy="348.2"/><circle cx="102.5" cy="352.5"/><circle cx="90.3" cy="365.2"/><circle cx="58.9" cy="354.6"/><circle cx="70.5" cy="363.1"/><circle cx="89.5" cy="339.7"/><circle cx="111.6" cy="354.6"/><circle cx="107" cy="352.5"/><circle cx="93" cy="375.8"/><circle cx="78.9" cy="350.3"/><circle cx="70" cy="344"/><circle cx="102.7" cy="344"/><circle cx="111.8" cy="380.1"/><circle cx="70.8" cy="386.5"/><circle cx="86.9" cy="369.5"/><circle class="r" cx="53.2" cy="348.2"/><circle cx="75.6" cy="386.5"/><circle cx="87" cy="371.6"/><circle cx="83.3" cy="344"/><circle cx="72.1" cy="346.1"/><circle cx="72.3" cy="361"/><circle cx="93.3" cy="380.1"/><circle cx="86.4" cy="331.2"/><circle cx="107.7" cy="341.8"/><circle cx="64.7" cy="356.7"/><circle cx="79.3" cy="333.3"/><circle cx="101.2" cy="341.8"/><circle class="r" cx="62.8" cy="386.5"/><circle cx="59.7" cy="358.8"/><circle cx="94" cy="384.4"/><circle cx="96.3" cy="318.4"/><circle cx="66.4" cy="344"/><circle cx="102.8" cy="341.8"/><circle cx="74.4" cy="358.8"/><circle cx="78.7" cy="354.6"/><circle cx="91.4" cy="348.2"/><circle cx="64.9" cy="386.5"/><circle cx="68.3" cy="348.2"/><circle class="r" cx="84.5" cy="361"/><circle cx="112.1" cy="344"/><circle cx="101.2" cy="365.2"/><circle cx="94.5" cy="346.1"/><circle cx="104.5" cy="380.1"/><circle cx="80.8" cy="358.8"/><circle cx="103" cy="367.3"/><circle cx="87" cy="348.2"/><circle cx="84.6" cy="322.7"/><circle cx="95.5" cy="354.6"/><circle cx="63.8" cy="356.7"/><circle cx="107.6" cy="356.7"/><circle cx="108.6" cy="350.3"/><circle cx="111.1" cy="348.2"/><circle cx="97.5" cy="344"/><circle cx="79.5" cy="361"/><circle cx="81" cy="373.7"/><circle cx="99" cy="341.8"/><circle cx="66.7" cy="352.5"/><circle class="r" cx="86.3" cy="384.4"/><circle cx="110.5" cy="307.8"/><circle cx="60.5" cy="354.6"/><circle cx="109.8" cy="335.5"/><circle cx="77.6" cy="350.3"/><circle cx="87.6" cy="344"/><circle cx="89.2" cy="356.7"/><circle cx="103.8" cy="384.4"/><circle cx="84.7" cy="356.7"/><circle cx="99.8" cy="335.5"/><circle cx="91.2" cy="333.3"/><circle cx="109.9" cy="380.1"/><circle cx="83.9" cy="358.8"/><circle class="r" cx="60.9" cy="363.1"/><circle cx="62.1" cy="386.5"/><circle cx="77.8" cy="373.7"/><circle cx="93.4" cy="365.2"/><circle cx="86.6" cy="382.2"/><circle cx="64.5" cy="386.5"/><circle cx="91.8" cy="375.8"/><circle cx="65.2" cy="361"/><circle cx="103" cy="341.8"/><circle cx="91.1" cy="380.1"/><circle cx="53.1" cy="386.5"/><circle cx="88.2" cy="348.2"/><circle cx="72.6" cy="371.6"/><circle cx="110.9" cy="356.7"/><circle cx="79.6" cy="354.6"/><circle cx="108.2" cy="361"/><circle cx="83.4" cy="384.4"/><circle class="r" cx="74.5" cy="361"/><circle cx="72.5" cy="386.5"/><circle cx="59.5" cy="344"/><circle cx="77" cy="344"/><circle cx="91.1" cy="350.3"/><circle cx="96.3" cy="324.8"/><circle cx="94.5" cy="380.1"/><circle cx="57.4" cy="358.8"/><circle cx="53.1" cy="384.4"/><circle cx="78.6" cy="344"/><circle cx="109.3" cy="382.2"/><circle cx="62" cy="344"/><circle cx="107.9" cy="382.2"/><circle cx="103.6" cy="380.1"/><circle cx="103" cy="329.1"/><circle cx="95.8" cy="346.1"/><circle cx="91.4" cy="358.8"/><circle cx="99.1" cy="384.4"/><circle class="r" cx="81.3" cy="350.3"/><circle cx="91.4" cy="344"/><circle cx="68.6" cy="354.6"/><circle cx="81.4" cy="341.8"/><circle cx="67.4" cy="361"/><circle cx="93.7" cy="352.5"/><circle cx="67.4" cy="386.5"/><circle cx="81.9" cy="354.6"/><circle cx="111.6" cy="369.5"/><circle cx="53.3" cy="384.4"/><circle cx="66" cy="358.8"/><circle cx="95.1" cy="341.8"/><circle cx="86" cy="375.8"/><circle cx="55.8" cy="373.7"/><circle cx="73.1" cy="367.3"/><circle cx="94.8" cy="339.7"/><circle cx="78.1" cy="363.1"/><circle cx="74.3" cy="352.5"/><circle cx="67.7" cy="352.5"/><circle cx="53.1" cy="365.2"/><circle cx="88.4" cy="373.7"/><circle cx="106" cy="358.8"/><circle cx="60.9" cy="358.8"/><circle cx="81.4" cy="363.1"/><circle cx="52.9" cy="375.8"/><circle cx="112.6" cy="341.8"/><circle cx="68.5" cy="316.3"/><circle cx="69.6" cy="356.7"/><circle cx="86.3" cy="344"/><circle class="r" cx="54.8" cy="369.5"/><circle class="r" cx="73.5" cy="378"/><circle cx="99.4" cy="361"/><circle cx="100.1" cy="382.2"/><circle cx="101.7" cy="344"/><circle cx="84.2" cy="371.6"/><circle cx="78.2" cy="346.1"/><circle cx="74.6" cy="339.7"/><circle cx="62.6" cy="350.3"/><circle cx="112.5" cy="373.7"/><circle cx="101" cy="375.8"/><circle cx="75.9" cy="367.3"/><circle cx="108.3" cy="318.4"/><circle class="r" cx="82.1" cy="301.4"/><circle cx="76.9" cy="378"/><circle cx="85.5" cy="371.6"/><circle cx="54.5" cy="356.7"/><circle cx="53.5" cy="386.5"/><circle cx="55.7" cy="363.1"/><circle cx="69.7" cy="350.3"/><circle class="r" cx="80.7" cy="356.7"/><circle cx="99.4" cy="365.2"/><circle cx="71.5" cy="378"/><circle cx="57.5" cy="361"/><circle cx="71" cy="378"/><circle cx="109.5" cy="341.8"/><circle cx="103.1" cy="369.5"/><circle cx="71" cy="344"/><circle cx="54.9" cy="352.5"/><circle cx="86.2" cy="363.1"/><circle cx="75.3" cy="358.8"/><circle cx="80.3" cy="346.1"/><circle cx="60.1" cy="354.6"/><circle cx="65.1" cy="363.1"/><circle cx="77.9" cy="365.2"/><circle cx="99.1" cy="367.3"/><circle cx="86" cy="380.1"/><circle cx="53.3" cy="375.8"/><circle cx="112.2" cy="373.7"/><circle cx="94.4" cy="367.3"/><circle cx="96.4" cy="380.1"/><circle cx="74.6" cy="346.1"/><circle class="r" cx="56" cy="354.6"/><circle cx="85.7" cy="365.2"/><circle cx="112.6" cy="354.6"/><circle cx="69.3" cy="352.5"/><circle cx="82.1" cy="373.7"/><circle cx="71.9" cy="367.3"/><circle cx="100.4" cy="337.6"/><circle cx="109.1" cy="358.8"/><circle cx="105.7" cy="369.5"/><circle cx="105.9" cy="365.2"/><circle cx="69.2" cy="386.5"/><circle cx="72.2" cy="380.1"/><circle cx="75.3" cy="354.6"/><circle cx="83.7" cy="375.8"/><circle cx="76.6" cy="380.1"/><circle cx="98.4" cy="371.6"/><circle cx="57.2" cy="348.2"/><circle cx="112.3" cy="371.6"/><circle cx="81.4" cy="367.3"/><circle cx="107.1" cy="369.5"/><circle cx="78.8" cy="365.2"/><circle cx="67" cy="348.2"/><circle cx="71.2" cy="354.6"/><circle cx="103.8" cy="367.3"/><circle cx="110" cy="382.2"/><circle cx="86.4" cy="382.2"/><circle cx="111.5" cy="346.1"/><circle cx="73.4" cy="380.1"/><circle cx="75.4" cy="384.4"/><circle cx="53.6" cy="365.2"/><circle cx="110.8" cy="382.2"/><circle cx="79.2" cy="369.5"/><circle cx="94.5" cy="373.7"/><circle class="r" cx="76.6" cy="384.4"/><circle cx="54.2" cy="380.1"/><circle cx="95.5" cy="318.4"/><circle cx="57.8" cy="373.7"/><circle cx="72.6" cy="373.7"/><circle cx="87.4" cy="346.1"/><circle cx="86.4" cy="367.3"/><circle cx="94.3" cy="367.3"/><circle cx="111.3" cy="348.2"/><circle cx="55.4" cy="371.6"/><circle cx="70.4" cy="367.3"/><circle cx="93.1" cy="341.8"/><circle cx="64.7" cy="350.3"/><circle cx="111.2" cy="344"/><circle cx="107.5" cy="367.3"/><circle cx="54.1" cy="363.1"/><circle cx="77.5" cy="380.1"/><circle cx="56.5" cy="371.6"/><circle cx="81.1" cy="382.2"/><circle cx="58.5" cy="346.1"/><circle class="r" cx="82.8" cy="365.2"/><circle cx="84.1" cy="382.2"/><circle cx="105.5" cy="335.5"/><circle cx="70.7" cy="365.2"/><circle cx="72.4" cy="384.4"/><circle cx="75" cy="375.8"/><circle cx="73.7" cy="361"/><circle cx="103.5" cy="378"/><circle class="r" cx="70.5" cy="380.1"/><circle cx="60.8" cy="386.5"/><circle cx="55.1" cy="346.1"/><circle cx="109.6" cy="384.4"/><circle cx="84.8" cy="373.7"/><circle cx="109.6" cy="365.2"/><circle cx="75.8" cy="363.1"/><circle cx="85.5" cy="337.6"/><circle cx="61" cy="361"/><circle cx="110.7" cy="316.3"/><circle cx="83.5" cy="363.1"/><circle cx="80.9" cy="378"/><circle cx="59.9" cy="386.5"/><circle cx="66.7" cy="363.1"/><circle cx="105.2" cy="375.8"/><circle cx="58.3" cy="386.5"/><circle class="r" cx="78" cy="358.8"/><circle cx="86.8" cy="344"/><circle cx="77.6" cy="373.7"/><circle cx="66.4" cy="358.8"/><circle cx="80" cy="365.2"/><circle class="r" cx="111" cy="380.1"/><circle cx="79" cy="361"/><circle cx="75.3" cy="382.2"/><circle cx="111.6" cy="331.2"/><circle cx="56.7" cy="386.5"/><circle cx="99.3" cy="378"/><circle cx="53.2" cy="371.6"/><circle class="r" cx="60.9" cy="361"/><circle cx="107.6" cy="375.8"/><circle cx="87.9" cy="378"/><circle cx="66.9" cy="356.7"/><circle cx="110" cy="371.6"/><circle cx="99.6" cy="344"/><circle cx="79.3" cy="380.1"/><circle class="r" cx="83.7" cy="384.4"/><circle cx="85.2" cy="335.5"/><circle cx="76.7" cy="367.3"/><circle cx="91" cy="341.8"/><circle cx="54.1" cy="371.6"/><circle cx="104.6" cy="356.7"/><circle cx="106.9" cy="339.7"/><circle cx="74.6" cy="373.7"/><circle cx="79.9" cy="375.8"/><circle cx="59.1" cy="371.6"/><circle class="r" cx="97.1" cy="318.4"/><circle cx="53.6" cy="348.2"/><circle cx="67.2" cy="373.7"/><circle cx="72.3" cy="365.2"/><circle cx="100" cy="375.8"/><circle cx="56.8" cy="369.5"/><circle cx="66.4" cy="371.6"/><circle cx="62.9" cy="369.5"/><circle cx="103.1" cy="333.3"/><circle cx="81.1" cy="365.2"/><circle cx="68.8" cy="369.5"/><circle cx="111.3" cy="333.3"/><circle cx="88.5" cy="375.8"/><circle cx="58.4" cy="373.7"/><circle cx="62.5" cy="378"/><circle cx="88.3" cy="335.5"/><circle cx="72.9" cy="369.5"/><circle cx="84.5" cy="367.3"/><circle class="r" cx="88" cy="375.8"/><circle cx="53.3" cy="356.7"/><circle cx="105.3" cy="344"/><circle cx="69" cy="367.3"/><circle cx="99.2" cy="341.8"/><circle cx="58.6" cy="378"/><circle class="r" cx="102.9" cy="384.4"/><circle class="r" cx="53.1" cy="378"/><circle class="r" cx="53.5" cy="386.5"/><circle cx="75" cy="380.1"/><circle cx="98.4" cy="337.6"/><circle cx="85.2" cy="363.1"/><circle cx="90.8" cy="352.5"/><circle cx="102.7" cy="358.8"/><circle cx="59.6" cy="375.8"/><circle cx="77.9" cy="361"/><circle cx="105.8" cy="335.5"/><circle cx="88.4" cy="384.4"/><circle cx="77.8" cy="369.5"/><circle cx="98.8" cy="375.8"/><circle class="r" cx="80.3" cy="371.6"/><circle cx="94.5" cy="365.2"/><circle cx="54.1" cy="365.2"/><circle cx="58.2" cy="375.8"/><circle class="r" cx="54.4" cy="386.5"/><circle cx="97.2" cy="382.2"/><circle cx="53.8" cy="371.6"/><circle cx="56.9" cy="375.8"/><circle cx="110.5" cy="369.5"/><circle cx="99.3" cy="316.3"/><circle cx="97.2" cy="380.1"/><circle cx="64" cy="367.3"/><circle cx="54.9" cy="367.3"/><circle cx="109" cy="344"/><circle cx="93.4" cy="316.3"/><circle cx="69.4" cy="373.7"/><circle cx="112.7" cy="316.3"/><circle cx="111.1" cy="344"/><circle cx="71.7" cy="382.2"/><circle cx="89.3" cy="365.2"/><circle cx="78.3" cy="375.8"/><circle cx="59.9" cy="367.3"/><circle cx="91.7" cy="344"/><circle cx="78" cy="384.4"/><circle cx="71.1" cy="344"/><circle cx="58.7" cy="350.3"/><circle cx="54.7" cy="380.1"/><circle class="r" cx="108.9" cy="339.7"/><circle cx="69.1" cy="358.8"/><circle cx="69.7" cy="371.6"/><circle cx="63.8" cy="382.2"/><circle cx="78.6" cy="378"/><circle cx="70.2" cy="380.1"/><circle cx="85.8" cy="371.6"/><circle cx="111.1" cy="369.5"/><circle cx="60.6" cy="367.3"/><circle cx="63.3" cy="378"/><circle cx="60.9" cy="352.5"/><circle cx="102" cy="363.1"/><circle class="r" cx="71.5" cy="384.4"/><circle cx="74.3" cy="371.6"/><circle cx="70.4" cy="384.4"/><circle cx="66.8" cy="365.2"/><circle cx="91.7" cy="329.1"/><circle cx="67.1" cy="358.8"/><circle class="r" cx="81.6" cy="369.5"/><circle cx="76.1" cy="375.8"/><circle cx="70.1" cy="371.6"/><circle cx="60.6" cy="375.8"/><circle cx="112.3" cy="378"/><circle class="r" cx="72.6" cy="361"/><circle cx="104.8" cy="378"/><circle cx="104" cy="354.6"/><circle cx="112.6" cy="348.2"/><circle cx="109" cy="371.6"/><circle cx="84.6" cy="365.2"/><circle cx="61.2" cy="373.7"/><circle cx="110.5" cy="320.6"/><circle cx="64" cy="363.1"/><circle cx="55.2" cy="386.5"/><circle cx="92.5" cy="375.8"/><circle cx="90.6" cy="369.5"/><circle class="r" cx="69.9" cy="386.5"/><circle cx="56.2" cy="367.3"/><circle cx="107.2" cy="367.3"/><circle cx="66.7" cy="384.4"/><circle cx="64.1" cy="380.1"/><circle cx="61.9" cy="380.1"/><circle cx="55.2" cy="365.2"/><circle cx="83" cy="382.2"/><circle cx="111.6" cy="375.8"/><circle cx="98.1" cy="324.8"/><circle cx="53.1" cy="382.2"/><circle cx="103.7" cy="382.2"/><circle cx="67.7" cy="358.8"/><circle cx="54.3" cy="365.2"/><circle cx="74.7" cy="354.6"/><circle cx="98.5" cy="358.8"/><circle cx="67.2" cy="363.1"/><circle cx="58.9" cy="365.2"/><circle cx="65.8" cy="375.8"/><circle cx="93.1" cy="373.7"/><circle cx="56.2" cy="386.5"/><circle cx="61.8" cy="384.4"/><circle cx="56.9" cy="378"/><circle cx="60.9" cy="375.8"/><circle cx="80.9" cy="375.8"/><circle cx="64.7" cy="384.4"/><circle cx="78.9" cy="382.2"/><circle cx="59.7" cy="380.1"/><circle cx="70" cy="382.2"/><circle cx="65.3" cy="365.2"/><circle cx="83.4" cy="354.6"/><circle cx="68.2" cy="375.8"/><circle cx="77" cy="369.5"/><circle cx="107.1" cy="344"/><circle cx="53.1" cy="373.7"/><circle cx="78.7" cy="382.2"/><circle cx="108.2" cy="341.8"/><circle cx="96.2" cy="339.7"/><circle cx="95.9" cy="356.7"/><circle cx="87.1" cy="316.3"/><circle cx="77" cy="365.2"/><circle cx="84.8" cy="378"/><circle class="r" cx="58.8" cy="384.4"/><circle cx="65.6" cy="369.5"/><circle cx="70" cy="365.2"/><circle cx="57.7" cy="363.1"/><circle cx="83.5" cy="375.8"/><circle cx="100.7" cy="369.5"/><circle cx="59.8" cy="361"/><circle cx="68.2" cy="361"/><circle cx="78" cy="367.3"/><circle cx="56.2" cy="384.4"/><circle class="r" cx="53.6" cy="384.4"/><circle cx="108.5" cy="375.8"/><circle cx="64.6" cy="373.7"/><circle cx="63.4" cy="378"/><circle cx="60" cy="369.5"/><circle cx="82.3" cy="380.1"/><circle class="r" cx="74.6" cy="384.4"/><circle cx="104.6" cy="378"/><circle cx="68.5" cy="384.4"/><circle cx="66.3" cy="384.4"/><circle cx="53.8" cy="378"/><circle cx="55.9" cy="375.8"/><circle cx="67.5" cy="382.2"/><circle cx="98.3" cy="344"/><circle cx="55.6" cy="384.4"/><circle cx="75.2" cy="371.6"/><circle cx="54.7" cy="384.4"/><circle cx="53.8" cy="384.4"/><circle cx="104.1" cy="375.8"/><circle class="r" cx="64.3" cy="375.8"/><circle cx="74.8" cy="365.2"/><circle cx="68.4" cy="363.1"/><circle cx="54.3" cy="384.4"/><circle cx="62.5" cy="384.4"/><circle cx="67.3" cy="378"/><circle cx="62.6" cy="367.3"/><circle cx="61.7" cy="365.2"/><circle cx="76.3" cy="365.2"/><circle cx="81.8" cy="375.8"/><circle cx="76.9" cy="371.6"/><circle cx="76.5" cy="369.5"/><circle cx="70.4" cy="375.8"/><circle cx="74.4" cy="369.5"/><circle cx="103.2" cy="318.4"/><circle cx="60.7" cy="352.5"/><circle cx="72.7" cy="365.2"/><circle class="r" cx="76" cy="358.8"/><circle class="r" cx="63.3" cy="382.2"/><circle cx="69.5" cy="365.2"/><circle cx="111.2" cy="384.4"/><circle cx="111.8" cy="365.2"/><circle cx="59.5" cy="386.5"/><circle cx="56" cy="382.2"/><circle class="r" cx="54" cy="375.8"/><circle class="r" cx="63.6" cy="384.4"/><circle cx="107.2" cy="331.2"/><circle cx="88.2" cy="358.8"/><circle cx="107.8" cy="346.1"/><circle cx="59.2" cy="365.2"/><circle cx="61" cy="380.1"/><circle cx="77.9" cy="375.8"/><circle cx="106.2" cy="344"/><circle cx="64.2" cy="369.5"/><circle cx="107.1" cy="344"/><circle cx="60.3" cy="384.4"/><circle cx="72.8" cy="375.8"/><circle cx="66" cy="380.1"/><circle cx="67.4" cy="367.3"/><circle cx="62.9" cy="363.1"/><circle cx="81.7" cy="339.7"/><circle cx="59.6" cy="371.6"/><circle cx="73" cy="365.2"/><circle cx="62.1" cy="373.7"/><circle cx="94.2" cy="335.5"/><circle cx="95.1" cy="335.5"/><circle cx="87.4" cy="380.1"/><circle cx="71.2" cy="375.8"/><circle cx="59.6" cy="382.2"/><circle cx="71.1" cy="369.5"/><circle class="r" cx="58" cy="382.2"/><circle cx="70" cy="380.1"/><circle cx="69.5" cy="369.5"/><circle cx="65.7" cy="371.6"/><circle cx="67.2" cy="378"/><circle cx="86.5" cy="320.6"/><circle cx="56.8" cy="380.1"/><circle cx="62.5" cy="371.6"/><circle cx="64.3" cy="373.7"/><circle cx="64.8" cy="375.8"/>
<rect x="133.2" y="297.2" width="89.9" height="93.5" fill="#E5E5E5"/>
<path class="g" d="M136.1 297.2v93.5M164.2 297.2v93.5M192.2 297.2v93.5M220.3 297.2v93.5M133.2 386.5h89.9M133.2 365.2h89.9M133.2 344h89.9M133.2 322.7h89.9M133.2 301.4h89.9"/>
<path class="k" d="M136.1 390.7v2M164.2 390.7v2M192.2 390.7v2M220.3 390.7v2M133.2 386.5h-2M133.2 365.2h-2M133.2 344h-2M133.2 322.7h-2M133.2 301.4h-2"/>
<circle class="r" cx="178.2" cy="324.8"/><circle cx="206.3" cy="352.5"/><circle cx="164.2" cy="346.1"/><circle cx="192.2" cy="331.2"/><circle cx="178.2" cy="333.3"/><circle cx="178.2" cy="348.2"/><circle cx="178.2" cy="322.7"/><circle cx="206.3" cy="350.3"/><circle cx="206.3" cy="307.8"/><circle cx="206.3" cy="335.5"/><circle cx="192.2" cy="348.2"/><circle cx="206.3" cy="356.7"/><circle cx="206.3" cy="361"/><circle cx="150.1" cy="344"/><circle cx="192.2" cy="329.1"/><circle class="r" cx="178.2" cy="350.3"/><circle cx="178.2" cy="341.8"/><circle cx="150.1" cy="358.8"/><circle cx="192.2" cy="361"/><circle cx="206.3" cy="318.4"/><circle class="r" cx="178.2" cy="301.4"/><circle class="r" cx="178.2" cy="356.7"/><circle cx="164.2" cy="344"/><circle cx="150.1" cy="352.5"/><circle cx="206.3" cy="373.7"/><circle cx="178.2" cy="346.1"/><circle class="r" cx="150.1" cy="354.6"/><circle cx="206.3" cy="354.6"/><circle cx="178.2" cy="352.5"/><circle cx="206.3" cy="358.8"/><circle cx="192.2" cy="371.6"/><circle cx="164.2" cy="348.2"/><circle cx="206.3" cy="382.2"/><circle cx="192.2" cy="373.7"/><circle cx="192.2" cy="346.1"/><circle cx="192.2" cy="367.3"/><circle cx="164.2" cy="350.3"/><circle cx="150.1" cy="346.1"/><circle class="r" cx="206.3" cy="380.1"/><circle cx="164.2" cy="356.7"/><circle cx="150.1" cy="348.2"/><circle cx="192.2" cy="333.3"/><circle cx="206.3" cy="333.3"/><circle cx="178.2" cy="335.5"/><circle cx="178.2" cy="367.3"/><circle cx="150.1" cy="356.7"/><circle cx="192.2" cy="341.8"/><circle cx="192.2" cy="337.6"/><circle cx="178.2" cy="363.1"/><circle cx="192.2" cy="352.5"/><circle cx="192.2" cy="384.4"/><circle cx="192.2" cy="365.2"/><circle cx="192.2" cy="380.1"/><circle cx="192.2" cy="316.3"/><circle cx="206.3" cy="316.3"/><circle cx="178.2" cy="344"/><circle cx="150.1" cy="350.3"/><circle class="r" cx="206.3" cy="339.7"/><circle cx="206.3" cy="369.5"/><circle cx="192.2" cy="363.1"/><circle cx="178.2" cy="371.6"/><circle cx="178.2" cy="329.1"/><circle cx="206.3" cy="378"/><circle class="r" cx="178.2" cy="361"/><circle cx="192.2" cy="354.6"/><circle cx="206.3" cy="348.2"/><circle cx="206.3" cy="371.6"/><circle cx="206.3" cy="320.6"/><circle cx="150.1" cy="386.5"/><circle class="r" cx="178.2" cy="386.5"/><circle cx="206.3" cy="367.3"/><circle cx="192.2" cy="324.8"/><circle cx="192.2" cy="382.2"/><circle cx="164.2" cy="354.6"/><circle cx="192.2" cy="358.8"/><circle cx="178.2" cy="373.7"/><circle cx="178.2" cy="354.6"/><circle cx="178.2" cy="382.2"/><circle cx="206.3" cy="341.8"/><circle cx="192.2" cy="339.7"/><circle cx="192.2" cy="356.7"/><circle cx="178.2" cy="316.3"/><circle cx="178.2" cy="378"/><circle cx="150.1" cy="363.1"/><circle cx="192.2" cy="369.5"/><circle cx="150.1" cy="361"/><circle cx="164.2" cy="361"/><circle cx="206.3" cy="375.8"/><circle cx="150.1" cy="369.5"/><circle cx="192.2" cy="378"/><circle cx="178.2" cy="384.4"/><circle cx="164.2" cy="384.4"/><circle cx="150.1" cy="378"/><circle cx="192.2" cy="375.8"/><circle cx="150.1" cy="367.3"/><circle cx="192.2" cy="318.4"/><circle cx="164.2" cy="352.5"/><circle class="r" cx="164.2" cy="358.8"/><circle class="r" cx="164.2" cy="382.2"/><circle cx="164.2" cy="365.2"/><circle cx="206.3" cy="384.4"/><circle cx="206.3" cy="365.2"/><circle cx="164.2" cy="386.5"/><circle class="r" cx="150.1" cy="375.8"/><circle cx="206.3" cy="331.2"/><circle cx="178.2" cy="358.8"/><circle cx="206.3" cy="346.1"/><circle cx="150.1" cy="365.2"/><circle cx="192.2" cy="344"/><circle cx="206.3" cy="344"/><circle cx="150.1" cy="384.4"/><circle cx="164.2" cy="367.3"/><circle cx="164.2" cy="363.1"/><circle cx="178.2" cy="339.7"/><circle cx="178.2" cy="365.2"/><circle cx="150.1" cy="373.7"/><circle cx="192.2" cy="335.5"/><circle cx="178.2" cy="380.1"/><circle cx="178.2" cy="375.8"/><circle cx="178.2" cy="369.5"/><circle class="r" cx="150.1" cy="382.2"/><circle cx="164.2" cy="380.1"/><circle cx="164.2" cy="369.5"/><circle cx="164.2" cy="371.6"/><circle cx="164.2" cy="378"/><circle cx="178.2" cy="320.6"/><circle cx="150.1" cy="380.1"/><circle cx="150.1" cy="371.6"/><circle cx="164.2" cy="373.7"/><circle cx="164.2" cy="375.8"/>
<rect x="228.8" y="297.2" width="89.9" height="93.5" fill="#E5E5E5"/>
<path class="g" d="M243.6 297.2v93.5M273.8 297.2v93.5M304 297.2v93.5M228.8 386.5h89.9M228.8 365.2h89.9M228.8 344h89.9M228.8 322.7h89.9M228.8 301.4h89.9"/>
<path class="k" d="M243.6 390.7v2M273.8 390.7v2M304 390.7v2M228.8 386.5h-2M228.8 365.2h-2M228.8 344h-2M228.8 322.7h-2M228.8 301.4h-2"/>
<circle class="r" cx="294.9" cy="324.8"/><circle class="r" cx="284.4" cy="331.2"/><circle class="r" cx="285.9" cy="384.4"/><circle class="r" cx="304" cy="320.6"/><circle class="r" cx="299.5" cy="384.4"/><circle cx="278.3" cy="352.5"/><circle cx="285.9" cy="339.7"/><circle cx="287.4" cy="354.6"/><circle cx="275.3" cy="352.5"/><circle cx="293.4" cy="380.1"/><circle cx="266.2" cy="386.5"/><circle cx="270.8" cy="373.7"/><circle cx="285.9" cy="331.2"/><circle cx="272.3" cy="371.6"/><circle cx="272.3" cy="369.5"/><circle class="r" cx="254.2" cy="386.5"/><circle cx="294.9" cy="318.4"/><circle class="r" cx="275.3" cy="361"/><circle cx="284.4" cy="344"/><circle cx="287.4" cy="365.2"/><circle cx="276.8" cy="346.1"/><circle cx="272.3" cy="378"/><circle cx="298" cy="322.7"/><circle cx="276.8" cy="354.6"/><circle cx="278.3" cy="356.7"/><circle class="r" cx="270.8" cy="386.5"/><circle cx="284.4" cy="350.3"/><circle cx="278.3" cy="348.2"/><circle cx="299.5" cy="307.8"/><circle cx="273.8" cy="350.3"/><circle cx="270.8" cy="356.7"/><circle cx="276.8" cy="384.4"/><circle cx="288.9" cy="333.3"/><circle cx="260.2" cy="384.4"/><circle cx="281.4" cy="365.2"/><circle cx="258.7" cy="386.5"/><circle cx="290.4" cy="375.8"/><circle cx="267.8" cy="361"/><circle cx="291.9" cy="348.2"/><circle cx="298" cy="344"/><circle cx="281.4" cy="356.7"/><circle cx="267.8" cy="371.6"/><circle cx="279.8" cy="361"/><circle cx="296.4" cy="380.1"/><circle cx="273.8" cy="358.8"/><circle cx="291.9" cy="382.2"/><circle cx="279.8" cy="380.1"/><circle cx="285.9" cy="329.1"/><circle cx="272.3" cy="384.4"/><circle cx="270.8" cy="369.5"/><circle class="r" cx="272.3" cy="350.3"/><circle cx="285.9" cy="344"/><circle cx="298" cy="363.1"/><circle cx="279.8" cy="352.5"/><circle cx="263.2" cy="386.5"/><circle cx="279.8" cy="341.8"/><circle class="r" cx="275.3" cy="369.5"/><circle cx="272.3" cy="358.8"/><circle cx="261.7" cy="373.7"/><circle cx="278.3" cy="358.8"/><circle cx="285.9" cy="363.1"/><circle cx="284.4" cy="341.8"/><circle class="r" cx="264.7" cy="378"/><circle cx="276.8" cy="361"/><circle cx="294.9" cy="344"/><circle cx="269.3" cy="369.5"/><circle cx="290.4" cy="382.2"/><circle cx="288.9" cy="344"/><circle cx="264.7" cy="373.7"/><circle cx="288.9" cy="375.8"/><circle cx="298" cy="318.4"/><circle class="r" cx="304" cy="301.4"/><circle cx="264.7" cy="356.7"/><circle cx="275.3" cy="365.2"/><circle cx="276.8" cy="348.2"/><circle cx="273.8" cy="361"/><circle cx="282.9" cy="384.4"/><circle cx="273.8" cy="365.2"/><circle cx="276.8" cy="341.8"/><circle cx="291.9" cy="369.5"/><circle cx="275.3" cy="367.3"/><circle cx="266.2" cy="375.8"/><circle cx="269.3" cy="354.6"/><circle cx="261.7" cy="365.2"/><circle cx="281.4" cy="367.3"/><circle cx="275.3" cy="373.7"/><circle cx="273.8" cy="369.5"/><circle cx="266.2" cy="367.3"/><circle cx="291.9" cy="367.3"/><circle cx="285.9" cy="380.1"/><circle cx="279.8" cy="354.6"/><circle cx="288.9" cy="373.7"/><circle cx="278.3" cy="337.6"/><circle cx="288.9" cy="358.8"/><circle cx="301" cy="369.5"/><circle cx="264.7" cy="386.5"/><circle cx="269.3" cy="380.1"/><circle cx="266.2" cy="354.6"/><circle cx="298" cy="371.6"/><circle cx="272.3" cy="348.2"/><circle cx="267.8" cy="380.1"/><circle cx="260.2" cy="373.7"/><circle cx="284.4" cy="369.5"/><circle cx="267.8" cy="365.2"/><circle cx="273.8" cy="348.2"/><circle cx="285.9" cy="367.3"/><circle cx="276.8" cy="382.2"/><circle cx="285.9" cy="382.2"/><circle cx="275.3" cy="346.1"/><circle cx="279.8" cy="382.2"/><circle cx="273.8" cy="382.2"/><circle cx="279.8" cy="373.7"/><circle cx="281.4" cy="346.1"/><circle cx="275.3" cy="348.2"/><circle cx="263.2" cy="384.4"/><circle cx="269.3" cy="378"/><circle cx="273.8" cy="367.3"/><circle cx="294.9" cy="341.8"/><circle cx="282.9" cy="344"/><circle cx="276.8" cy="367.3"/><circle cx="272.3" cy="375.8"/><circle cx="273.8" cy="380.1"/><circle cx="281.4" cy="382.2"/><circle class="r" cx="264.7" cy="365.2"/><circle cx="279.8" cy="335.5"/><circle cx="267.8" cy="373.7"/><circle cx="263.2" cy="361"/><circle cx="279.8" cy="378"/><circle cx="249.6" cy="386.5"/><circle cx="272.3" cy="346.1"/><circle cx="269.3" cy="373.7"/><circle cx="278.3" cy="365.2"/><circle cx="264.7" cy="380.1"/><circle cx="296.4" cy="316.3"/><circle cx="270.8" cy="378"/><circle cx="281.4" cy="375.8"/><circle cx="252.7" cy="386.5"/><circle class="r" cx="264.7" cy="358.8"/><circle cx="281.4" cy="344"/><circle cx="273.8" cy="373.7"/><circle class="r" cx="282.9" cy="380.1"/><circle cx="261.7" cy="382.2"/><circle cx="282.9" cy="331.2"/><circle cx="246.6" cy="386.5"/><circle cx="276.8" cy="375.8"/><circle cx="266.2" cy="356.7"/><circle cx="275.3" cy="371.6"/><circle class="r" cx="266.2" cy="384.4"/><circle cx="282.9" cy="335.5"/><circle cx="261.7" cy="380.1"/><circle cx="263.2" cy="367.3"/><circle cx="287.4" cy="341.8"/><circle cx="276.8" cy="356.7"/><circle cx="276.8" cy="339.7"/><circle cx="270.8" cy="348.2"/><circle cx="267.8" cy="375.8"/><circle cx="264.7" cy="369.5"/><circle cx="290.4" cy="333.3"/><circle cx="270.8" cy="382.2"/><circle cx="272.3" cy="380.1"/><circle cx="281.4" cy="333.3"/><circle cx="248.1" cy="386.5"/><circle cx="263.2" cy="375.8"/><circle cx="291.9" cy="335.5"/><circle class="r" cx="279.8" cy="375.8"/><circle cx="267.8" cy="356.7"/><circle cx="281.4" cy="341.8"/><circle class="r" cx="245.1" cy="386.5"/><circle cx="282.9" cy="337.6"/><circle cx="278.3" cy="363.1"/><circle cx="290.4" cy="352.5"/><circle cx="276.8" cy="358.8"/><circle cx="287.4" cy="375.8"/><circle class="r" cx="273.8" cy="371.6"/><circle cx="264.7" cy="371.6"/><circle cx="276.8" cy="365.2"/><circle cx="282.9" cy="382.2"/><circle cx="254.2" cy="371.6"/><circle cx="282.9" cy="369.5"/><circle cx="269.3" cy="384.4"/><circle cx="275.3" cy="380.1"/><circle cx="269.3" cy="367.3"/><circle cx="299.5" cy="316.3"/><circle cx="270.8" cy="365.2"/><circle cx="261.7" cy="375.8"/><circle cx="287.4" cy="344"/><circle cx="273.8" cy="384.4"/><circle cx="273.8" cy="344"/><circle cx="269.3" cy="350.3"/><circle class="r" cx="279.8" cy="339.7"/><circle cx="267.8" cy="378"/><circle cx="263.2" cy="380.1"/><circle cx="281.4" cy="369.5"/><circle cx="270.8" cy="352.5"/><circle cx="299.5" cy="363.1"/><circle cx="264.7" cy="384.4"/><circle cx="293.4" cy="329.1"/><circle cx="278.3" cy="378"/><circle cx="282.9" cy="378"/><circle cx="288.9" cy="354.6"/><circle cx="261.7" cy="367.3"/><circle cx="285.9" cy="348.2"/><circle cx="278.3" cy="371.6"/><circle cx="290.4" cy="320.6"/><circle cx="243.6" cy="386.5"/><circle cx="275.3" cy="375.8"/><circle cx="261.7" cy="369.5"/><circle cx="278.3" cy="367.3"/><circle cx="293.4" cy="375.8"/><circle cx="287.4" cy="324.8"/><circle cx="278.3" cy="382.2"/><circle cx="269.3" cy="358.8"/><circle cx="273.8" cy="354.6"/><circle cx="285.9" cy="358.8"/><circle cx="263.2" cy="363.1"/><circle cx="290.4" cy="373.7"/><circle cx="267.8" cy="386.5"/><circle cx="258.7" cy="384.4"/><circle cx="266.2" cy="382.2"/><circle cx="272.3" cy="354.6"/><circle cx="278.3" cy="344"/><circle cx="258.7" cy="382.2"/><circle cx="275.3" cy="341.8"/><circle cx="278.3" cy="339.7"/><circle cx="285.9" cy="356.7"/><circle cx="293.4" cy="316.3"/><circle cx="266.2" cy="365.2"/><circle cx="255.7" cy="378"/><circle cx="260.2" cy="363.1"/><circle cx="269.3" cy="375.8"/><circle cx="269.3" cy="371.6"/><circle cx="279.8" cy="369.5"/><circle cx="261.7" cy="361"/><circle cx="266.2" cy="361"/><circle cx="252.7" cy="384.4"/><circle cx="255.7" cy="373.7"/><circle cx="258.7" cy="378"/><circle cx="258.7" cy="380.1"/><circle cx="276.8" cy="378"/><circle cx="257.2" cy="384.4"/><circle cx="249.6" cy="378"/><circle cx="255.7" cy="382.2"/><circle cx="245.1" cy="384.4"/><circle cx="278.3" cy="375.8"/><circle class="r" cx="251.2" cy="375.8"/><circle cx="267.8" cy="363.1"/><circle cx="249.6" cy="384.4"/><circle cx="251.2" cy="384.4"/><circle cx="261.7" cy="378"/><circle cx="251.2" cy="382.2"/><circle cx="257.2" cy="367.3"/><circle cx="258.7" cy="375.8"/><circle cx="261.7" cy="371.6"/><circle cx="255.7" cy="375.8"/><circle cx="255.7" cy="369.5"/><circle cx="291.9" cy="318.4"/><circle cx="267.8" cy="352.5"/><circle class="r" cx="266.2" cy="358.8"/><circle cx="260.2" cy="369.5"/><circle class="r" cx="269.3" cy="382.2"/><circle cx="275.3" cy="384.4"/><circle cx="291.9" cy="365.2"/><circle cx="255.7" cy="386.5"/><circle cx="249.6" cy="382.2"/><circle class="r" cx="252.7" cy="375.8"/><circle class="r" cx="254.2" cy="384.4"/><circle cx="288.9" cy="331.2"/><circle cx="263.2" cy="358.8"/><circle cx="287.4" cy="346.1"/><circle cx="263.2" cy="365.2"/><circle cx="248.1" cy="380.1"/><circle cx="264.7" cy="375.8"/><circle cx="279.8" cy="344"/><circle cx="258.7" cy="369.5"/><circle cx="276.8" cy="344"/><circle cx="248.1" cy="384.4"/><circle cx="254.2" cy="375.8"/><circle cx="258.7" cy="367.3"/><circle cx="266.2" cy="363.1"/><circle cx="282.9" cy="339.7"/><circle cx="258.7" cy="365.2"/><circle cx="258.7" cy="373.7"/><circle cx="281.4" cy="335.5"/><circle cx="290.4" cy="335.5"/><circle cx="255.7" cy="380.1"/><circle cx="246.6" cy="382.2"/><circle cx="266.2" cy="369.5"/><circle class="r" cx="252.7" cy="382.2"/><circle cx="251.2" cy="380.1"/><circle cx="267.8" cy="369.5"/><circle cx="258.7" cy="371.6"/><circle cx="252.7" cy="378"/><circle cx="294.9" cy="320.6"/><circle cx="252.7" cy="380.1"/><circle cx="257.2" cy="371.6"/><circle cx="252.7" cy="373.7"/><circle cx="257.2" cy="375.8"/>
<rect x="324.4" y="297.2" width="89.9" height="93.5" fill="#E5E5E5"/>
<path class="g" d="M337.6 297.2v93.5M369.4 297.2v93.5M401.2 297.2v93.5M324.4 386.5h89.9M324.4 365.2h89.9M324.4 344h89.9M324.4 322.7h89.9M324.4 301.4h89.9"/>
<path class="k" d="M337.6 390.7v2M369.4 390.7v2M401.2 390.7v2M324.4 386.5h-2M324.4 365.2h-2M324.4 344h-2M324.4 322.7h-2M324.4 301.4h-2"/>
<polygon points="330.6,390.6 330.9,390.6 331.3,390.5 331.7,390.3 332,390.1 332.4,389.8 332.8,389.4 333.1,388.8 333.5,388 333.9,387 334.2,385.6 334.6,383.9 335,381.7 335.3,379.1 335.7,376 336.1,372.4 336.4,368.3 336.8,363.8 337.2,358.9 337.5,353.7 337.9,348.2 338.3,342.7 338.6,337.3 339,332 339.4,327.1 339.7,322.5 340.1,318.4 340.5,314.8 340.8,311.8 341.2,309.2 341.6,307.2 341.9,305.5 342.3,304.2 342.7,303.3 343,302.5 343.4,302 343.8,301.7 344.1,301.6 344.5,301.8 344.9,302.2 345.2,302.9 345.6,304 346,305.3 346.3,306.9 346.7,308.7 347.1,310.7 347.4,312.7 347.8,314.8 348.2,316.8 348.5,318.6 348.9,320.2 349.2,321.6 349.6,322.8 350,323.7 350.3,324.6 350.7,325.4 351.1,326.2 351.4,327.1 351.8,328.2 352.2,329.6 352.5,331.3 352.9,333.4 353.3,335.8 353.6,338.6 354,341.7 354.4,345 354.7,348.4 355.1,351.9 355.5,355.3 355.8,358.5 356.2,361.5 356.6,364.3 356.9,366.7 357.3,368.7 357.7,370.5 358,372 358.4,373.2 358.8,374.2 359.1,375 359.5,375.7 359.9,376.3 360.2,376.9 360.6,377.4 361,377.8 361.3,378.3 361.7,378.7 362.1,379.1 362.4,379.5 362.8,379.8 363.2,380.1 363.5,380.3 363.9,380.5 364.3,380.6 364.6,380.6 365,380.6 365.4,380.4 365.7,380.2 366.1,379.8 366.5,379.5 366.8,379 367.2,378.6 367.6,378.2 367.9,377.8 368.3,377.5 368.7,377.3 369,377.2 369.4,377.3 369.8,377.5 370.1,377.9 370.5,378.4 370.9,379 371.2,379.7 371.6,380.5 372,381.2 372.3,382 372.7,382.7 373.1,383.4 373.4,384 373.8,384.5 374.2,385 374.5,385.4 374.9,385.7 375.3,386 375.6,386.2 376,386.4 376.4,386.6 376.7,386.8 377.1,387 377.5,387.2 377.8,387.4 378.2,387.6 378.6,387.9 378.9,388.1 379.3,388.3 379.7,388.5 380,388.7 380.4,388.9 380.8,389 381.1,389.2 381.5,389.3 381.9,389.4 382.2,389.4 382.6,389.5 382.9,389.5 383.3,389.5 383.7,389.5 384,389.5 384.4,389.4 384.8,389.3 385.1,389.2 385.5,389.1 385.9,389 386.2,388.9 386.6,388.8 387,388.6 387.3,388.5 387.7,388.4 388.1,388.3 388.4,388.3 388.8,388.2 389.2,388.3 389.5,388.3 389.9,388.4 390.3,388.5 390.6,388.7 391,388.9 391.4,389.1 391.7,389.3 392.1,389.5 392.5,389.6 392.8,389.8 393.2,390 393.6,390.1 393.9,390.2 394.3,390.3 394.7,390.3 395,390.4 395.4,390.4 395.8,390.4 396.1,390.5 396.5,390.5 396.9,390.5 397.2,390.5 397.6,390.5 398,390.5 398.3,390.6 398.7,390.6 399.1,390.6 399.4,390.6 399.8,390.7 400.2,390.7 400.5,390.7 400.9,390.7 401.3,390.7 401.6,390.7 402,390.7 402.4,390.7 402.7,390.7 403.1,390.7 403.5,390.7 403.5,390.7 330.6,390.7" fill="#348ABD" fill-opacity=".25" stroke="#348ABD" stroke-width=".4" stroke-linejoin="round"/>
<polygon points="328.2,390.7 328.6,390.6 329,390.6 329.4,390.5 329.8,390.4 330.2,390.3 330.6,390.2 331.1,389.9 331.5,389.7 331.9,389.3 332.3,388.8 332.7,388.3 333.1,387.6 333.5,386.7 334,385.8 334.4,384.7 334.8,383.5 335.2,382.1 335.6,380.7 336,379.2 336.4,377.7 336.9,376.2 337.3,374.7 337.7,373.3 338.1,372.1 338.5,371 338.9,370.2 339.3,369.5 339.8,369.1 340.2,368.9 340.6,368.9 341,369.1 341.4,369.4 341.8,369.9 342.2,370.5 342.7,371.2 343.1,371.9 343.5,372.6 343.9,373.4 344.3,374.2 344.7,374.9 345.2,375.7 345.6,376.4 346,377.1 346.4,377.7 346.8,378.4 347.2,379 347.6,379.6 348.1,380.2 348.5,380.7 348.9,381.2 349.3,381.7 349.7,382.2 350.1,382.6 350.5,383 351,383.4 351.4,383.8 351.8,384.1 352.2,384.5 352.6,384.8 353,385.1 353.4,385.4 353.9,385.8 354.3,386.1 354.7,386.4 355.1,386.7 355.5,386.9 355.9,387.2 356.3,387.4 356.8,387.7 357.2,387.9 357.6,388.1 358,388.2 358.4,388.4 358.8,388.5 359.2,388.7 359.7,388.8 360.1,388.9 360.5,389 360.9,389.1 361.3,389.2 361.7,389.3 362.1,389.4 362.6,389.5 363,389.6 363.4,389.7 363.8,389.7 364.2,389.8 364.6,389.9 365,389.9 365.5,390 365.9,390 366.3,390 366.7,390.1 367.1,390.1 367.5,390.1 367.9,390.1 368.4,390.1 368.8,390.1 369.2,390.1 369.6,390.1 370,390.1 370.4,390.2 370.9,390.2 371.3,390.2 371.7,390.2 372.1,390.2 372.5,390.2 372.9,390.3 373.3,390.3 373.8,390.3 374.2,390.3 374.6,390.3 375,390.3 375.4,390.3 375.8,390.3 376.2,390.3 376.7,390.3 377.1,390.3 377.5,390.3 377.9,390.3 378.3,390.3 378.7,390.3 379.1,390.3 379.6,390.3 380,390.3 380.4,390.3 380.8,390.3 381.2,390.3 381.6,390.3 382,390.3 382.5,390.3 382.9,390.3 383.3,390.3 383.7,390.3 384.1,390.3 384.5,390.3 384.9,390.3 385.4,390.3 385.8,390.3 386.2,390.3 386.6,390.3 387,390.3 387.4,390.3 387.8,390.3 388.3,390.3 388.7,390.4 389.1,390.4 389.5,390.4 389.9,390.5 390.3,390.5 390.7,390.5 391.2,390.5 391.6,390.6 392,390.6 392.4,390.6 392.8,390.6 393.2,390.6 393.6,390.7 394.1,390.7 394.5,390.7 394.9,390.7 395.3,390.7 395.7,390.7 396.1,390.7 396.6,390.7 397,390.7 397.4,390.6 397.8,390.6 398.2,390.6 398.6,390.6 399,390.6 399.5,390.6 399.9,390.6 400.3,390.6 400.7,390.6 401.1,390.6 401.5,390.6 401.9,390.6 402.4,390.6 402.8,390.6 403.2,390.6 403.6,390.6 404,390.6 404.4,390.6 404.8,390.6 405.3,390.7 405.7,390.7 406.1,390.7 406.5,390.7 406.9,390.7 407.3,390.7 407.7,390.7 408.2,390.7 408.6,390.7 409,390.7 409.4,390.7 409.8,390.7 410.2,390.7 410.6,390.7 410.6,390.7 328.2,390.7" fill="#E24A33" fill-opacity=".25" stroke="#E24A33" stroke-width=".4" stroke-linejoin="round"/>
<rect x="420" y="297.2" width="89.9" height="93.5" fill="#E5E5E5"/>
<path class="g" d="M434.9 297.2v93.5M471.1 297.2v93.5M507.4 297.2v93.5M420 386.5h89.9M420 365.2h89.9M420 344h89.9M420 322.7h89.9M420 301.4h89.9"/>
<path class="k" d="M434.9 390.7v2M471.1 390.7v2M507.4 390.7v2M420 386.5h-2M420 365.2h-2M420 344h-2M420 322.7h-2M420 301.4h-2"/>
<circle class="r" cx="496.5" cy="324.8"/><circle class="r" cx="467.5" cy="331.2"/><circle class="r" cx="463.9" cy="320.6"/><circle class="r" cx="485.6" cy="356.7"/><circle cx="438.5" cy="365.2"/><circle cx="434.9" cy="371.6"/><circle cx="442.1" cy="352.5"/><circle cx="485.6" cy="354.6"/><circle cx="449.4" cy="363.1"/><circle cx="474.8" cy="350.3"/><circle cx="474.8" cy="346.1"/><circle cx="460.3" cy="331.2"/><circle cx="463.9" cy="318.4"/><circle cx="456.6" cy="367.3"/><circle cx="482" cy="346.1"/><circle cx="478.4" cy="358.8"/><circle cx="478.4" cy="354.6"/><circle cx="482" cy="348.2"/><circle cx="467.5" cy="322.7"/><circle cx="471.1" cy="356.7"/><circle cx="442.1" cy="350.3"/><circle cx="442.1" cy="361"/><circle cx="463.9" cy="352.5"/><circle cx="463.9" cy="307.8"/><circle cx="467.5" cy="350.3"/><circle cx="453" cy="358.8"/><circle cx="453" cy="367.3"/><circle cx="485.6" cy="341.8"/><circle cx="442.1" cy="356.7"/><circle cx="474.8" cy="344"/><circle class="r" cx="474.8" cy="354.6"/><circle cx="474.8" cy="329.1"/><circle class="r" cx="449.4" cy="350.3"/><circle cx="471.1" cy="344"/><circle cx="485.6" cy="352.5"/><circle cx="460.3" cy="339.7"/><circle cx="456.6" cy="363.1"/><circle cx="445.8" cy="352.5"/><circle cx="442.1" cy="358.8"/><circle cx="474.8" cy="341.8"/><circle cx="434.9" cy="356.7"/><circle cx="456.6" cy="361"/><circle cx="453" cy="373.7"/><circle cx="489.3" cy="346.1"/><circle cx="463.9" cy="350.3"/><circle cx="482" cy="318.4"/><circle class="r" cx="456.6" cy="301.4"/><circle cx="496.5" cy="350.3"/><circle class="r" cx="463.9" cy="356.7"/><circle cx="478.4" cy="361"/><circle cx="467.5" cy="341.8"/><circle cx="442.1" cy="363.1"/><circle cx="467.5" cy="346.1"/><circle cx="434.9" cy="369.5"/><circle cx="463.9" cy="346.1"/><circle class="r" cx="489.3" cy="354.6"/><circle cx="478.4" cy="337.6"/><circle cx="467.5" cy="348.2"/><circle cx="467.5" cy="318.4"/><circle cx="496.5" cy="346.1"/><circle cx="474.8" cy="348.2"/><circle cx="478.4" cy="341.8"/><circle cx="482" cy="350.3"/><circle class="r" cx="434.9" cy="365.2"/><circle cx="489.3" cy="335.5"/><circle cx="460.3" cy="346.1"/><circle cx="449.4" cy="365.2"/><circle cx="467.5" cy="361"/><circle cx="478.4" cy="316.3"/><circle cx="438.5" cy="382.2"/><circle class="r" cx="460.3" cy="358.8"/><circle cx="482" cy="331.2"/><circle cx="438.5" cy="380.1"/><circle cx="467.5" cy="356.7"/><circle cx="449.4" cy="344"/><circle cx="438.5" cy="378"/><circle cx="460.3" cy="341.8"/><circle cx="474.8" cy="356.7"/><circle cx="496.5" cy="339.7"/><circle class="r" cx="442.1" cy="318.4"/><circle cx="460.3" cy="348.2"/><circle cx="460.3" cy="333.3"/><circle cx="442.1" cy="365.2"/><circle cx="467.5" cy="333.3"/><circle cx="442.1" cy="373.7"/><circle cx="474.8" cy="335.5"/><circle cx="449.4" cy="373.7"/><circle cx="478.4" cy="356.7"/><circle cx="449.4" cy="367.3"/><circle cx="482" cy="341.8"/><circle cx="460.3" cy="337.6"/><circle cx="482" cy="352.5"/><circle cx="449.4" cy="358.8"/><circle cx="467.5" cy="335.5"/><circle cx="438.5" cy="367.3"/><circle cx="471.1" cy="316.3"/><circle cx="449.4" cy="371.6"/><circle cx="478.4" cy="344"/><circle cx="442.1" cy="367.3"/><circle cx="467.5" cy="344"/><circle cx="485.6" cy="344"/><circle cx="460.3" cy="350.3"/><circle class="r" cx="463.9" cy="339.7"/><circle cx="453" cy="365.2"/><circle cx="482" cy="358.8"/><circle cx="445.8" cy="378"/><circle cx="460.3" cy="352.5"/><circle cx="453" cy="371.6"/><circle cx="478.4" cy="329.1"/><circle cx="460.3" cy="354.6"/><circle cx="434.9" cy="367.3"/><circle cx="463.9" cy="348.2"/><circle cx="438.5" cy="373.7"/><circle cx="482" cy="320.6"/><circle cx="467.5" cy="363.1"/><circle cx="460.3" cy="367.3"/><circle cx="449.4" cy="369.5"/><circle cx="460.3" cy="324.8"/><circle cx="471.1" cy="358.8"/><circle cx="482" cy="354.6"/><circle cx="467.5" cy="358.8"/><circle cx="438.5" cy="375.8"/><circle cx="445.8" cy="365.2"/><circle cx="463.9" cy="354.6"/><circle cx="445.8" cy="369.5"/><circle cx="456.6" cy="373.7"/><circle cx="456.6" cy="341.8"/><circle cx="471.1" cy="339.7"/><circle cx="460.3" cy="356.7"/><circle cx="460.3" cy="316.3"/><circle cx="456.6" cy="365.2"/><circle cx="471.1" cy="365.2"/><circle cx="460.3" cy="363.1"/><circle cx="442.1" cy="369.5"/><circle cx="463.9" cy="361"/><circle cx="460.3" cy="361"/><circle cx="445.8" cy="367.3"/><circle cx="434.9" cy="378"/><circle cx="442.1" cy="378"/><circle cx="474.8" cy="363.1"/><circle cx="463.9" cy="367.3"/><circle cx="449.4" cy="375.8"/><circle cx="445.8" cy="375.8"/><circle cx="474.8" cy="318.4"/><circle cx="478.4" cy="352.5"/><circle class="r" cx="463.9" cy="358.8"/><circle cx="456.6" cy="369.5"/><circle cx="460.3" cy="365.2"/><circle cx="434.9" cy="386.5"/><circle class="r" cx="434.9" cy="384.4"/><circle cx="463.9" cy="331.2"/><circle cx="474.8" cy="358.8"/><circle cx="471.1" cy="346.1"/><circle cx="467.5" cy="365.2"/><circle cx="442.1" cy="380.1"/><circle cx="460.3" cy="344"/><circle cx="460.3" cy="369.5"/><circle cx="463.9" cy="344"/><circle cx="438.5" cy="384.4"/><circle cx="442.1" cy="375.8"/><circle cx="467.5" cy="367.3"/><circle cx="463.9" cy="363.1"/><circle cx="482" cy="339.7"/><circle cx="445.8" cy="371.6"/><circle cx="463.9" cy="365.2"/><circle cx="445.8" cy="373.7"/><circle cx="460.3" cy="335.5"/><circle cx="478.4" cy="335.5"/><circle cx="434.9" cy="375.8"/><circle cx="434.9" cy="382.2"/><circle class="r" cx="442.1" cy="382.2"/><circle cx="445.8" cy="380.1"/><circle cx="463.9" cy="369.5"/><circle cx="460.3" cy="371.6"/><circle cx="449.4" cy="378"/><circle cx="460.3" cy="320.6"/><circle cx="434.9" cy="380.1"/><circle cx="442.1" cy="371.6"/><circle cx="434.9" cy="373.7"/><circle cx="453" cy="375.8"/>
<rect x="37.6" y="395.5" width="89.9" height="93.5" fill="#E5E5E5"/>
<path class="g" d="M49.6 395.5v93.5M81.2 395.5v93.5M112.8 395.5v93.5M37.6 484.8h89.9M37.6 472.3h89.9M37.6 459.8h89.9M37.6 447.3h89.9M37.6 434.8h89.9M37.6 422.3h89.9M37.6 409.8h89.9M37.6 397.3h89.9"/>
<path class="k" d="M49.6 489.1v2M81.2 489.1v2M112.8 489.1v2M37.6 484.8h-2M37.6 472.3h-2M37.6 459.8h-2M37.6 447.3h-2M37.6 434.8h-2M37.6 422.3h-2M37.6 409.8h-2M37.6 397.3h-2"/>
<circle class="r" cx="86.6" cy="479.8"/><circle class="r" cx="83.9" cy="474.8"/><circle class="r" cx="89.3" cy="399.8"/><circle class="r" cx="81.1" cy="484.8"/><circle class="r" cx="85.4" cy="474.8"/><circle class="r" cx="62.6" cy="454.8"/><circle class="r" cx="58.5" cy="414.8"/><circle class="r" cx="91.1" cy="484.8"/><circle class="r" cx="75.7" cy="479.8"/><circle class="r" cx="63.5" cy="434.8"/><circle class="r" cx="76" cy="459.8"/><circle cx="82.3" cy="469.8"/><circle cx="79.4" cy="464.8"/><circle cx="76.4" cy="419.8"/><circle cx="71.1" cy="479.8"/><circle cx="75.7" cy="434.8"/><circle cx="102.5" cy="474.8"/><circle cx="70.1" cy="459.8"/><circle cx="90.3" cy="449.8"/><circle cx="58.9" cy="414.8"/><circle cx="56.3" cy="459.8"/><circle cx="55.7" cy="454.8"/><circle cx="82.8" cy="469.8"/><circle cx="93" cy="464.8"/><circle cx="78.9" cy="429.8"/><circle cx="70" cy="429.8"/><circle cx="102.7" cy="429.8"/><circle cx="61.9" cy="454.8"/><circle cx="53.4" cy="434.8"/><circle class="r" cx="53.2" cy="449.8"/><circle cx="72.1" cy="429.8"/><circle cx="93.3" cy="474.8"/><circle cx="74.5" cy="459.8"/><circle cx="99.5" cy="474.8"/><circle cx="107.7" cy="429.8"/><circle cx="64.7" cy="424.8"/><circle cx="79.3" cy="439.8"/><circle cx="101.2" cy="454.8"/><circle cx="75.1" cy="439.8"/><circle cx="75.3" cy="434.8"/><circle cx="94" cy="484.8"/><circle cx="96.3" cy="444.8"/><circle cx="70" cy="464.8"/><circle cx="66.3" cy="454.8"/><circle cx="102.8" cy="439.8"/><circle cx="87.2" cy="469.8"/><circle cx="78.7" cy="424.8"/><circle cx="91.4" cy="429.8"/><circle class="r" cx="84.5" cy="444.8"/><circle cx="112.1" cy="424.8"/><circle cx="101.2" cy="449.8"/><circle cx="94.5" cy="419.8"/><circle cx="104.5" cy="469.8"/><circle cx="80.8" cy="424.8"/><circle cx="103" cy="439.8"/><circle cx="57.1" cy="429.8"/><circle cx="70.8" cy="424.8"/><circle cx="87" cy="419.8"/><circle cx="67.8" cy="429.8"/><circle cx="84.6" cy="439.8"/><circle cx="63.8" cy="429.8"/><circle cx="68.2" cy="459.8"/><circle cx="108.6" cy="474.8"/><circle cx="97.5" cy="414.8"/><circle class="r" cx="54" cy="459.8"/><circle cx="81" cy="484.8"/><circle class="r" cx="86.3" cy="479.8"/><circle cx="110.5" cy="444.8"/><circle cx="60.5" cy="429.8"/><circle cx="65.9" cy="424.8"/><circle cx="109.8" cy="439.8"/><circle cx="87.6" cy="439.8"/><circle cx="72" cy="454.8"/><circle cx="89.2" cy="449.8"/><circle cx="81.4" cy="459.8"/><circle cx="84.7" cy="439.8"/><circle cx="99.8" cy="449.8"/><circle cx="83.9" cy="459.8"/><circle cx="91.2" cy="439.8"/><circle cx="76.3" cy="439.8"/><circle cx="109.9" cy="469.8"/><circle cx="83.9" cy="444.8"/><circle cx="103" cy="414.8"/><circle cx="71.4" cy="459.8"/><circle cx="91.1" cy="474.8"/><circle cx="88.2" cy="449.8"/><circle cx="99.4" cy="434.8"/><circle cx="61.6" cy="454.8"/><circle cx="79.6" cy="429.8"/><circle cx="83.4" cy="484.8"/><circle cx="77" cy="429.8"/><circle cx="96.3" cy="449.8"/><circle cx="68.7" cy="454.8"/><circle cx="94.5" cy="484.8"/><circle cx="57.4" cy="444.8"/><circle cx="53.1" cy="484.8"/><circle cx="60.2" cy="459.8"/><circle class="r" cx="70.5" cy="429.8"/><circle cx="109.3" cy="484.8"/><circle cx="62" cy="444.8"/><circle cx="107.9" cy="474.8"/><circle cx="57.9" cy="439.8"/><circle cx="103" cy="429.8"/><circle cx="95.8" cy="434.8"/><circle cx="77.3" cy="479.8"/><circle cx="65.1" cy="459.8"/><circle cx="99.1" cy="484.8"/><circle cx="91.4" cy="449.8"/><circle cx="109.8" cy="434.8"/><circle cx="81.4" cy="424.8"/><circle cx="93.7" cy="414.8"/><circle cx="111.6" cy="444.8"/><circle cx="53.3" cy="479.8"/><circle cx="63" cy="464.8"/><circle cx="64.5" cy="444.8"/><circle cx="55.9" cy="444.8"/><circle cx="86" cy="469.8"/><circle cx="73.1" cy="439.8"/><circle cx="94.8" cy="449.8"/><circle cx="78.1" cy="454.8"/><circle cx="74.3" cy="424.8"/><circle cx="69.5" cy="479.8"/><circle cx="58.7" cy="454.8"/><circle cx="53.1" cy="439.8"/><circle cx="88.4" cy="459.8"/><circle cx="75.8" cy="429.8"/><circle cx="52.9" cy="464.8"/><circle cx="112.6" cy="429.8"/><circle cx="64.9" cy="454.8"/><circle cx="62.8" cy="434.8"/><circle cx="85.5" cy="484.8"/><circle class="r" cx="54.8" cy="444.8"/><circle cx="85" cy="469.8"/><circle cx="99.4" cy="454.8"/><circle cx="108.1" cy="449.8"/><circle cx="64.3" cy="439.8"/><circle cx="100.1" cy="474.8"/><circle cx="101.7" cy="449.8"/><circle cx="61.3" cy="459.8"/><circle cx="63.1" cy="459.8"/><circle cx="84.2" cy="469.8"/><circle cx="78.2" cy="409.8"/><circle cx="74.6" cy="434.8"/><circle cx="112.5" cy="469.8"/><circle cx="74.7" cy="479.8"/><circle cx="101" cy="474.8"/><circle cx="108.3" cy="419.8"/><circle class="r" cx="82.1" cy="454.8"/><circle cx="77.4" cy="484.8"/><circle cx="54.5" cy="444.8"/><circle class="r" cx="57.2" cy="459.8"/><circle cx="69.7" cy="399.8"/><circle cx="77.8" cy="439.8"/><circle class="r" cx="80.7" cy="444.8"/><circle cx="99.4" cy="444.8"/><circle cx="74.9" cy="469.8"/><circle class="r" cx="82" cy="479.8"/><circle cx="63.2" cy="434.8"/><circle cx="57.5" cy="424.8"/><circle cx="64.7" cy="429.8"/><circle cx="87.1" cy="444.8"/><circle cx="86.2" cy="444.8"/><circle cx="109.5" cy="439.8"/><circle cx="103.1" cy="444.8"/><circle cx="104.8" cy="449.8"/><circle cx="75.3" cy="419.8"/><circle cx="62.1" cy="449.8"/><circle class="r" cx="72.3" cy="454.8"/><circle cx="80.3" cy="439.8"/><circle cx="53.1" cy="474.8"/><circle cx="65.1" cy="449.8"/><circle cx="74" cy="454.8"/><circle cx="70.9" cy="464.8"/><circle cx="86" cy="474.8"/><circle cx="53.3" cy="484.8"/><circle cx="112.2" cy="474.8"/><circle cx="74.1" cy="464.8"/><circle cx="96.4" cy="474.8"/><circle cx="74.3" cy="439.8"/><circle class="r" cx="70" cy="479.8"/><circle cx="74.6" cy="444.8"/><circle class="r" cx="56" cy="409.8"/><circle cx="69.4" cy="434.8"/><circle cx="112.6" cy="449.8"/><circle class="r" cx="72.1" cy="469.8"/><circle cx="71.9" cy="439.8"/><circle class="r" cx="58.4" cy="459.8"/><circle cx="100.4" cy="424.8"/><circle cx="109.1" cy="434.8"/><circle cx="105.7" cy="449.8"/><circle cx="81" cy="464.8"/><circle cx="80.5" cy="439.8"/><circle class="r" cx="56.9" cy="449.8"/><circle cx="105.9" cy="434.8"/><circle cx="62.6" cy="459.8"/><circle cx="98.4" cy="469.8"/><circle cx="57.2" cy="439.8"/><circle cx="73" cy="484.8"/><circle cx="53.5" cy="484.8"/><circle cx="64.4" cy="479.8"/><circle cx="112.3" cy="449.8"/><circle cx="81.4" cy="449.8"/><circle cx="71.3" cy="469.8"/><circle cx="78.8" cy="449.8"/><circle cx="65.3" cy="479.8"/><circle cx="70.5" cy="464.8"/><circle cx="67" cy="444.8"/><circle cx="71.2" cy="449.8"/><circle cx="110" cy="474.8"/><circle cx="65.7" cy="439.8"/><circle cx="86.4" cy="474.8"/><circle cx="111.5" cy="449.8"/><circle cx="73.4" cy="469.8"/><circle cx="79.9" cy="474.8"/><circle cx="94.5" cy="474.8"/><circle class="r" cx="76.6" cy="484.8"/><circle cx="95.5" cy="439.8"/><circle cx="57.8" cy="464.8"/><circle cx="63.6" cy="444.8"/><circle cx="72.6" cy="464.8"/><circle cx="75.4" cy="484.8"/><circle cx="87.4" cy="399.8"/><circle cx="86.4" cy="444.8"/><circle cx="111.3" cy="429.8"/><circle cx="93.1" cy="424.8"/><circle cx="64.7" cy="419.8"/><circle cx="111.2" cy="424.8"/><circle cx="107.5" cy="439.8"/><circle cx="55" cy="459.8"/><circle cx="73" cy="469.8"/><circle cx="58.2" cy="469.8"/><circle class="r" cx="82.8" cy="444.8"/><circle cx="84.1" cy="479.8"/><circle cx="105.5" cy="409.8"/><circle cx="73.7" cy="449.8"/><circle cx="103.5" cy="474.8"/><circle cx="55.7" cy="464.8"/><circle cx="109.6" cy="484.8"/><circle cx="84.8" cy="469.8"/><circle cx="109.6" cy="469.8"/><circle cx="68.4" cy="479.8"/><circle cx="61" cy="439.8"/><circle cx="110.7" cy="424.8"/><circle cx="83.5" cy="429.8"/><circle cx="80.9" cy="469.8"/><circle cx="76.9" cy="434.8"/><circle cx="66.7" cy="444.8"/><circle cx="105.2" cy="464.8"/><circle cx="57.7" cy="479.8"/><circle class="r" cx="78" cy="449.8"/><circle cx="66.4" cy="419.8"/><circle cx="70.6" cy="449.8"/><circle cx="67.5" cy="479.8"/><circle cx="80" cy="449.8"/><circle class="r" cx="111" cy="474.8"/><circle cx="57.7" cy="454.8"/><circle cx="79" cy="444.8"/><circle cx="111.6" cy="419.8"/><circle cx="99.3" cy="469.8"/><circle class="r" cx="70.9" cy="479.8"/><circle cx="63.7" cy="479.8"/><circle cx="107.6" cy="469.8"/><circle cx="70.8" cy="474.8"/><circle cx="87.9" cy="474.8"/><circle cx="66.9" cy="439.8"/><circle cx="110" cy="449.8"/><circle cx="68.3" cy="469.8"/><circle cx="99.6" cy="464.8"/><circle cx="79.3" cy="474.8"/><circle class="r" cx="83.7" cy="484.8"/><circle cx="85.2" cy="439.8"/><circle cx="66.2" cy="479.8"/><circle cx="59.2" cy="464.8"/><circle cx="76.7" cy="444.8"/><circle cx="91" cy="449.8"/><circle cx="72.5" cy="484.8"/><circle cx="54.1" cy="464.8"/><circle cx="104.6" cy="429.8"/><circle cx="106.9" cy="399.8"/><circle cx="74.6" cy="474.8"/><circle cx="79.9" cy="484.8"/><circle cx="59.1" cy="449.8"/><circle cx="53.6" cy="449.8"/><circle cx="67.2" cy="469.8"/><circle cx="72.3" cy="449.8"/><circle cx="100" cy="459.8"/><circle cx="68.1" cy="444.8"/><circle cx="56.8" cy="444.8"/><circle cx="76.2" cy="474.8"/><circle cx="54.9" cy="464.8"/><circle cx="61.3" cy="484.8"/><circle cx="62.5" cy="464.8"/><circle cx="103.1" cy="449.8"/><circle cx="64.9" cy="474.8"/><circle cx="67.6" cy="484.8"/><circle cx="81.1" cy="474.8"/><circle cx="61.7" cy="464.8"/><circle cx="58.8" cy="479.8"/><circle cx="111.3" cy="439.8"/><circle cx="88.5" cy="459.8"/><circle cx="58.4" cy="454.8"/><circle cx="56.2" cy="439.8"/><circle cx="57.5" cy="469.8"/><circle cx="59.9" cy="479.8"/><circle cx="84.5" cy="449.8"/><circle class="r" cx="88" cy="474.8"/><circle cx="69" cy="469.8"/><circle cx="61.2" cy="464.8"/><circle cx="53.3" cy="424.8"/><circle cx="64.3" cy="474.8"/><circle cx="105.3" cy="444.8"/><circle cx="56.9" cy="479.8"/><circle cx="69" cy="464.8"/><circle cx="99.2" cy="419.8"/><circle class="r" cx="102.9" cy="484.8"/><circle cx="60.2" cy="469.8"/><circle class="r" cx="53.1" cy="469.8"/><circle class="r" cx="53.5" cy="484.8"/><circle cx="75" cy="474.8"/><circle class="r" cx="66.3" cy="474.8"/><circle cx="63.4" cy="439.8"/><circle cx="66.9" cy="434.8"/><circle cx="90.8" cy="419.8"/><circle cx="102.7" cy="464.8"/><circle cx="59.6" cy="464.8"/><circle cx="77.9" cy="444.8"/><circle cx="105.8" cy="439.8"/><circle cx="88.4" cy="484.8"/><circle cx="77.8" cy="464.8"/><circle cx="98.8" cy="464.8"/><circle class="r" cx="80.3" cy="449.8"/><circle cx="60.4" cy="449.8"/><circle cx="94.5" cy="439.8"/><circle cx="54.1" cy="449.8"/><circle cx="58.2" cy="459.8"/><circle cx="97.2" cy="474.8"/><circle cx="53.8" cy="469.8"/><circle cx="56.9" cy="469.8"/><circle cx="68.8" cy="464.8"/><circle class="r" cx="57.3" cy="484.8"/><circle cx="110.5" cy="449.8"/><circle cx="66.1" cy="444.8"/><circle cx="99.3" cy="449.8"/><circle cx="62.7" cy="479.8"/><circle cx="97.2" cy="484.8"/><circle cx="93.4" cy="449.8"/><circle cx="69.4" cy="454.8"/><circle cx="112.7" cy="434.8"/><circle cx="111.1" cy="424.8"/><circle cx="71.7" cy="474.8"/><circle cx="89.3" cy="434.8"/><circle cx="78.3" cy="464.8"/><circle cx="56.6" cy="464.8"/><circle cx="91.7" cy="439.8"/><circle cx="78" cy="479.8"/><circle cx="71.1" cy="414.8"/><circle cx="58.7" cy="449.8"/><circle cx="54.7" cy="469.8"/><circle class="r" cx="108.9" cy="444.8"/><circle cx="61.5" cy="459.8"/><circle cx="69.1" cy="419.8"/><circle cx="78.6" cy="464.8"/><circle cx="70.2" cy="474.8"/><circle cx="85.8" cy="449.8"/><circle cx="111.1" cy="454.8"/><circle cx="60.6" cy="444.8"/><circle cx="69.9" cy="444.8"/><circle cx="60.9" cy="449.8"/><circle cx="63.5" cy="469.8"/><circle cx="102" cy="449.8"/><circle cx="74.3" cy="459.8"/><circle cx="66.8" cy="449.8"/><circle cx="91.7" cy="424.8"/><circle cx="67.1" cy="439.8"/><circle class="r" cx="81.6" cy="444.8"/><circle cx="76.1" cy="469.8"/><circle cx="70.1" cy="449.8"/><circle cx="112.3" cy="484.8"/><circle class="r" cx="72.6" cy="449.8"/><circle cx="104.8" cy="474.8"/><circle class="r" cx="60.4" cy="484.8"/><circle cx="104" cy="449.8"/><circle cx="62.6" cy="484.8"/><circle cx="55.2" cy="474.8"/><circle cx="112.6" cy="444.8"/><circle cx="109" cy="449.8"/><circle cx="84.6" cy="449.8"/><circle cx="110.5" cy="419.8"/><circle cx="64" cy="439.8"/><circle cx="92.5" cy="474.8"/><circle cx="90.6" cy="444.8"/><circle class="r" cx="69.9" cy="484.8"/><circle cx="58.8" cy="474.8"/><circle cx="56.2" cy="449.8"/><circle cx="64.1" cy="469.8"/><circle cx="75.9" cy="464.8"/><circle cx="61.9" cy="484.8"/><circle cx="55.2" cy="449.8"/><circle cx="83" cy="474.8"/><circle cx="111.6" cy="484.8"/><circle cx="98.1" cy="449.8"/><circle cx="53.1" cy="474.8"/><circle cx="103.7" cy="484.8"/><circle cx="67.7" cy="434.8"/><circle cx="54.3" cy="434.8"/><circle cx="74.7" cy="419.8"/><circle cx="98.5" cy="439.8"/><circle cx="67.2" cy="449.8"/><circle cx="58.9" cy="444.8"/><circle cx="65.8" cy="464.8"/><circle cx="93.1" cy="469.8"/><circle cx="61.8" cy="479.8"/><circle cx="56.9" cy="474.8"/><circle cx="80.9" cy="479.8"/><circle cx="69.4" cy="474.8"/><circle class="r" cx="53.7" cy="484.8"/><circle cx="64.7" cy="484.8"/><circle cx="64.2" cy="474.8"/><circle cx="78.9" cy="474.8"/><circle cx="59.7" cy="474.8"/><circle cx="70" cy="474.8"/><circle cx="83.4" cy="444.8"/><circle cx="77" cy="469.8"/><circle cx="53.1" cy="454.8"/><circle cx="78.7" cy="474.8"/><circle cx="108.2" cy="454.8"/><circle class="r" cx="68.2" cy="474.8"/><circle cx="96.2" cy="434.8"/><circle cx="95.9" cy="449.8"/><circle cx="87.1" cy="449.8"/><circle cx="77" cy="454.8"/><circle cx="84.8" cy="464.8"/><circle class="r" cx="58.8" cy="484.8"/><circle cx="65.6" cy="444.8"/><circle cx="70" cy="434.8"/><circle cx="57.7" cy="449.8"/><circle cx="83.5" cy="464.8"/><circle cx="76.2" cy="469.8"/><circle cx="100.7" cy="474.8"/><circle cx="59.8" cy="444.8"/><circle cx="68.2" cy="449.8"/><circle cx="78" cy="469.8"/><circle cx="56.2" cy="479.8"/><circle class="r" cx="53.6" cy="479.8"/><circle cx="63.8" cy="474.8"/><circle cx="108.5" cy="459.8"/><circle cx="64.6" cy="469.8"/><circle cx="63.4" cy="484.8"/><circle cx="60" cy="444.8"/><circle cx="82.3" cy="474.8"/><circle class="r" cx="74.6" cy="484.8"/><circle cx="104.6" cy="484.8"/><circle cx="68.5" cy="484.8"/><circle cx="66.3" cy="484.8"/><circle cx="53.8" cy="474.8"/><circle cx="55.9" cy="469.8"/><circle cx="67.5" cy="474.8"/><circle cx="98.3" cy="444.8"/><circle cx="55.6" cy="484.8"/><circle cx="75.2" cy="449.8"/><circle cx="54.7" cy="479.8"/><circle cx="53.8" cy="479.8"/><circle cx="104.1" cy="474.8"/><circle class="r" cx="64.3" cy="464.8"/><circle cx="74.8" cy="449.8"/><circle cx="68.4" cy="429.8"/><circle cx="54.3" cy="484.8"/><circle cx="62.5" cy="479.8"/><circle cx="67.3" cy="464.8"/><circle cx="71.9" cy="484.8"/><circle cx="62.6" cy="444.8"/><circle cx="61.7" cy="439.8"/><circle cx="76.3" cy="444.8"/><circle cx="81.8" cy="464.8"/><circle cx="76.9" cy="449.8"/><circle cx="76.5" cy="449.8"/><circle cx="70.4" cy="469.8"/><circle cx="74.4" cy="449.8"/><circle cx="103.2" cy="429.8"/><circle cx="60.7" cy="424.8"/><circle cx="72.7" cy="444.8"/><circle class="r" cx="76" cy="444.8"/><circle cx="69.5" cy="454.8"/><circle class="r" cx="63.3" cy="474.8"/><circle cx="69.5" cy="449.8"/><circle cx="111.2" cy="484.8"/><circle cx="111.8" cy="444.8"/><circle cx="56" cy="474.8"/><circle class="r" cx="54" cy="484.8"/><circle class="r" cx="63.6" cy="484.8"/><circle cx="107.2" cy="444.8"/><circle cx="88.2" cy="429.8"/><circle cx="107.8" cy="434.8"/><circle cx="59.2" cy="439.8"/><circle cx="61" cy="474.8"/><circle cx="77.9" cy="474.8"/><circle cx="106.2" cy="449.8"/><circle cx="64.2" cy="449.8"/><circle cx="107.1" cy="444.8"/><circle cx="60.3" cy="479.8"/><circle cx="72.8" cy="474.8"/><circle cx="66" cy="469.8"/><circle cx="67.4" cy="439.8"/><circle cx="62.9" cy="444.8"/><circle cx="81.7" cy="419.8"/><circle cx="59.6" cy="469.8"/><circle cx="73" cy="444.8"/><circle cx="62.1" cy="469.8"/><circle cx="94.2" cy="449.8"/><circle cx="95.1" cy="424.8"/><circle cx="87.4" cy="484.8"/><circle cx="71.2" cy="484.8"/><circle cx="59.6" cy="484.8"/><circle cx="71.1" cy="444.8"/><circle class="r" cx="58" cy="474.8"/><circle cx="70" cy="469.8"/><circle cx="69.5" cy="444.8"/><circle cx="65.7" cy="449.8"/><circle cx="62.5" cy="449.8"/><circle cx="67.2" cy="464.8"/><circle cx="86.5" cy="449.8"/><circle cx="56.8" cy="484.8"/><circle cx="62.5" cy="474.8"/><circle cx="64.3" cy="484.8"/><circle cx="64.8" cy="459.8"/>
<rect x="133.2" y="395.5" width="89.9" height="93.5" fill="#E5E5E5"/>
<path class="g" d="M136.1 395.5v93.5M164.2 395.5v93.5M192.2 395.5v93.5M220.3 395.5v93.5M133.2 484.8h89.9M133.2 472.3h89.9M133.2 459.8h89.9M133.2 447.3h89.9M133.2 434.8h89.9M133.2 422.3h89.9M133.2 409.8h89.9M133.2 397.3h89.9"/>
<path class="k" d="M136.1 489.1v2M164.2 489.1v2M192.2 489.1v2M220.3 489.1v2M133.2 484.8h-2M133.2 472.3h-2M133.2 459.8h-2M133.2 447.3h-2M133.2 434.8h-2M133.2 422.3h-2M133.2 409.8h-2M133.2 397.3h-2"/>
<circle class="r" cx="178.2" cy="399.8"/><circle class="r" cx="164.2" cy="414.8"/><circle cx="150.1" cy="414.8"/><circle cx="192.2" cy="414.8"/><circle cx="192.2" cy="454.8"/><circle cx="178.2" cy="409.8"/><circle cx="164.2" cy="399.8"/><circle cx="150.1" cy="429.8"/><circle class="r" cx="150.1" cy="409.8"/><circle cx="192.2" cy="399.8"/><circle cx="206.3" cy="429.8"/><circle cx="192.2" cy="409.8"/><circle class="r" cx="206.3" cy="474.8"/><circle cx="192.2" cy="469.8"/><circle cx="206.3" cy="469.8"/><circle cx="178.2" cy="439.8"/><circle cx="206.3" cy="399.8"/><circle cx="192.2" cy="459.8"/><circle cx="206.3" cy="439.8"/><circle cx="150.1" cy="424.8"/><circle cx="192.2" cy="419.8"/><circle cx="192.2" cy="464.8"/><circle cx="206.3" cy="424.8"/><circle cx="178.2" cy="434.8"/><circle cx="178.2" cy="414.8"/><circle cx="150.1" cy="459.8"/><circle cx="178.2" cy="459.8"/><circle cx="178.2" cy="424.8"/><circle cx="206.3" cy="449.8"/><circle cx="206.3" cy="419.8"/><circle cx="150.1" cy="434.8"/><circle cx="164.2" cy="419.8"/><circle cx="192.2" cy="439.8"/><circle cx="178.2" cy="469.8"/><circle cx="164.2" cy="479.8"/><circle cx="178.2" cy="479.8"/><circle cx="150.1" cy="454.8"/><circle cx="206.3" cy="454.8"/><circle cx="192.2" cy="434.8"/><circle cx="178.2" cy="454.8"/><circle cx="164.2" cy="434.8"/><circle cx="206.3" cy="459.8"/><circle cx="192.2" cy="484.8"/><circle cx="192.2" cy="444.8"/><circle cx="192.2" cy="474.8"/><circle class="r" cx="150.1" cy="464.8"/><circle cx="164.2" cy="429.8"/><circle cx="150.1" cy="444.8"/><circle cx="178.2" cy="464.8"/><circle cx="192.2" cy="429.8"/><circle cx="164.2" cy="424.8"/><circle cx="164.2" cy="454.8"/><circle cx="206.3" cy="484.8"/><circle cx="178.2" cy="429.8"/><circle cx="206.3" cy="434.8"/><circle cx="150.1" cy="439.8"/><circle cx="178.2" cy="474.8"/><circle cx="206.3" cy="444.8"/><circle cx="150.1" cy="479.8"/><circle cx="164.2" cy="474.8"/><circle cx="164.2" cy="439.8"/><circle cx="178.2" cy="419.8"/><circle cx="150.1" cy="469.8"/><circle cx="192.2" cy="449.8"/><circle cx="192.2" cy="424.8"/><circle cx="178.2" cy="484.8"/><circle cx="178.2" cy="444.8"/><circle cx="164.2" cy="469.8"/><circle cx="164.2" cy="444.8"/><circle cx="164.2" cy="449.8"/><circle cx="150.1" cy="449.8"/><circle cx="164.2" cy="464.8"/><circle cx="178.2" cy="449.8"/><circle cx="150.1" cy="484.8"/><circle cx="150.1" cy="474.8"/><circle cx="164.2" cy="484.8"/><circle cx="164.2" cy="459.8"/>
<rect x="228.8" y="395.5" width="89.9" height="93.5" fill="#E5E5E5"/>
<path class="g" d="M243.6 395.5v93.5M273.8 395.5v93.5M304 395.5v93.5M228.8 484.8h89.9M228.8 472.3h89.9M228.8 459.8h89.9M228.8 447.3h89.9M228.8 434.8h89.9M228.8 422.3h89.9M228.8 409.8h89.9M228.8 397.3h89.9"/>
<path class="k" d="M243.6 489.1v2M273.8 489.1v2M304 489.1v2M228.8 484.8h-2M228.8 472.3h-2M228.8 459.8h-2M228.8 447.3h-2M228.8 434.8h-2M228.8 422.3h-2M228.8 409.8h-2M228.8 397.3h-2"/>
<circle class="r" cx="266.2" cy="479.8"/><circle class="r" cx="294.9" cy="399.8"/><circle class="r" cx="284.4" cy="439.8"/><circle class="r" cx="285.9" cy="484.8"/><circle class="r" cx="257.2" cy="454.8"/><circle class="r" cx="282.9" cy="444.8"/><circle class="r" cx="304" cy="444.8"/><circle class="r" cx="264.7" cy="414.8"/><circle class="r" cx="299.5" cy="484.8"/><circle cx="272.3" cy="419.8"/><circle cx="272.3" cy="414.8"/><circle cx="293.4" cy="474.8"/><circle cx="298" cy="449.8"/><circle cx="254.2" cy="454.8"/><circle cx="287.4" cy="444.8"/><circle cx="270.8" cy="459.8"/><circle cx="284.4" cy="454.8"/><circle cx="269.3" cy="439.8"/><circle cx="294.9" cy="444.8"/><circle cx="275.3" cy="439.8"/><circle cx="278.3" cy="429.8"/><circle cx="276.8" cy="419.8"/><circle cx="275.3" cy="469.8"/><circle cx="275.3" cy="464.8"/><circle cx="264.7" cy="424.8"/><circle cx="266.2" cy="424.8"/><circle cx="270.8" cy="419.8"/><circle cx="269.3" cy="429.8"/><circle cx="298" cy="439.8"/><circle cx="264.7" cy="429.8"/><circle cx="284.4" cy="474.8"/><circle cx="282.9" cy="414.8"/><circle class="r" cx="267.8" cy="479.8"/><circle cx="299.5" cy="444.8"/><circle cx="261.7" cy="424.8"/><circle cx="288.9" cy="439.8"/><circle cx="281.4" cy="469.8"/><circle cx="246.6" cy="479.8"/><circle cx="275.3" cy="414.8"/><circle cx="296.4" cy="474.8"/><circle cx="298" cy="434.8"/><circle cx="272.3" cy="429.8"/><circle cx="273.8" cy="429.8"/><circle cx="255.7" cy="454.8"/><circle cx="296.4" cy="484.8"/><circle cx="260.2" cy="464.8"/><circle cx="254.2" cy="459.8"/><circle cx="291.9" cy="484.8"/><circle cx="285.9" cy="429.8"/><circle cx="272.3" cy="479.8"/><circle cx="273.8" cy="484.8"/><circle cx="263.2" cy="464.8"/><circle cx="275.3" cy="434.8"/><circle cx="284.4" cy="424.8"/><circle cx="298" cy="444.8"/><circle cx="279.8" cy="414.8"/><circle cx="270.8" cy="424.8"/><circle cx="272.3" cy="474.8"/><circle cx="261.7" cy="459.8"/><circle cx="261.7" cy="429.8"/><circle cx="284.4" cy="429.8"/><circle cx="276.8" cy="454.8"/><circle cx="290.4" cy="474.8"/><circle cx="264.7" cy="459.8"/><circle cx="260.2" cy="459.8"/><circle cx="272.3" cy="409.8"/><circle cx="276.8" cy="434.8"/><circle cx="267.8" cy="439.8"/><circle cx="279.8" cy="469.8"/><circle cx="298" cy="419.8"/><circle class="r" cx="304" cy="454.8"/><circle cx="266.2" cy="469.8"/><circle cx="269.3" cy="399.8"/><circle cx="275.3" cy="444.8"/><circle cx="273.8" cy="424.8"/><circle cx="260.2" cy="429.8"/><circle cx="282.9" cy="484.8"/><circle cx="267.8" cy="449.8"/><circle cx="266.2" cy="464.8"/><circle cx="269.3" cy="444.8"/><circle cx="264.7" cy="454.8"/><circle cx="291.9" cy="449.8"/><circle class="r" cx="266.2" cy="409.8"/><circle cx="288.9" cy="474.8"/><circle class="r" cx="270.8" cy="444.8"/><circle class="r" cx="255.7" cy="459.8"/><circle cx="278.3" cy="424.8"/><circle cx="288.9" cy="434.8"/><circle cx="301" cy="449.8"/><circle cx="270.8" cy="464.8"/><circle cx="257.2" cy="439.8"/><circle cx="298" cy="469.8"/><circle cx="272.3" cy="439.8"/><circle cx="284.4" cy="444.8"/><circle cx="273.8" cy="444.8"/><circle cx="270.8" cy="484.8"/><circle cx="251.2" cy="459.8"/><circle cx="276.8" cy="474.8"/><circle cx="273.8" cy="439.8"/><circle cx="285.9" cy="474.8"/><circle cx="279.8" cy="484.8"/><circle cx="291.9" cy="439.8"/><circle cx="281.4" cy="399.8"/><circle cx="275.3" cy="429.8"/><circle cx="263.2" cy="484.8"/><circle cx="294.9" cy="424.8"/><circle cx="269.3" cy="419.8"/><circle cx="282.9" cy="424.8"/><circle cx="272.3" cy="464.8"/><circle cx="273.8" cy="474.8"/><circle cx="281.4" cy="474.8"/><circle class="r" cx="264.7" cy="444.8"/><circle cx="279.8" cy="409.8"/><circle cx="267.8" cy="469.8"/><circle cx="269.3" cy="484.8"/><circle cx="272.3" cy="449.8"/><circle cx="278.3" cy="469.8"/><circle cx="264.7" cy="469.8"/><circle cx="296.4" cy="424.8"/><circle cx="266.2" cy="429.8"/><circle cx="281.4" cy="464.8"/><circle cx="261.7" cy="469.8"/><circle cx="273.8" cy="464.8"/><circle cx="263.2" cy="419.8"/><circle cx="254.2" cy="479.8"/><circle cx="258.7" cy="454.8"/><circle cx="255.7" cy="479.8"/><circle cx="276.8" cy="469.8"/><circle cx="261.7" cy="474.8"/><circle cx="275.3" cy="449.8"/><circle class="r" cx="266.2" cy="484.8"/><circle cx="282.9" cy="439.8"/><circle cx="263.2" cy="444.8"/><circle cx="260.2" cy="484.8"/><circle cx="276.8" cy="429.8"/><circle cx="276.8" cy="399.8"/><circle cx="270.8" cy="469.8"/><circle class="r" cx="291.9" cy="474.8"/><circle cx="260.2" cy="444.8"/><circle cx="290.4" cy="449.8"/><circle cx="270.8" cy="474.8"/><circle cx="272.3" cy="484.8"/><circle cx="281.4" cy="439.8"/><circle cx="263.2" cy="459.8"/><circle cx="260.2" cy="439.8"/><circle cx="249.6" cy="479.8"/><circle cx="248.1" cy="469.8"/><circle cx="267.8" cy="474.8"/><circle cx="263.2" cy="469.8"/><circle cx="257.2" cy="464.8"/><circle cx="260.2" cy="474.8"/><circle cx="281.4" cy="419.8"/><circle cx="254.2" cy="449.8"/><circle class="r" cx="249.6" cy="469.8"/><circle cx="276.8" cy="464.8"/><circle cx="254.2" cy="464.8"/><circle cx="290.4" cy="439.8"/><circle cx="287.4" cy="464.8"/><circle class="r" cx="273.8" cy="449.8"/><circle cx="264.7" cy="449.8"/><circle cx="276.8" cy="439.8"/><circle cx="252.7" cy="459.8"/><circle cx="282.9" cy="449.8"/><circle cx="269.3" cy="479.8"/><circle cx="260.2" cy="479.8"/><circle cx="276.8" cy="449.8"/><circle cx="293.4" cy="434.8"/><circle cx="279.8" cy="424.8"/><circle cx="270.8" cy="434.8"/><circle cx="287.4" cy="439.8"/><circle cx="273.8" cy="479.8"/><circle cx="273.8" cy="414.8"/><circle cx="269.3" cy="449.8"/><circle cx="266.2" cy="419.8"/><circle cx="267.8" cy="464.8"/><circle cx="263.2" cy="474.8"/><circle cx="281.4" cy="454.8"/><circle cx="270.8" cy="449.8"/><circle cx="299.5" cy="449.8"/><circle cx="258.7" cy="459.8"/><circle cx="264.7" cy="484.8"/><circle cx="293.4" cy="424.8"/><circle cx="266.2" cy="439.8"/><circle cx="282.9" cy="474.8"/><circle cx="288.9" cy="449.8"/><circle cx="261.7" cy="484.8"/><circle cx="285.9" cy="444.8"/><circle cx="278.3" cy="449.8"/><circle cx="257.2" cy="479.8"/><circle cx="249.6" cy="464.8"/><circle cx="290.4" cy="419.8"/><circle cx="261.7" cy="439.8"/><circle cx="243.6" cy="484.8"/><circle cx="275.3" cy="474.8"/><circle cx="254.2" cy="469.8"/><circle cx="293.4" cy="484.8"/><circle cx="287.4" cy="449.8"/><circle cx="246.6" cy="474.8"/><circle cx="278.3" cy="484.8"/><circle cx="269.3" cy="434.8"/><circle cx="273.8" cy="419.8"/><circle cx="285.9" cy="439.8"/><circle cx="263.2" cy="449.8"/><circle cx="290.4" cy="469.8"/><circle cx="267.8" cy="484.8"/><circle cx="258.7" cy="479.8"/><circle cx="266.2" cy="474.8"/><circle cx="245.1" cy="484.8"/><circle cx="272.3" cy="444.8"/><circle cx="278.3" cy="444.8"/><circle cx="252.7" cy="454.8"/><circle cx="275.3" cy="454.8"/><circle cx="278.3" cy="434.8"/><circle cx="285.9" cy="449.8"/><circle cx="293.4" cy="449.8"/><circle cx="266.2" cy="454.8"/><circle cx="255.7" cy="464.8"/><circle class="r" cx="248.1" cy="484.8"/><circle cx="258.7" cy="434.8"/><circle cx="260.2" cy="449.8"/><circle cx="269.3" cy="464.8"/><circle cx="269.3" cy="469.8"/><circle cx="279.8" cy="474.8"/><circle cx="261.7" cy="444.8"/><circle cx="266.2" cy="449.8"/><circle cx="257.2" cy="469.8"/><circle cx="252.7" cy="479.8"/><circle cx="278.3" cy="459.8"/><circle cx="255.7" cy="444.8"/><circle cx="258.7" cy="474.8"/><circle cx="276.8" cy="484.8"/><circle cx="255.7" cy="474.8"/><circle cx="279.8" cy="444.8"/><circle cx="251.2" cy="484.8"/><circle cx="245.1" cy="479.8"/><circle cx="278.3" cy="474.8"/><circle class="r" cx="251.2" cy="464.8"/><circle cx="267.8" cy="429.8"/><circle cx="249.6" cy="484.8"/><circle cx="251.2" cy="479.8"/><circle cx="261.7" cy="464.8"/><circle cx="258.7" cy="484.8"/><circle cx="251.2" cy="474.8"/><circle cx="257.2" cy="444.8"/><circle cx="258.7" cy="464.8"/><circle cx="261.7" cy="449.8"/><circle cx="255.7" cy="469.8"/><circle cx="255.7" cy="449.8"/><circle cx="291.9" cy="429.8"/><circle cx="267.8" cy="424.8"/><circle cx="260.2" cy="454.8"/><circle class="r" cx="269.3" cy="474.8"/><circle cx="275.3" cy="484.8"/><circle cx="291.9" cy="444.8"/><circle cx="249.6" cy="474.8"/><circle class="r" cx="254.2" cy="484.8"/><circle cx="288.9" cy="444.8"/><circle cx="263.2" cy="429.8"/><circle cx="287.4" cy="434.8"/><circle cx="263.2" cy="439.8"/><circle cx="248.1" cy="474.8"/><circle cx="264.7" cy="474.8"/><circle cx="279.8" cy="449.8"/><circle cx="276.8" cy="444.8"/><circle cx="248.1" cy="479.8"/><circle cx="254.2" cy="474.8"/><circle cx="252.7" cy="469.8"/><circle cx="258.7" cy="439.8"/><circle cx="282.9" cy="419.8"/><circle cx="258.7" cy="444.8"/><circle cx="258.7" cy="469.8"/><circle cx="281.4" cy="449.8"/><circle cx="290.4" cy="424.8"/><circle cx="255.7" cy="484.8"/><circle cx="257.2" cy="484.8"/><circle cx="246.6" cy="484.8"/><circle cx="266.2" cy="444.8"/><circle class="r" cx="252.7" cy="474.8"/><circle cx="251.2" cy="469.8"/><circle cx="267.8" cy="444.8"/><circle cx="258.7" cy="449.8"/><circle cx="257.2" cy="449.8"/><circle cx="252.7" cy="464.8"/><circle cx="294.9" cy="449.8"/><circle cx="257.2" cy="474.8"/><circle cx="252.7" cy="484.8"/><circle cx="257.2" cy="459.8"/>
<rect x="324.4" y="395.5" width="89.9" height="93.5" fill="#E5E5E5"/>
<path class="g" d="M337.6 395.5v93.5M369.4 395.5v93.5M401.2 395.5v93.5M324.4 484.8h89.9M324.4 472.3h89.9M324.4 459.8h89.9M324.4 447.3h89.9M324.4 434.8h89.9M324.4 422.3h89.9M324.4 409.8h89.9M324.4 397.3h89.9"/>
<path class="k" d="M337.6 489.1v2M369.4 489.1v2M401.2 489.1v2M324.4 484.8h-2M324.4 472.3h-2M324.4 459.8h-2M324.4 447.3h-2M324.4 434.8h-2M324.4 422.3h-2M324.4 409.8h-2M324.4 397.3h-2"/>
<circle class="r" cx="383.7" cy="399.8"/><circle class="r" cx="378.9" cy="439.8"/><circle class="r" cx="386.9" cy="444.8"/><circle class="r" cx="359.9" cy="414.8"/><circle cx="353.5" cy="479.8"/><circle cx="348.7" cy="484.8"/><circle cx="363" cy="474.8"/><circle cx="361.4" cy="414.8"/><circle cx="355.1" cy="464.8"/><circle cx="364.6" cy="429.8"/><circle cx="367.8" cy="429.8"/><circle cx="378.9" cy="449.8"/><circle cx="388.5" cy="444.8"/><circle cx="351.9" cy="454.8"/><circle cx="367.8" cy="419.8"/><circle cx="358.3" cy="424.8"/><circle cx="361.4" cy="424.8"/><circle cx="366.2" cy="419.8"/><circle cx="385.3" cy="439.8"/><circle cx="359.9" cy="434.8"/><circle cx="364.6" cy="474.8"/><circle cx="356.7" cy="474.8"/><circle cx="363" cy="444.8"/><circle cx="396.4" cy="444.8"/><circle cx="364.6" cy="439.8"/><circle cx="358.3" cy="459.8"/><circle cx="351.9" cy="459.8"/><circle cx="371" cy="414.8"/><circle cx="359.9" cy="474.8"/><circle cx="369.4" cy="429.8"/><circle class="r" cx="361.4" cy="429.8"/><circle cx="380.5" cy="429.8"/><circle class="r" cx="364.6" cy="464.8"/><circle cx="369.4" cy="434.8"/><circle cx="363" cy="414.8"/><circle cx="372.6" cy="449.8"/><circle cx="355.1" cy="454.8"/><circle cx="363" cy="469.8"/><circle cx="358.3" cy="474.8"/><circle cx="371" cy="429.8"/><circle cx="359.9" cy="484.8"/><circle cx="356.7" cy="454.8"/><circle cx="347.1" cy="459.8"/><circle cx="367.8" cy="409.8"/><circle cx="364.6" cy="444.8"/><circle cx="388.5" cy="419.8"/><circle class="r" cx="401.2" cy="454.8"/><circle cx="364.6" cy="399.8"/><circle class="r" cx="359.9" cy="444.8"/><circle cx="356.7" cy="424.8"/><circle cx="371" cy="439.8"/><circle cx="355.1" cy="474.8"/><circle cx="367.8" cy="439.8"/><circle cx="350.3" cy="484.8"/><circle cx="367.8" cy="444.8"/><circle class="r" cx="361.4" cy="409.8"/><circle cx="374.2" cy="424.8"/><circle cx="366.2" cy="439.8"/><circle cx="388.5" cy="439.8"/><circle cx="367.8" cy="399.8"/><circle cx="366.2" cy="429.8"/><circle cx="371" cy="424.8"/><circle cx="364.6" cy="419.8"/><circle class="r" cx="353.5" cy="484.8"/><circle cx="375.8" cy="409.8"/><circle cx="367.8" cy="449.8"/><circle cx="353.5" cy="464.8"/><circle cx="356.7" cy="439.8"/><circle cx="390.1" cy="424.8"/><circle cx="340.8" cy="479.8"/><circle class="r" cx="358.3" cy="449.8"/><circle cx="378.9" cy="419.8"/><circle cx="342.4" cy="479.8"/><circle cx="359.9" cy="439.8"/><circle cx="369.4" cy="464.8"/><circle cx="344" cy="479.8"/><circle cx="371" cy="449.8"/><circle cx="359.9" cy="429.8"/><circle cx="372.6" cy="399.8"/><circle class="r" cx="388.5" cy="474.8"/><circle cx="366.2" cy="449.8"/><circle cx="377.4" cy="449.8"/><circle cx="353.5" cy="474.8"/><circle cx="377.4" cy="439.8"/><circle cx="347.1" cy="474.8"/><circle cx="375.8" cy="429.8"/><circle cx="347.1" cy="464.8"/><circle cx="359.9" cy="424.8"/><circle cx="351.9" cy="464.8"/><circle cx="371" cy="419.8"/><circle cx="374.2" cy="449.8"/><circle cx="363" cy="419.8"/><circle cx="358.3" cy="464.8"/><circle cx="375.8" cy="439.8"/><circle cx="351.9" cy="479.8"/><circle cx="390.1" cy="434.8"/><circle cx="348.7" cy="464.8"/><circle cx="369.4" cy="424.8"/><circle cx="351.9" cy="474.8"/><circle cx="369.4" cy="439.8"/><circle cx="369.4" cy="414.8"/><circle cx="364.6" cy="449.8"/><circle class="r" cx="372.6" cy="444.8"/><circle cx="353.5" cy="459.8"/><circle cx="358.3" cy="419.8"/><circle cx="344" cy="469.8"/><circle cx="363" cy="449.8"/><circle cx="348.7" cy="459.8"/><circle cx="380.5" cy="424.8"/><circle cx="361.4" cy="449.8"/><circle cx="351.9" cy="484.8"/><circle cx="366.2" cy="444.8"/><circle cx="347.1" cy="479.8"/><circle cx="386.9" cy="419.8"/><circle cx="355.1" cy="439.8"/><circle cx="351.9" cy="449.8"/><circle cx="350.3" cy="464.8"/><circle cx="383.7" cy="449.8"/><circle cx="358.3" cy="434.8"/><circle cx="361.4" cy="419.8"/><circle cx="358.3" cy="439.8"/><circle cx="345.6" cy="479.8"/><circle cx="353.5" cy="469.8"/><circle cx="361.4" cy="444.8"/><circle cx="350.3" cy="469.8"/><circle cx="347.1" cy="454.8"/><circle cx="371" cy="454.8"/><circle cx="372.6" cy="434.8"/><circle cx="359.9" cy="449.8"/><circle cx="390.1" cy="449.8"/><circle cx="353.5" cy="454.8"/><circle cx="353.5" cy="434.8"/><circle cx="355.1" cy="449.8"/><circle cx="350.3" cy="474.8"/><circle cx="356.7" cy="444.8"/><circle cx="356.7" cy="449.8"/><circle cx="351.9" cy="469.8"/><circle cx="344" cy="484.8"/><circle cx="344" cy="474.8"/><circle cx="355.1" cy="429.8"/><circle cx="351.9" cy="444.8"/><circle cx="345.6" cy="464.8"/><circle cx="345.6" cy="469.8"/><circle cx="388.5" cy="429.8"/><circle cx="363" cy="424.8"/><circle class="r" cx="358.3" cy="444.8"/><circle cx="350.3" cy="454.8"/><circle cx="353.5" cy="449.8"/><circle cx="337.6" cy="484.8"/><circle class="r" cx="339.2" cy="484.8"/><circle cx="378.9" cy="444.8"/><circle cx="358.3" cy="429.8"/><circle cx="367.8" cy="434.8"/><circle cx="353.5" cy="439.8"/><circle cx="342.4" cy="474.8"/><circle cx="369.4" cy="449.8"/><circle cx="350.3" cy="449.8"/><circle cx="369.4" cy="444.8"/><circle cx="339.2" cy="479.8"/><circle cx="345.6" cy="474.8"/><circle cx="351.9" cy="439.8"/><circle cx="355.1" cy="444.8"/><circle cx="372.6" cy="419.8"/><circle cx="348.7" cy="469.8"/><circle cx="353.5" cy="444.8"/><circle cx="347.1" cy="469.8"/><circle cx="375.8" cy="449.8"/><circle cx="375.8" cy="424.8"/><circle cx="345.6" cy="484.8"/><circle cx="340.8" cy="484.8"/><circle class="r" cx="340.8" cy="474.8"/><circle cx="342.4" cy="469.8"/><circle cx="350.3" cy="444.8"/><circle cx="348.7" cy="449.8"/><circle cx="344" cy="464.8"/><circle cx="386.9" cy="449.8"/><circle cx="342.4" cy="484.8"/><circle cx="348.7" cy="474.8"/><circle cx="347.1" cy="484.8"/><circle cx="345.6" cy="459.8"/>
<rect x="420" y="395.5" width="89.9" height="93.5" fill="#E5E5E5"/>
<path class="g" d="M434.9 395.5v93.5M471.1 395.5v93.5M507.4 395.5v93.5M420 484.8h89.9M420 472.3h89.9M420 459.8h89.9M420 447.3h89.9M420 434.8h89.9M420 422.3h89.9M420 409.8h89.9M420 397.3h89.9"/>
<path class="k" d="M434.9 489.1v2M471.1 489.1v2M507.4 489.1v2M420 484.8h-2M420 472.3h-2M420 459.8h-2M420 447.3h-2M420 434.8h-2M420 422.3h-2M420 409.8h-2M420 397.3h-2"/>
<polygon points="425.8,488.7 426.2,488.5 426.6,488.2 427,487.9 427.4,487.4 427.8,486.8 428.2,485.9 428.6,484.9 429,483.6 429.4,482 429.8,480.1 430.2,478 430.6,475.5 431,472.7 431.4,469.7 431.8,466.5 432.2,463.2 432.6,459.8 433,456.5 433.4,453.3 433.8,450.3 434.2,447.5 434.6,444.9 435,442.7 435.4,440.7 435.8,438.8 436.2,437.1 436.6,435.4 437,433.6 437.4,431.6 437.8,429.4 438.2,426.9 438.6,424 439,421 439.5,417.7 439.9,414.3 440.3,411 440.7,407.9 441.1,405.1 441.5,402.8 441.9,401.1 442.3,400.2 442.7,400 443.1,400.6 443.5,401.9 443.9,403.9 444.3,406.6 444.7,409.7 445.1,413.2 445.5,416.9 445.9,420.8 446.3,424.8 446.7,428.7 447.1,432.5 447.5,436.1 447.9,439.6 448.3,442.9 448.7,446 449.1,449 449.5,451.7 449.9,454.3 450.3,456.7 450.7,458.9 451.1,461 451.5,462.8 451.9,464.4 452.3,465.8 452.7,466.9 453.1,467.7 453.5,468.1 453.9,468.2 454.3,467.9 454.7,467.2 455.1,466 455.5,464.4 455.9,462.4 456.3,460 456.7,457.3 457.1,454.2 457.5,451 457.9,447.7 458.3,444.5 458.7,441.4 459.1,438.5 459.5,436 459.9,434 460.3,432.4 460.7,431.4 461.1,431 461.5,431.1 461.9,431.7 462.3,432.8 462.7,434.3 463.1,436.1 463.5,438.2 463.9,440.4 464.3,442.7 464.7,445.1 465.1,447.4 465.5,449.8 465.9,452.1 466.3,454.3 466.7,456.4 467.1,458.5 467.5,460.4 467.9,462.3 468.3,464.1 468.7,465.8 469.1,467.4 469.5,468.9 469.9,470.3 470.3,471.6 470.7,472.7 471.1,473.8 471.5,474.7 471.9,475.6 472.3,476.3 472.7,476.9 473.1,477.4 473.5,477.9 473.9,478.3 474.3,478.6 474.7,478.9 475.1,479.1 475.5,479.4 475.9,479.6 476.3,479.8 476.7,480 477.1,480.2 477.5,480.5 477.9,480.7 478.3,480.9 478.7,481.1 479.1,481.4 479.5,481.6 479.9,481.9 480.3,482.1 480.7,482.4 481.1,482.7 481.6,483 482,483.3 482.4,483.6 482.8,483.9 483.2,484.2 483.6,484.5 484,484.8 484.4,485.1 484.8,485.4 485.2,485.7 485.6,486 486,486.3 486.4,486.5 486.8,486.8 487.2,487 487.6,487.2 488,487.4 488.4,487.6 488.8,487.7 489.2,487.9 489.6,488 490,488.1 490.4,488.2 490.8,488.3 491.2,488.4 491.6,488.4 492,488.5 492.4,488.5 492.8,488.5 493.2,488.5 493.6,488.5 494,488.5 494.4,488.5 494.8,488.4 495.2,488.4 495.6,488.4 496,488.4 496.4,488.4 496.8,488.4 497.2,488.4 497.6,488.5 498,488.5 498.4,488.5 498.8,488.6 499.2,488.6 499.6,488.7 500,488.8 500.4,488.8 500.8,488.8 501.2,488.9 501.6,488.9 502,489 502.4,489 502.8,489 503.2,489 503.6,489 504,489.1 504.4,489.1 504.8,489.1 505.2,489.1 505.6,489.1 505.6,489.1 425.8,489.1" fill="#348ABD" fill-opacity=".25" stroke="#348ABD" stroke-width=".4" stroke-linejoin="round"/>
<polygon points="423.3,488.9 423.7,488.8 424.1,488.7 424.5,488.6 425,488.5 425.4,488.2 425.8,488 426.2,487.7 426.7,487.3 427.1,486.8 427.5,486.3 427.9,485.6 428.4,484.9 428.8,484.1 429.2,483.1 429.7,482.1 430.1,481 430.5,479.8 430.9,478.6 431.4,477.3 431.8,476 432.2,474.8 432.6,473.6 433.1,472.4 433.5,471.4 433.9,470.5 434.3,469.7 434.8,469.1 435.2,468.7 435.6,468.4 436.1,468.3 436.5,468.3 436.9,468.5 437.3,468.8 437.8,469.2 438.2,469.6 438.6,470.2 439,470.8 439.5,471.4 439.9,472 440.3,472.6 440.7,473.2 441.2,473.8 441.6,474.4 442,474.9 442.5,475.5 442.9,476 443.3,476.6 443.7,477.1 444.2,477.7 444.6,478.2 445,478.8 445.4,479.3 445.9,479.9 446.3,480.4 446.7,480.9 447.1,481.4 447.6,481.9 448,482.4 448.4,482.9 448.9,483.3 449.3,483.7 449.7,484 450.1,484.4 450.6,484.6 451,484.9 451.4,485.1 451.8,485.3 452.3,485.4 452.7,485.5 453.1,485.6 453.6,485.6 454,485.6 454.4,485.5 454.8,485.4 455.3,485.3 455.7,485.1 456.1,485 456.5,484.7 457,484.5 457.4,484.3 457.8,484 458.2,483.8 458.7,483.6 459.1,483.4 459.5,483.2 460,483 460.4,482.9 460.8,482.8 461.2,482.8 461.7,482.8 462.1,482.9 462.5,483 462.9,483.1 463.4,483.3 463.8,483.5 464.2,483.8 464.6,484 465.1,484.3 465.5,484.6 465.9,485 466.4,485.3 466.8,485.6 467.2,485.9 467.6,486.2 468.1,486.5 468.5,486.7 468.9,487 469.3,487.2 469.8,487.4 470.2,487.6 470.6,487.8 471,487.9 471.5,488.1 471.9,488.2 472.3,488.3 472.8,488.4 473.2,488.5 473.6,488.5 474,488.6 474.5,488.6 474.9,488.7 475.3,488.7 475.7,488.8 476.2,488.8 476.6,488.8 477,488.8 477.4,488.9 477.9,488.9 478.3,488.9 478.7,488.9 479.2,488.9 479.6,488.9 480,488.9 480.4,488.9 480.9,488.9 481.3,488.9 481.7,488.9 482.1,488.9 482.6,488.9 483,488.9 483.4,488.9 483.8,488.9 484.3,488.8 484.7,488.8 485.1,488.8 485.6,488.8 486,488.8 486.4,488.8 486.8,488.8 487.3,488.8 487.7,488.8 488.1,488.8 488.5,488.8 489,488.8 489.4,488.8 489.8,488.8 490.3,488.8 490.7,488.8 491.1,488.8 491.5,488.8 492,488.8 492.4,488.8 492.8,488.8 493.2,488.8 493.7,488.9 494.1,488.9 494.5,488.9 494.9,488.9 495.4,488.9 495.8,488.9 496.2,488.9 496.7,488.9 497.1,488.9 497.5,488.9 497.9,488.9 498.4,488.9 498.8,488.9 499.2,489 499.6,489 500.1,489 500.5,489 500.9,489 501.3,489 501.8,489 502.2,489 502.6,489 503.1,489 503.5,489.1 503.9,489.1 504.3,489.1 504.8,489.1 505.2,489.1 505.6,489.1 506,489.1 506.5,489.1 506.9,489.1 507.3,489.1 507.7,489.1 508.2,489.1 508.2,489.1 423.3,489.1" fill="#E24A33" fill-opacity=".25" stroke="#E24A33" stroke-width=".4" stroke-linejoin="round"/>
<text class="t" x="49.6" y="498" text-anchor="middle">0</text>
<text class="t" x="81.2" y="498" text-anchor="middle">10000</text>
<text class="t" x="112.8" y="498" text-anchor="middle">20000</text>
<text class="l" x="82.6" y="507.6" text-anchor="middle">MonthlyIncome</text>
<text class="t" x="136.1" y="498" text-anchor="middle">0</text>
<text class="t" x="164.2" y="498" text-anchor="middle">2</text>
<text class="t" x="192.2" y="498" text-anchor="middle">4</text>
<text class="t" x="220.3" y="498" text-anchor="middle">6</text>
<text class="l" x="178.1" y="507.6" text-anchor="middle">JobLevel</text>
<text class="t" x="243.6" y="498" text-anchor="middle">0</text>
<text class="t" x="273.8" y="498" text-anchor="middle">20</text>
<text class="t" x="304" y="498" text-anchor="middle">40</text>
<text class="l" x="273.8" y="507.6" text-anchor="middle">TotalWorkingYears</text>
<text class="t" x="337.6" y="498" text-anchor="middle">0</text>
<text class="t" x="369.4" y="498" text-anchor="middle">20</text>
<text class="t" x="401.2" y="498" text-anchor="middle">40</text>
<text class="l" x="369.3" y="507.6" text-anchor="middle">YearsAtCompany</text>
<text class="t" x="434.9" y="498" text-anchor="middle">0</text>
<text class="t" x="471.1" y="498" text-anchor="middle">10</text>
<text class="t" x="507.4" y="498" text-anchor="middle">20</text>
<text class="l" x="464.9" y="507.6" text-anchor="middle">YearsWithCurrManager</text>
<text class="t" x="32.6" y="75.8" text-anchor="end">5,000</text>
<text class="t" x="32.6" y="53.4" text-anchor="end">10,000</text>
<text class="t" x="32.6" y="31" text-anchor="end">15,000</text>
<text class="t" x="32.6" y="8.6" text-anchor="end">20,000</text>
<text class="l" transform="translate(8.6 50.1) rotate(-90)" text-anchor="middle">MonthlyIncome</text>
<text class="t" x="32.6" y="192.1" text-anchor="end">1</text>
<text class="t" x="32.6" y="170.8" text-anchor="end">2</text>
<text class="t" x="32.6" y="149.5" text-anchor="end">3</text>
<text class="t" x="32.6" y="128.3" text-anchor="end">4</text>
<text class="t" x="32.6" y="107" text-anchor="end">5</text>
<text class="l" transform="translate(23.7 147.5) rotate(-90)" text-anchor="middle">JobLevel</text>
<text class="t" x="32.6" y="290.4" text-anchor="end">0</text>
<text class="t" x="32.6" y="269.2" text-anchor="end">10</text>
<text class="t" x="32.6" y="247.9" text-anchor="end">20</text>
<text class="t" x="32.6" y="226.6" text-anchor="end">30</text>
<text class="t" x="32.6" y="205.4" text-anchor="end">40</text>
<text class="l" transform="translate(21.4 246.8) rotate(-90)" text-anchor="middle">TotalWorkingYears</text>
<text class="t" x="32.6" y="388.8" text-anchor="end">0</text>
<text class="t" x="32.6" y="367.5" text-anchor="end">10</text>
<text class="t" x="32.6" y="346.3" text-anchor="end">20</text>
<text class="t" x="32.6" y="325" text-anchor="end">30</text>
<text class="t" x="32.6" y="303.7" text-anchor="end">40</text>
<text class="l" transform="translate(21.4 345.2) rotate(-90)" text-anchor="middle">YearsAtCompany</text>
<text class="t" x="32.6" y="487.1" text-anchor="end">0</text>
<text class="t" x="32.6" y="474.6" text-anchor="end">2</text>
<text class="t" x="32.6" y="462.1" text-anchor="end">5</text>
<text class="t" x="32.6" y="449.6" text-anchor="end">8</text>
<text class="t" x="32.6" y="437.1" text-anchor="end">10</text>
<text class="t" x="32.6" y="424.6" text-anchor="end">12</text>
<text class="t" x="32.6" y="412.1" text-anchor="end">15</text>
<text class="t" x="32.6" y="399.6" text-anchor="end">18</text>
<text class="l" transform="translate(21.4 443.5) rotate(-90)" text-anchor="middle">YearsWithCurrManager</text>
<text class="t" x="531.5" y="248.1" text-anchor="middle" style="fill:#111;stroke:#111">Attrition</text>
<circle class="r" cx="528" cy="255.9" style="r:2px;stroke:none"/><circle cx="528" cy="264.4" style="r:2px;stroke:none"/>
<text class="t" x="538.7" y="257.3" style="fill:#111;stroke:#111">1</text><text class="t" x="538.7" y="265.8" style="fill:#111;stroke:#111">0</text>
</svg></body></html>
